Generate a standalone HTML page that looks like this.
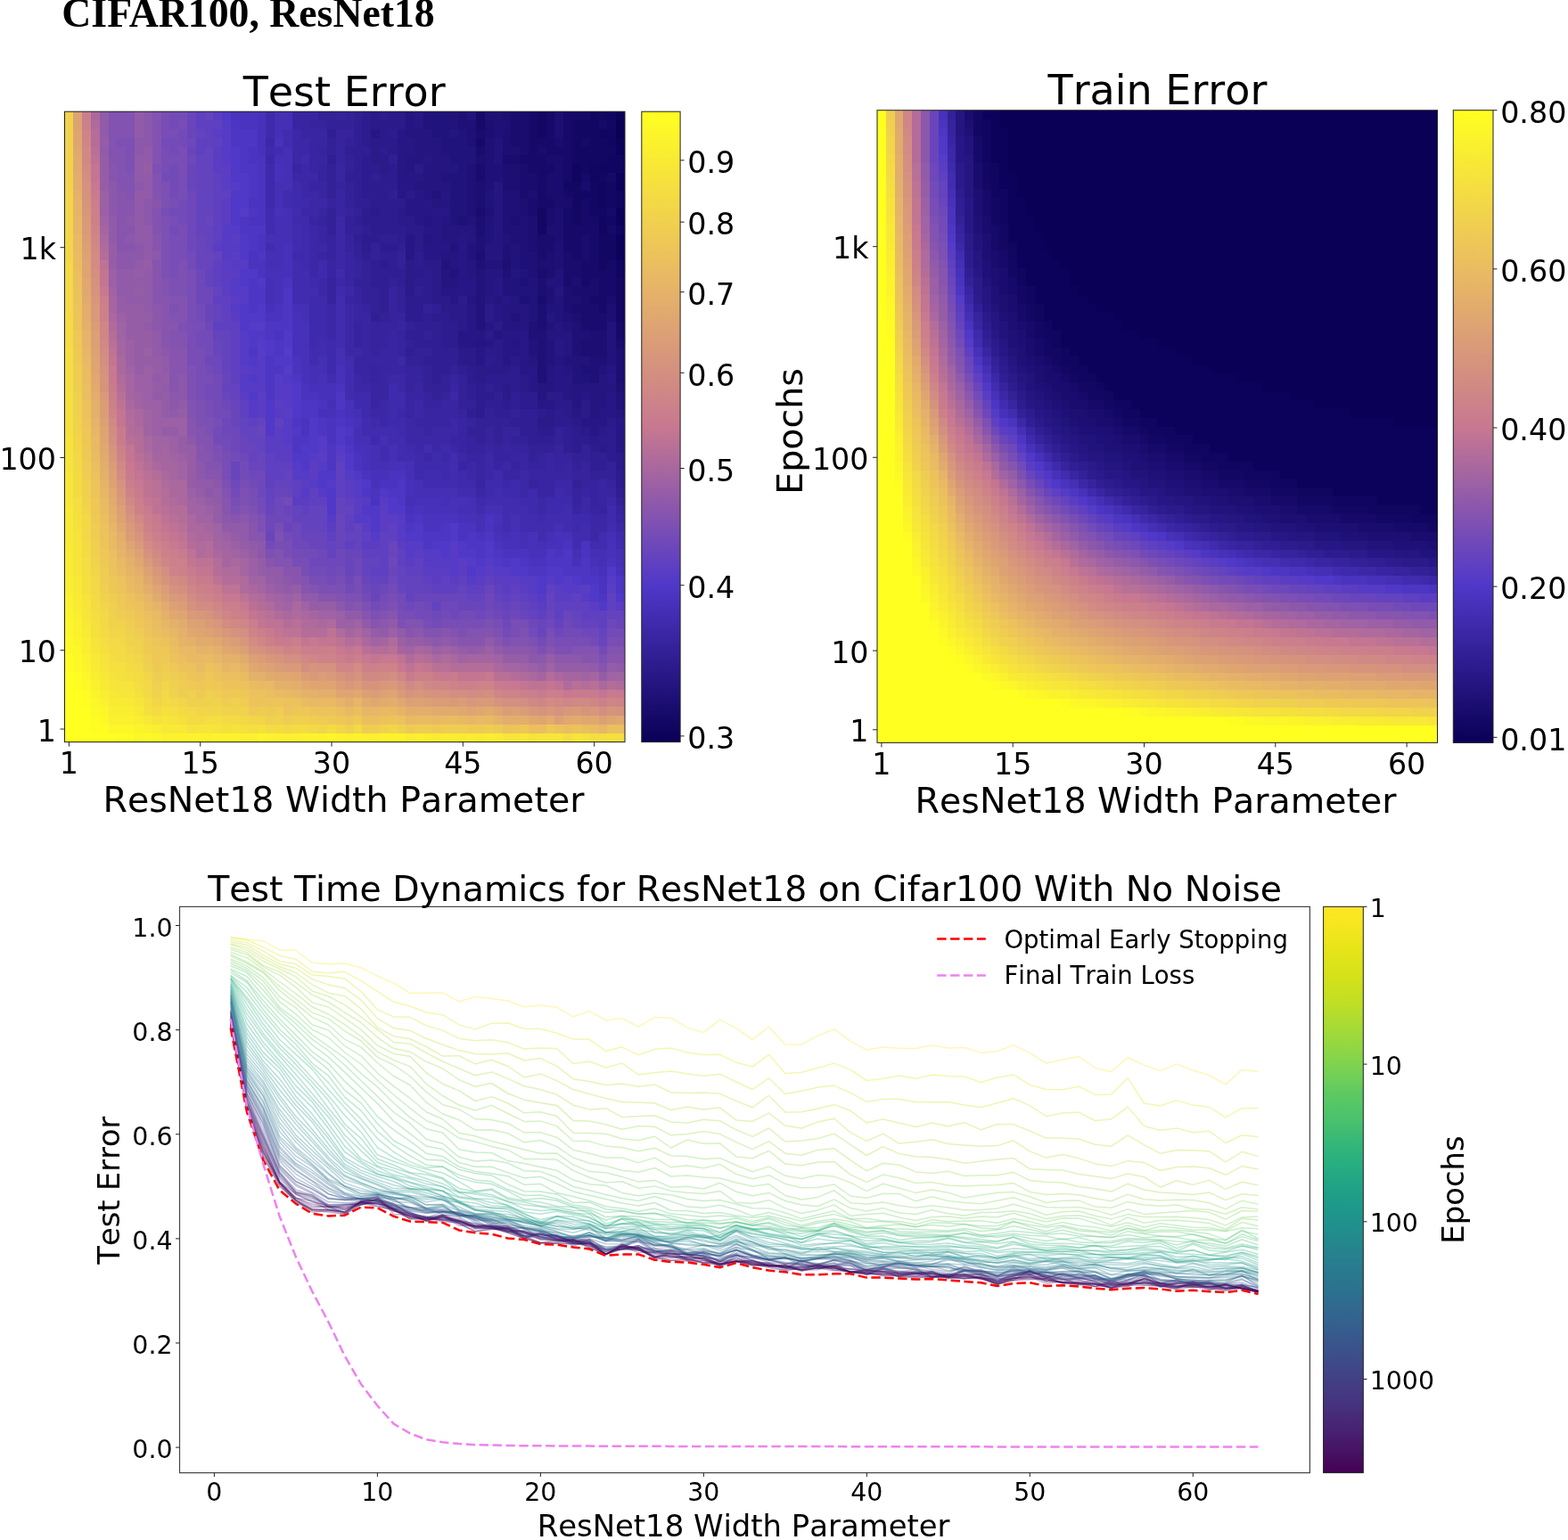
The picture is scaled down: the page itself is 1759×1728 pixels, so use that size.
<!DOCTYPE html>
<html><head><meta charset="utf-8"><title>CIFAR100, ResNet18</title>
<style>
html,body{margin:0;padding:0;background:#fff;}
body{width:1759px;height:1728px;overflow:hidden;position:relative;}
h2{position:absolute;left:69.312px;top:-7.872159999999999px;margin:0;font-family:'Liberation Serif','Times New Roman',serif;font-weight:bold;font-size:45.76px;line-height:1;white-space:nowrap;color:#000;}
svg{position:absolute;left:0;top:0;}
svg text{font-family:'DejaVu Sans','Liberation Sans',sans-serif;fill:#000;font-kerning:none;}
</style></head><body>
<h2>CIFAR100, ResNet18</h2>
<svg width="1759" height="1728" viewBox="0 0 1759 1728">
<g transform="translate(72.5,125.2) scale(9.82031,9.82500)" shape-rendering="crispEdges">
<rect x="0" y="0" width="64" height="72" fill="#0a0056"/>
<path fill="#0d025b" d="M63 16h1v1h-1zM63 15h1v1h-1zM63 14h1v1h-1zM63 12h1v1h-1zM63 11h1v1h-1zM63 8h1v1h-1zM63 7h1v1h-1zM63 4h1v1h-1zM63 3h1v1h-1zM63 0h1v1h-1z"/>
<path fill="#100560" d="M63 18h1v1h-1zM63 17h1v1h-1zM61 13h1v1h-1zM63 13h1v1h-1zM61 12h1v1h-1zM61 10h1v1h-1zM63 10h1v1h-1zM61 9h1v1h-1zM63 9h1v1h-1zM61 8h1v1h-1zM58 7h1v1h-1zM60 7h1v1h-1zM58 6h1v1h-1zM60 6h4v1h-4zM62 5h2v1h-2zM62 3h1v1h-1zM61 2h2v1h-2zM60 0h1v1h-1zM62 0h1v1h-1z"/>
<path fill="#130764" d="M63 23h1v1h-1zM63 22h1v1h-1zM63 21h1v1h-1zM63 20h1v1h-1zM63 19h1v1h-1zM61 17h1v1h-1zM61 16h2v1h-2zM61 15h2v1h-2zM61 14h2v1h-2zM54 13h1v1h-1zM54 12h1v1h-1zM58 12h1v1h-1zM62 12h1v1h-1zM54 11h1v1h-1zM58 11h1v1h-1zM60 11h2v1h-2zM58 10h1v1h-1zM60 10h1v1h-1zM62 10h1v1h-1zM58 9h3v1h-3zM62 9h1v1h-1zM57 8h2v1h-2zM60 8h1v1h-1zM62 8h1v1h-1zM61 7h1v1h-1zM59 6h1v1h-1zM58 5h4v1h-4zM58 4h5v1h-5zM58 3h1v1h-1zM60 3h2v1h-2zM54 2h1v1h-1zM58 2h3v1h-3zM54 1h1v1h-1zM58 1h3v1h-3zM62 1h1v1h-1zM54 0h1v1h-1zM61 0h1v1h-1z"/>
<path fill="#160969" d="M63 25h1v1h-1zM63 24h1v1h-1zM61 22h1v1h-1zM60 21h2v1h-2zM61 20h2v1h-2zM59 19h1v1h-1zM61 19h2v1h-2zM59 18h4v1h-4zM59 17h2v1h-2zM62 17h1v1h-1zM58 16h1v1h-1zM60 16h1v1h-1zM57 15h2v1h-2zM60 15h1v1h-1zM57 14h2v1h-2zM60 14h1v1h-1zM57 13h4v1h-4zM62 13h1v1h-1zM57 12h1v1h-1zM59 12h2v1h-2zM57 11h1v1h-1zM59 11h1v1h-1zM62 11h1v1h-1zM54 10h2v1h-2zM59 10h1v1h-1zM54 9h1v1h-1zM57 9h1v1h-1zM54 8h1v1h-1zM54 7h1v1h-1zM57 7h1v1h-1zM59 7h1v1h-1zM62 7h1v1h-1zM53 6h3v1h-3zM57 6h1v1h-1zM52 5h3v1h-3zM57 5h1v1h-1zM53 4h1v1h-1zM55 4h3v1h-3zM47 3h1v1h-1zM53 3h3v1h-3zM57 3h1v1h-1zM59 3h1v1h-1zM53 2h1v1h-1zM55 2h1v1h-1zM57 2h1v1h-1zM47 1h1v1h-1zM53 1h1v1h-1zM55 1h1v1h-1zM57 1h1v1h-1zM61 1h1v1h-1zM47 0h1v1h-1zM53 0h1v1h-1zM55 0h1v1h-1zM57 0h3v1h-3z"/>
<path fill="#190c6e" d="M63 26h1v1h-1zM59 24h3v1h-3zM59 23h3v1h-3zM58 22h3v1h-3zM54 21h1v1h-1zM59 21h1v1h-1zM62 21h1v1h-1zM58 20h3v1h-3zM57 19h1v1h-1zM60 19h1v1h-1zM54 18h1v1h-1zM57 18h2v1h-2zM57 17h2v1h-2zM54 16h1v1h-1zM57 16h1v1h-1zM59 16h1v1h-1zM54 15h2v1h-2zM59 15h1v1h-1zM54 14h2v1h-2zM59 14h1v1h-1zM55 12h1v1h-1zM47 11h1v1h-1zM53 11h1v1h-1zM55 11h1v1h-1zM53 10h1v1h-1zM56 10h2v1h-2zM52 9h1v1h-1zM55 9h2v1h-2zM52 8h2v1h-2zM55 8h2v1h-2zM59 8h1v1h-1zM47 7h1v1h-1zM52 7h2v1h-2zM55 7h2v1h-2zM47 6h1v1h-1zM52 6h1v1h-1zM56 6h1v1h-1zM50 5h2v1h-2zM55 5h2v1h-2zM47 4h1v1h-1zM52 4h1v1h-1zM54 4h1v1h-1zM51 3h2v1h-2zM56 3h1v1h-1zM47 2h1v1h-1zM51 2h2v1h-2zM51 1h2v1h-2zM51 0h2v1h-2z"/>
<path fill="#1c0e72" d="M63 30h1v1h-1zM63 29h1v1h-1zM63 28h1v1h-1zM59 27h3v1h-3zM63 27h1v1h-1zM59 26h3v1h-3zM60 25h2v1h-2zM54 24h1v1h-1zM54 23h1v1h-1zM58 23h1v1h-1zM62 23h1v1h-1zM54 22h1v1h-1zM57 22h1v1h-1zM62 22h1v1h-1zM57 21h2v1h-2zM54 20h1v1h-1zM57 20h1v1h-1zM54 19h1v1h-1zM58 19h1v1h-1zM55 18h1v1h-1zM50 17h1v1h-1zM54 17h2v1h-2zM47 16h1v1h-1zM55 16h1v1h-1zM53 15h1v1h-1zM53 14h1v1h-1zM56 14h1v1h-1zM47 13h1v1h-1zM53 13h1v1h-1zM55 13h2v1h-2zM47 12h1v1h-1zM51 12h1v1h-1zM53 12h1v1h-1zM56 12h1v1h-1zM52 11h1v1h-1zM56 11h1v1h-1zM47 10h1v1h-1zM52 10h1v1h-1zM47 9h1v1h-1zM53 9h1v1h-1zM47 8h1v1h-1zM50 8h2v1h-2zM50 7h2v1h-2zM50 6h2v1h-2zM47 5h1v1h-1zM50 4h2v1h-2zM50 3h1v1h-1zM48 2h1v1h-1zM50 2h1v1h-1zM56 2h1v1h-1zM48 1h1v1h-1zM56 1h1v1h-1zM50 0h1v1h-1zM56 0h1v1h-1z"/>
<path fill="#1e1077" d="M63 31h1v1h-1zM54 30h1v1h-1zM60 30h1v1h-1zM54 29h1v1h-1zM59 29h2v1h-2zM54 28h1v1h-1zM60 28h2v1h-2zM54 27h1v1h-1zM58 27h1v1h-1zM54 26h1v1h-1zM58 26h1v1h-1zM53 25h2v1h-2zM58 25h2v1h-2zM53 24h1v1h-1zM58 24h1v1h-1zM57 23h1v1h-1zM52 21h1v1h-1zM55 21h1v1h-1zM55 20h1v1h-1zM52 19h1v1h-1zM50 18h1v1h-1zM53 18h1v1h-1zM47 17h1v1h-1zM52 17h2v1h-2zM56 17h1v1h-1zM50 16h1v1h-1zM52 16h2v1h-2zM56 16h1v1h-1zM47 15h1v1h-1zM50 15h1v1h-1zM52 15h1v1h-1zM56 15h1v1h-1zM47 14h1v1h-1zM51 14h2v1h-2zM50 13h3v1h-3zM45 12h1v1h-1zM50 12h1v1h-1zM52 12h1v1h-1zM46 11h1v1h-1zM48 11h1v1h-1zM50 11h2v1h-2zM46 10h1v1h-1zM50 10h2v1h-2zM46 9h1v1h-1zM50 9h2v1h-2zM46 8h1v1h-1zM48 8h1v1h-1zM46 7h1v1h-1zM48 7h2v1h-2zM46 6h1v1h-1zM48 6h2v1h-2zM48 5h1v1h-1zM48 4h1v1h-1zM46 3h1v1h-1zM48 3h1v1h-1zM46 2h1v1h-1zM49 2h1v1h-1zM45 1h2v1h-2zM49 1h2v1h-2zM45 0h1v1h-1zM48 0h2v1h-2z"/>
<path fill="#21137c" d="M63 33h1v1h-1zM63 32h1v1h-1zM58 30h2v1h-2zM58 29h1v1h-1zM61 29h1v1h-1zM55 28h1v1h-1zM57 28h3v1h-3zM62 28h1v1h-1zM53 27h1v1h-1zM55 27h1v1h-1zM62 27h1v1h-1zM53 26h1v1h-1zM55 26h1v1h-1zM62 26h1v1h-1zM62 25h1v1h-1zM47 24h1v1h-1zM55 24h1v1h-1zM57 24h1v1h-1zM62 24h1v1h-1zM47 23h1v1h-1zM51 23h1v1h-1zM53 23h1v1h-1zM56 23h1v1h-1zM47 22h1v1h-1zM53 22h1v1h-1zM55 22h2v1h-2zM47 21h1v1h-1zM53 21h1v1h-1zM56 21h1v1h-1zM47 20h1v1h-1zM50 20h4v1h-4zM47 19h1v1h-1zM50 19h2v1h-2zM53 19h1v1h-1zM55 19h2v1h-2zM44 18h1v1h-1zM47 18h1v1h-1zM52 18h1v1h-1zM56 18h1v1h-1zM43 17h1v1h-1zM48 17h2v1h-2zM51 17h1v1h-1zM46 16h1v1h-1zM51 16h1v1h-1zM44 15h1v1h-1zM46 15h1v1h-1zM51 15h1v1h-1zM48 14h1v1h-1zM50 14h1v1h-1zM48 13h1v1h-1zM44 12h1v1h-1zM46 12h1v1h-1zM48 12h1v1h-1zM44 11h2v1h-2zM44 10h2v1h-2zM48 10h1v1h-1zM42 9h1v1h-1zM44 9h2v1h-2zM48 9h1v1h-1zM44 8h2v1h-2zM43 7h3v1h-3zM45 6h1v1h-1zM44 5h3v1h-3zM49 5h1v1h-1zM43 4h4v1h-4zM49 4h1v1h-1zM43 3h3v1h-3zM49 3h1v1h-1zM42 2h2v1h-2zM45 2h1v1h-1zM41 1h4v1h-4zM41 0h4v1h-4zM46 0h1v1h-1z"/>
<path fill="#241581" d="M60 34h1v1h-1zM63 34h1v1h-1zM58 33h1v1h-1zM60 33h2v1h-2zM54 32h1v1h-1zM58 32h1v1h-1zM60 32h2v1h-2zM54 31h2v1h-2zM58 31h5v1h-5zM55 30h1v1h-1zM61 30h1v1h-1zM55 29h1v1h-1zM57 29h1v1h-1zM62 29h1v1h-1zM53 28h1v1h-1zM56 28h1v1h-1zM57 27h1v1h-1zM47 26h1v1h-1zM51 26h1v1h-1zM57 26h1v1h-1zM49 25h1v1h-1zM55 25h3v1h-3zM50 24h3v1h-3zM56 24h1v1h-1zM50 23h1v1h-1zM52 23h1v1h-1zM55 23h1v1h-1zM50 22h3v1h-3zM46 21h1v1h-1zM49 21h1v1h-1zM51 21h1v1h-1zM48 20h1v1h-1zM56 20h1v1h-1zM43 19h2v1h-2zM48 19h1v1h-1zM43 18h1v1h-1zM46 18h1v1h-1zM48 18h2v1h-2zM51 18h1v1h-1zM44 17h1v1h-1zM46 17h1v1h-1zM43 16h2v1h-2zM48 16h2v1h-2zM48 15h2v1h-2zM41 14h1v1h-1zM43 14h2v1h-2zM46 14h1v1h-1zM49 14h1v1h-1zM43 13h4v1h-4zM49 13h1v1h-1zM41 12h1v1h-1zM43 12h1v1h-1zM49 12h1v1h-1zM49 11h1v1h-1zM42 10h2v1h-2zM49 10h1v1h-1zM41 9h1v1h-1zM49 9h1v1h-1zM40 8h4v1h-4zM49 8h1v1h-1zM41 7h2v1h-2zM39 6h1v1h-1zM41 6h4v1h-4zM39 5h2v1h-2zM42 5h2v1h-2zM40 4h3v1h-3zM40 3h3v1h-3zM39 2h3v1h-3zM44 2h1v1h-1zM39 1h1v1h-1zM39 0h1v1h-1z"/>
<path fill="#271786" d="M63 38h1v1h-1zM63 37h1v1h-1zM60 36h1v1h-1zM63 36h1v1h-1zM59 35h3v1h-3zM63 35h1v1h-1zM58 34h1v1h-1zM61 34h2v1h-2zM54 33h2v1h-2zM62 33h1v1h-1zM57 32h1v1h-1zM59 32h1v1h-1zM62 32h1v1h-1zM53 31h1v1h-1zM56 31h2v1h-2zM53 30h1v1h-1zM56 30h2v1h-2zM62 30h1v1h-1zM52 29h2v1h-2zM56 29h1v1h-1zM47 28h1v1h-1zM50 28h1v1h-1zM52 28h1v1h-1zM47 27h1v1h-1zM50 27h3v1h-3zM56 27h1v1h-1zM45 26h2v1h-2zM48 26h1v1h-1zM50 26h1v1h-1zM52 26h1v1h-1zM56 26h1v1h-1zM45 25h3v1h-3zM50 25h3v1h-3zM46 24h1v1h-1zM48 24h1v1h-1zM46 23h1v1h-1zM49 23h1v1h-1zM46 22h1v1h-1zM49 22h1v1h-1zM44 21h1v1h-1zM48 21h1v1h-1zM50 21h1v1h-1zM43 20h4v1h-4zM49 20h1v1h-1zM45 19h2v1h-2zM49 19h1v1h-1zM45 18h1v1h-1zM45 17h1v1h-1zM39 16h1v1h-1zM41 16h2v1h-2zM45 16h1v1h-1zM39 15h1v1h-1zM41 15h3v1h-3zM45 15h1v1h-1zM39 14h1v1h-1zM42 14h1v1h-1zM45 14h1v1h-1zM41 13h2v1h-2zM40 12h1v1h-1zM42 12h1v1h-1zM39 11h5v1h-5zM39 10h3v1h-3zM38 9h1v1h-1zM40 9h1v1h-1zM43 9h1v1h-1zM38 8h2v1h-2zM38 7h3v1h-3zM38 6h1v1h-1zM38 5h1v1h-1zM41 5h1v1h-1zM38 4h2v1h-2zM38 3h2v1h-2zM35 2h1v1h-1zM38 2h1v1h-1zM40 1h1v1h-1zM40 0h1v1h-1z"/>
<path fill="#2a1a8a" d="M63 40h1v1h-1zM63 39h1v1h-1zM61 38h1v1h-1zM60 37h1v1h-1zM59 36h1v1h-1zM61 36h1v1h-1zM54 35h2v1h-2zM58 35h1v1h-1zM62 35h1v1h-1zM55 34h1v1h-1zM57 34h1v1h-1zM59 34h1v1h-1zM56 33h2v1h-2zM59 33h1v1h-1zM50 32h1v1h-1zM55 32h2v1h-2zM50 31h1v1h-1zM52 31h1v1h-1zM47 30h1v1h-1zM52 30h1v1h-1zM47 29h4v1h-4zM45 28h2v1h-2zM49 28h1v1h-1zM51 28h1v1h-1zM45 27h2v1h-2zM48 27h2v1h-2zM49 26h1v1h-1zM48 25h1v1h-1zM45 24h1v1h-1zM49 24h1v1h-1zM44 23h2v1h-2zM48 23h1v1h-1zM43 22h3v1h-3zM48 22h1v1h-1zM42 21h2v1h-2zM39 20h1v1h-1zM42 20h1v1h-1zM39 19h1v1h-1zM42 19h1v1h-1zM39 18h2v1h-2zM42 18h1v1h-1zM39 17h1v1h-1zM41 17h2v1h-2zM40 15h1v1h-1zM40 14h1v1h-1zM39 13h2v1h-2zM38 12h2v1h-2zM35 11h1v1h-1zM38 11h1v1h-1zM39 9h1v1h-1zM36 6h1v1h-1zM40 6h1v1h-1zM35 5h2v1h-2zM35 4h1v1h-1zM37 4h1v1h-1zM35 3h3v1h-3zM36 2h1v1h-1zM35 1h4v1h-4zM35 0h1v1h-1zM37 0h2v1h-2z"/>
<path fill="#2d1c8f" d="M63 42h1v1h-1zM63 41h1v1h-1zM62 39h1v1h-1zM58 38h1v1h-1zM60 38h1v1h-1zM62 38h1v1h-1zM58 37h2v1h-2zM61 37h2v1h-2zM54 36h2v1h-2zM58 36h1v1h-1zM62 36h1v1h-1zM56 35h2v1h-2zM47 34h1v1h-1zM54 34h1v1h-1zM56 34h1v1h-1zM47 33h1v1h-1zM50 33h1v1h-1zM52 33h2v1h-2zM47 32h2v1h-2zM52 32h2v1h-2zM47 31h1v1h-1zM49 31h1v1h-1zM51 31h1v1h-1zM46 30h1v1h-1zM48 30h4v1h-4zM46 29h1v1h-1zM51 29h1v1h-1zM48 28h1v1h-1zM43 26h2v1h-2zM43 25h2v1h-2zM43 24h2v1h-2zM39 23h2v1h-2zM42 23h2v1h-2zM39 22h2v1h-2zM39 21h3v1h-3zM45 21h1v1h-1zM41 20h1v1h-1zM40 19h2v1h-2zM41 18h1v1h-1zM36 17h1v1h-1zM40 17h1v1h-1zM40 16h1v1h-1zM34 15h1v1h-1zM36 15h2v1h-2zM34 14h2v1h-2zM38 14h1v1h-1zM35 13h4v1h-4zM34 12h4v1h-4zM34 11h1v1h-1zM36 11h2v1h-2zM35 10h4v1h-4zM34 9h3v1h-3zM34 8h4v1h-4zM34 7h1v1h-1zM36 7h2v1h-2zM34 6h2v1h-2zM37 6h1v1h-1zM34 5h1v1h-1zM36 4h1v1h-1zM34 3h1v1h-1zM34 2h1v1h-1zM37 2h1v1h-1zM34 1h1v1h-1zM34 0h1v1h-1zM36 0h1v1h-1z"/>
<path fill="#301e94" d="M63 43h1v1h-1zM60 40h2v1h-2zM60 39h2v1h-2zM57 38h1v1h-1zM53 37h3v1h-3zM57 37h1v1h-1zM52 36h2v1h-2zM57 36h1v1h-1zM51 35h3v1h-3zM46 34h1v1h-1zM49 34h2v1h-2zM52 34h2v1h-2zM48 33h2v1h-2zM51 33h1v1h-1zM46 32h1v1h-1zM49 32h1v1h-1zM51 32h1v1h-1zM46 31h1v1h-1zM48 31h1v1h-1zM42 30h1v1h-1zM42 29h2v1h-2zM45 29h1v1h-1zM41 28h4v1h-4zM39 27h1v1h-1zM42 27h3v1h-3zM40 26h3v1h-3zM39 25h2v1h-2zM42 25h1v1h-1zM40 24h3v1h-3zM35 23h1v1h-1zM41 23h1v1h-1zM36 22h1v1h-1zM42 22h1v1h-1zM36 21h1v1h-1zM36 20h1v1h-1zM40 20h1v1h-1zM35 19h2v1h-2zM38 19h1v1h-1zM35 18h4v1h-4zM35 17h1v1h-1zM37 17h1v1h-1zM34 16h1v1h-1zM36 16h2v1h-2zM38 15h1v1h-1zM33 14h1v1h-1zM36 14h2v1h-2zM34 13h1v1h-1zM33 12h1v1h-1zM33 10h2v1h-2zM33 9h1v1h-1zM37 9h1v1h-1zM33 8h1v1h-1zM32 7h2v1h-2zM35 7h1v1h-1zM33 6h1v1h-1zM30 5h1v1h-1zM33 5h1v1h-1zM37 5h1v1h-1zM32 4h3v1h-3zM33 3h1v1h-1zM30 2h1v1h-1zM33 2h1v1h-1zM33 1h1v1h-1zM33 0h1v1h-1z"/>
<path fill="#332198" d="M63 44h1v1h-1zM58 42h1v1h-1zM60 41h3v1h-3zM58 40h1v1h-1zM62 40h1v1h-1zM53 39h1v1h-1zM58 39h2v1h-2zM53 38h3v1h-3zM59 38h1v1h-1zM47 37h1v1h-1zM49 37h1v1h-1zM51 37h2v1h-2zM56 37h1v1h-1zM46 36h2v1h-2zM49 36h1v1h-1zM56 36h1v1h-1zM47 35h4v1h-4zM48 34h1v1h-1zM51 34h1v1h-1zM45 33h2v1h-2zM42 32h1v1h-1zM45 32h1v1h-1zM41 31h3v1h-3zM45 31h1v1h-1zM41 30h1v1h-1zM43 30h1v1h-1zM45 30h1v1h-1zM41 29h1v1h-1zM44 29h1v1h-1zM39 28h2v1h-2zM40 27h2v1h-2zM39 26h1v1h-1zM41 25h1v1h-1zM39 24h1v1h-1zM36 23h1v1h-1zM35 22h1v1h-1zM38 22h1v1h-1zM41 22h1v1h-1zM34 21h2v1h-2zM38 21h1v1h-1zM34 20h2v1h-2zM38 20h1v1h-1zM33 19h2v1h-2zM37 19h1v1h-1zM34 18h1v1h-1zM34 17h1v1h-1zM38 17h1v1h-1zM33 16h1v1h-1zM35 16h1v1h-1zM38 16h1v1h-1zM33 15h1v1h-1zM35 15h1v1h-1zM30 13h1v1h-1zM32 13h2v1h-2zM30 12h1v1h-1zM32 12h1v1h-1zM30 11h1v1h-1zM33 11h1v1h-1zM32 10h1v1h-1zM30 9h1v1h-1zM32 9h1v1h-1zM30 8h1v1h-1zM32 8h1v1h-1zM30 7h1v1h-1zM30 6h1v1h-1zM32 6h1v1h-1zM32 5h1v1h-1zM30 4h1v1h-1zM30 3h1v1h-1zM32 3h1v1h-1zM30 1h3v1h-3zM29 0h2v1h-2zM32 0h1v1h-1z"/>
<path fill="#36239d" d="M61 45h1v1h-1zM63 45h1v1h-1zM58 44h1v1h-1zM60 44h1v1h-1zM58 43h1v1h-1zM60 43h1v1h-1zM53 42h1v1h-1zM59 42h2v1h-2zM62 42h1v1h-1zM58 41h2v1h-2zM51 40h1v1h-1zM53 40h2v1h-2zM56 40h1v1h-1zM59 40h1v1h-1zM49 39h2v1h-2zM54 39h1v1h-1zM56 39h2v1h-2zM46 38h2v1h-2zM49 38h1v1h-1zM51 38h2v1h-2zM56 38h1v1h-1zM46 37h1v1h-1zM48 37h1v1h-1zM50 37h1v1h-1zM48 36h1v1h-1zM50 36h2v1h-2zM46 35h1v1h-1zM45 34h1v1h-1zM41 33h2v1h-2zM41 32h1v1h-1zM43 32h1v1h-1zM39 31h1v1h-1zM35 30h1v1h-1zM39 30h2v1h-2zM44 30h1v1h-1zM35 29h1v1h-1zM39 29h2v1h-2zM35 27h1v1h-1zM38 27h1v1h-1zM33 26h1v1h-1zM35 26h2v1h-2zM38 26h1v1h-1zM33 25h1v1h-1zM35 25h2v1h-2zM38 25h1v1h-1zM33 24h1v1h-1zM35 24h3v1h-3zM37 23h2v1h-2zM34 22h1v1h-1zM37 22h1v1h-1zM30 21h1v1h-1zM33 21h1v1h-1zM37 21h1v1h-1zM30 20h1v1h-1zM33 20h1v1h-1zM37 20h1v1h-1zM30 19h1v1h-1zM33 18h1v1h-1zM33 17h1v1h-1zM30 16h1v1h-1zM30 15h1v1h-1zM32 15h1v1h-1zM30 14h1v1h-1zM32 14h1v1h-1zM29 12h1v1h-1zM32 11h1v1h-1zM30 10h1v1h-1zM31 8h1v1h-1zM29 7h1v1h-1zM29 6h1v1h-1zM31 5h1v1h-1zM29 4h1v1h-1zM31 4h1v1h-1zM31 3h1v1h-1zM31 2h2v1h-2zM28 1h2v1h-2zM31 0h1v1h-1z"/>
<path fill="#3925a2" d="M63 46h1v1h-1zM58 45h1v1h-1zM60 45h1v1h-1zM61 44h1v1h-1zM54 43h2v1h-2zM59 43h1v1h-1zM61 43h2v1h-2zM47 42h1v1h-1zM54 42h2v1h-2zM61 42h1v1h-1zM47 41h1v1h-1zM50 41h2v1h-2zM53 41h5v1h-5zM45 40h1v1h-1zM47 40h1v1h-1zM49 40h1v1h-1zM52 40h1v1h-1zM55 40h1v1h-1zM57 40h1v1h-1zM46 39h2v1h-2zM51 39h2v1h-2zM55 39h1v1h-1zM45 38h1v1h-1zM48 38h1v1h-1zM50 38h1v1h-1zM44 37h2v1h-2zM41 36h1v1h-1zM45 36h1v1h-1zM40 35h4v1h-4zM45 35h1v1h-1zM39 34h1v1h-1zM41 34h4v1h-4zM35 33h1v1h-1zM39 33h1v1h-1zM43 33h2v1h-2zM35 32h2v1h-2zM39 32h2v1h-2zM35 31h2v1h-2zM40 31h1v1h-1zM44 31h1v1h-1zM34 30h1v1h-1zM36 30h1v1h-1zM33 29h2v1h-2zM36 29h3v1h-3zM33 28h5v1h-5zM34 27h1v1h-1zM36 27h2v1h-2zM34 26h1v1h-1zM37 26h1v1h-1zM34 25h1v1h-1zM37 25h1v1h-1zM34 24h1v1h-1zM38 24h1v1h-1zM33 23h2v1h-2zM33 22h1v1h-1zM32 21h1v1h-1zM32 19h1v1h-1zM30 18h1v1h-1zM32 18h1v1h-1zM30 17h1v1h-1zM32 17h1v1h-1zM29 16h1v1h-1zM32 16h1v1h-1zM29 14h1v1h-1zM29 13h1v1h-1zM28 12h1v1h-1zM29 11h1v1h-1zM31 11h1v1h-1zM31 10h1v1h-1zM29 9h1v1h-1zM31 9h1v1h-1zM28 8h2v1h-2zM31 7h1v1h-1zM26 6h1v1h-1zM28 6h1v1h-1zM31 6h1v1h-1zM28 5h2v1h-2zM28 4h1v1h-1zM28 3h2v1h-2zM27 2h3v1h-3zM26 1h2v1h-2zM26 0h3v1h-3z"/>
<path fill="#3c28a7" d="M60 48h1v1h-1zM60 47h2v1h-2zM63 47h1v1h-1zM60 46h2v1h-2zM54 45h1v1h-1zM59 45h1v1h-1zM54 44h1v1h-1zM59 44h1v1h-1zM62 44h1v1h-1zM47 43h1v1h-1zM52 43h1v1h-1zM57 43h1v1h-1zM50 42h1v1h-1zM52 42h1v1h-1zM56 42h2v1h-2zM46 41h1v1h-1zM48 41h1v1h-1zM52 41h1v1h-1zM46 40h1v1h-1zM48 40h1v1h-1zM50 40h1v1h-1zM41 39h1v1h-1zM43 39h1v1h-1zM45 39h1v1h-1zM48 39h1v1h-1zM40 38h1v1h-1zM42 38h1v1h-1zM44 38h1v1h-1zM39 37h5v1h-5zM39 36h2v1h-2zM42 36h3v1h-3zM36 35h1v1h-1zM39 35h1v1h-1zM44 35h1v1h-1zM35 34h2v1h-2zM38 34h1v1h-1zM40 34h1v1h-1zM36 33h1v1h-1zM40 33h1v1h-1zM44 32h1v1h-1zM33 31h2v1h-2zM38 31h1v1h-1zM33 30h1v1h-1zM37 30h2v1h-2zM38 28h1v1h-1zM32 27h2v1h-2zM32 26h1v1h-1zM30 25h1v1h-1zM32 25h1v1h-1zM30 24h1v1h-1zM32 24h1v1h-1zM30 23h1v1h-1zM32 23h1v1h-1zM30 22h1v1h-1zM32 22h1v1h-1zM29 20h1v1h-1zM32 20h1v1h-1zM29 19h1v1h-1zM31 19h1v1h-1zM28 18h1v1h-1zM28 17h1v1h-1zM31 17h1v1h-1zM28 16h1v1h-1zM31 16h1v1h-1zM28 15h2v1h-2zM31 15h1v1h-1zM28 14h1v1h-1zM31 14h1v1h-1zM28 13h1v1h-1zM31 13h1v1h-1zM31 12h1v1h-1zM27 11h2v1h-2zM28 10h2v1h-2zM27 9h2v1h-2zM27 8h1v1h-1zM26 7h3v1h-3zM27 6h1v1h-1zM23 5h1v1h-1zM26 5h1v1h-1zM26 4h2v1h-2zM23 3h1v1h-1zM26 3h2v1h-2zM26 2h1v1h-1z"/>
<path fill="#3e2aac" d="M63 48h1v1h-1zM58 47h1v1h-1zM54 46h1v1h-1zM58 46h2v1h-2zM62 46h1v1h-1zM53 45h1v1h-1zM55 45h2v1h-2zM62 45h1v1h-1zM47 44h1v1h-1zM52 44h2v1h-2zM55 44h3v1h-3zM48 43h1v1h-1zM50 43h2v1h-2zM53 43h1v1h-1zM56 43h1v1h-1zM45 42h2v1h-2zM48 42h2v1h-2zM51 42h1v1h-1zM40 41h1v1h-1zM43 41h1v1h-1zM45 41h1v1h-1zM49 41h1v1h-1zM40 40h4v1h-4zM40 39h1v1h-1zM42 39h1v1h-1zM39 38h1v1h-1zM43 38h1v1h-1zM35 37h1v1h-1zM38 36h1v1h-1zM35 35h1v1h-1zM37 35h2v1h-2zM34 34h1v1h-1zM37 34h1v1h-1zM33 33h2v1h-2zM37 33h2v1h-2zM33 32h2v1h-2zM37 32h2v1h-2zM37 31h1v1h-1zM30 29h1v1h-1zM30 28h1v1h-1zM30 27h1v1h-1zM28 26h1v1h-1zM30 26h1v1h-1zM28 25h2v1h-2zM28 24h2v1h-2zM28 23h2v1h-2zM28 22h2v1h-2zM28 21h2v1h-2zM31 20h1v1h-1zM28 19h1v1h-1zM29 18h1v1h-1zM31 18h1v1h-1zM27 17h1v1h-1zM29 17h1v1h-1zM26 16h2v1h-2zM27 15h1v1h-1zM27 14h1v1h-1zM27 13h1v1h-1zM26 12h2v1h-2zM23 10h1v1h-1zM26 10h2v1h-2zM23 9h1v1h-1zM26 9h1v1h-1zM23 8h1v1h-1zM26 8h1v1h-1zM23 7h1v1h-1zM23 6h1v1h-1zM27 5h1v1h-1zM23 4h1v1h-1zM23 2h1v1h-1zM23 1h1v1h-1zM23 0h1v1h-1z"/>
<path fill="#412cb0" d="M58 49h1v1h-1zM60 49h2v1h-2zM63 49h1v1h-1zM54 48h1v1h-1zM58 48h2v1h-2zM61 48h1v1h-1zM50 47h1v1h-1zM52 47h4v1h-4zM57 47h1v1h-1zM59 47h1v1h-1zM62 47h1v1h-1zM50 46h1v1h-1zM52 46h2v1h-2zM55 46h3v1h-3zM47 45h1v1h-1zM50 45h3v1h-3zM57 45h1v1h-1zM48 44h4v1h-4zM45 43h2v1h-2zM49 43h1v1h-1zM41 42h4v1h-4zM41 41h2v1h-2zM44 41h1v1h-1zM44 40h1v1h-1zM36 39h1v1h-1zM38 39h2v1h-2zM44 39h1v1h-1zM36 38h1v1h-1zM38 38h1v1h-1zM41 38h1v1h-1zM37 37h2v1h-2zM34 36h4v1h-4zM34 35h1v1h-1zM32 32h1v1h-1zM32 31h1v1h-1zM30 30h1v1h-1zM32 30h1v1h-1zM32 29h1v1h-1zM28 28h1v1h-1zM32 28h1v1h-1zM28 27h2v1h-2zM29 26h1v1h-1zM31 26h1v1h-1zM31 25h1v1h-1zM31 24h1v1h-1zM31 23h1v1h-1zM31 22h1v1h-1zM26 21h2v1h-2zM31 21h1v1h-1zM26 20h3v1h-3zM26 19h2v1h-2zM26 18h2v1h-2zM26 17h1v1h-1zM23 15h1v1h-1zM26 15h1v1h-1zM26 14h1v1h-1zM23 13h1v1h-1zM26 13h1v1h-1zM23 12h1v1h-1zM23 11h1v1h-1zM26 11h1v1h-1zM25 10h1v1h-1zM25 9h1v1h-1zM24 4h1v1h-1zM25 3h1v1h-1zM25 2h1v1h-1z"/>
<path fill="#442fb5" d="M61 51h1v1h-1zM63 51h1v1h-1zM58 50h1v1h-1zM60 50h2v1h-2zM63 50h1v1h-1zM52 49h1v1h-1zM54 49h1v1h-1zM50 48h1v1h-1zM52 48h1v1h-1zM55 48h1v1h-1zM62 48h1v1h-1zM47 47h1v1h-1zM49 47h1v1h-1zM51 47h1v1h-1zM56 47h1v1h-1zM47 46h1v1h-1zM51 46h1v1h-1zM45 45h2v1h-2zM48 45h2v1h-2zM39 44h1v1h-1zM43 44h1v1h-1zM46 44h1v1h-1zM40 43h5v1h-5zM40 42h1v1h-1zM39 41h1v1h-1zM35 40h2v1h-2zM39 40h1v1h-1zM35 39h1v1h-1zM37 39h1v1h-1zM35 38h1v1h-1zM37 38h1v1h-1zM33 37h2v1h-2zM36 37h1v1h-1zM33 36h1v1h-1zM33 34h1v1h-1zM30 33h1v1h-1zM28 30h1v1h-1zM28 29h2v1h-2zM29 28h1v1h-1zM31 28h1v1h-1zM31 27h1v1h-1zM27 23h1v1h-1zM26 22h2v1h-2zM23 21h1v1h-1zM23 20h1v1h-1zM23 19h1v1h-1zM23 17h2v1h-2zM23 16h2v1h-2zM24 15h1v1h-1zM23 14h3v1h-3zM24 13h2v1h-2zM24 12h2v1h-2zM25 11h1v1h-1zM24 10h1v1h-1zM24 9h1v1h-1zM24 8h2v1h-2zM25 7h1v1h-1zM25 6h1v1h-1zM24 5h2v1h-2zM25 4h1v1h-1zM24 2h1v1h-1zM24 1h2v1h-2zM24 0h2v1h-2z"/>
<path fill="#4731ba" d="M61 52h1v1h-1zM63 52h1v1h-1zM58 51h1v1h-1zM60 51h1v1h-1zM53 50h2v1h-2zM62 50h1v1h-1zM50 49h2v1h-2zM53 49h1v1h-1zM55 49h2v1h-2zM62 49h1v1h-1zM49 48h1v1h-1zM51 48h1v1h-1zM53 48h1v1h-1zM56 48h2v1h-2zM45 46h2v1h-2zM49 46h1v1h-1zM39 45h1v1h-1zM41 45h4v1h-4zM40 44h3v1h-3zM44 44h2v1h-2zM39 43h1v1h-1zM35 42h1v1h-1zM39 42h1v1h-1zM35 41h2v1h-2zM34 40h1v1h-1zM37 40h2v1h-2zM34 39h1v1h-1zM33 38h2v1h-2zM33 35h1v1h-1zM29 34h2v1h-2zM32 34h1v1h-1zM32 33h1v1h-1zM29 32h2v1h-2zM28 31h3v1h-3zM27 30h1v1h-1zM29 30h1v1h-1zM31 30h1v1h-1zM27 29h1v1h-1zM31 29h1v1h-1zM27 28h1v1h-1zM26 27h2v1h-2zM26 26h2v1h-2zM26 25h2v1h-2zM26 24h2v1h-2zM26 23h1v1h-1zM23 22h1v1h-1zM24 21h1v1h-1zM24 20h1v1h-1zM24 19h1v1h-1zM23 18h3v1h-3zM25 17h1v1h-1zM25 16h1v1h-1zM25 15h1v1h-1zM24 11h1v1h-1zM24 7h1v1h-1zM24 6h1v1h-1zM22 4h1v1h-1zM22 3h1v1h-1zM24 3h1v1h-1zM22 2h1v1h-1zM22 1h1v1h-1zM22 0h1v1h-1z"/>
<path fill="#4a33be" d="M61 54h1v1h-1zM61 53h1v1h-1zM60 52h1v1h-1zM53 51h2v1h-2zM62 51h1v1h-1zM50 50h3v1h-3zM56 50h1v1h-1zM59 50h1v1h-1zM49 49h1v1h-1zM57 49h1v1h-1zM59 49h1v1h-1zM45 48h1v1h-1zM47 48h1v1h-1zM41 47h2v1h-2zM45 47h2v1h-2zM48 47h1v1h-1zM39 46h1v1h-1zM41 46h4v1h-4zM48 46h1v1h-1zM40 45h1v1h-1zM35 44h1v1h-1zM35 43h1v1h-1zM36 42h2v1h-2zM34 41h1v1h-1zM37 41h2v1h-2zM33 40h1v1h-1zM33 39h1v1h-1zM30 37h1v1h-1zM32 37h1v1h-1zM27 36h1v1h-1zM30 36h1v1h-1zM27 35h1v1h-1zM30 35h1v1h-1zM32 35h1v1h-1zM31 34h1v1h-1zM29 33h1v1h-1zM27 32h2v1h-2zM27 31h1v1h-1zM31 31h1v1h-1zM26 29h1v1h-1zM26 28h1v1h-1zM24 25h1v1h-1zM23 23h2v1h-2zM24 22h1v1h-1zM25 19h1v1h-1zM22 18h1v1h-1zM21 17h2v1h-2zM21 16h1v1h-1zM22 15h1v1h-1zM22 14h1v1h-1zM21 12h2v1h-2zM22 11h1v1h-1zM21 10h2v1h-2zM22 9h1v1h-1zM22 8h1v1h-1zM22 7h1v1h-1zM22 6h1v1h-1zM21 5h2v1h-2zM21 4h1v1h-1zM20 1h2v1h-2zM19 0h3v1h-3z"/>
<path fill="#4d36c3" d="M61 55h1v1h-1zM63 54h1v1h-1zM59 53h2v1h-2zM63 53h1v1h-1zM53 52h2v1h-2zM57 52h3v1h-3zM50 51h1v1h-1zM52 51h1v1h-1zM55 51h3v1h-3zM59 51h1v1h-1zM47 50h1v1h-1zM49 50h1v1h-1zM55 50h1v1h-1zM57 50h1v1h-1zM41 49h1v1h-1zM46 49h2v1h-2zM41 48h3v1h-3zM46 48h1v1h-1zM48 48h1v1h-1zM39 47h1v1h-1zM43 47h1v1h-1zM40 46h1v1h-1zM38 44h1v1h-1zM34 43h1v1h-1zM37 43h2v1h-2zM38 42h1v1h-1zM30 40h1v1h-1zM30 39h1v1h-1zM26 38h1v1h-1zM30 38h1v1h-1zM32 38h1v1h-1zM26 37h2v1h-2zM29 36h1v1h-1zM32 36h1v1h-1zM26 35h1v1h-1zM29 35h1v1h-1zM31 35h1v1h-1zM27 34h2v1h-2zM27 33h2v1h-2zM31 33h1v1h-1zM23 32h1v1h-1zM31 32h1v1h-1zM23 31h1v1h-1zM23 30h1v1h-1zM26 30h1v1h-1zM23 29h2v1h-2zM23 28h1v1h-1zM21 27h1v1h-1zM24 27h1v1h-1zM24 26h1v1h-1zM23 25h1v1h-1zM23 24h3v1h-3zM25 23h1v1h-1zM21 22h1v1h-1zM25 22h1v1h-1zM21 21h2v1h-2zM25 21h1v1h-1zM21 20h2v1h-2zM25 20h1v1h-1zM21 19h1v1h-1zM22 16h1v1h-1zM21 15h1v1h-1zM21 14h1v1h-1zM20 13h3v1h-3zM20 12h1v1h-1zM21 11h1v1h-1zM21 9h1v1h-1zM21 8h1v1h-1zM21 7h1v1h-1zM20 6h2v1h-2zM20 5h1v1h-1zM20 4h1v1h-1zM19 3h3v1h-3zM19 2h3v1h-3zM19 1h1v1h-1z"/>
<path fill="#5038c8" d="M61 56h1v1h-1zM60 55h1v1h-1zM63 55h1v1h-1zM54 54h1v1h-1zM60 54h1v1h-1zM54 53h1v1h-1zM56 53h1v1h-1zM58 53h1v1h-1zM46 52h1v1h-1zM51 52h2v1h-2zM55 52h2v1h-2zM62 52h1v1h-1zM47 51h1v1h-1zM49 51h1v1h-1zM51 51h1v1h-1zM43 50h1v1h-1zM45 50h2v1h-2zM48 50h1v1h-1zM42 49h2v1h-2zM45 49h1v1h-1zM48 49h1v1h-1zM39 48h2v1h-2zM44 48h1v1h-1zM35 47h1v1h-1zM40 47h1v1h-1zM44 47h1v1h-1zM35 46h1v1h-1zM30 45h1v1h-1zM34 45h2v1h-2zM37 45h2v1h-2zM30 44h1v1h-1zM37 44h1v1h-1zM30 43h1v1h-1zM36 43h1v1h-1zM29 42h1v1h-1zM34 42h1v1h-1zM29 41h2v1h-2zM33 41h1v1h-1zM27 40h1v1h-1zM32 40h1v1h-1zM26 39h2v1h-2zM32 39h1v1h-1zM27 38h2v1h-2zM28 37h1v1h-1zM31 37h1v1h-1zM23 36h1v1h-1zM26 36h1v1h-1zM28 36h1v1h-1zM31 36h1v1h-1zM23 35h1v1h-1zM28 35h1v1h-1zM23 34h1v1h-1zM26 34h1v1h-1zM23 33h1v1h-1zM26 33h1v1h-1zM21 32h1v1h-1zM26 32h1v1h-1zM26 31h1v1h-1zM21 30h1v1h-1zM25 30h1v1h-1zM21 28h1v1h-1zM24 28h2v1h-2zM23 27h1v1h-1zM21 26h1v1h-1zM23 26h1v1h-1zM25 26h1v1h-1zM21 25h2v1h-2zM25 25h1v1h-1zM20 24h1v1h-1zM20 23h3v1h-3zM20 22h1v1h-1zM22 22h1v1h-1zM20 19h1v1h-1zM22 19h1v1h-1zM20 18h2v1h-2zM20 16h1v1h-1zM20 15h1v1h-1zM20 14h1v1h-1zM19 12h1v1h-1zM19 11h1v1h-1zM19 10h2v1h-2zM19 9h2v1h-2zM20 8h1v1h-1zM19 7h2v1h-2zM19 6h1v1h-1zM19 5h1v1h-1zM19 4h1v1h-1zM18 0h1v1h-1z"/>
<path fill="#553bc6" d="M54 55h1v1h-1zM59 55h1v1h-1zM53 54h1v1h-1zM57 54h2v1h-2zM46 53h1v1h-1zM52 53h2v1h-2zM55 53h1v1h-1zM57 53h1v1h-1zM62 53h1v1h-1zM44 52h1v1h-1zM47 52h1v1h-1zM49 52h2v1h-2zM41 51h4v1h-4zM46 51h1v1h-1zM48 51h1v1h-1zM39 50h1v1h-1zM41 50h2v1h-2zM44 50h1v1h-1zM39 49h2v1h-2zM44 49h1v1h-1zM35 48h1v1h-1zM38 48h1v1h-1zM38 47h1v1h-1zM30 46h1v1h-1zM33 46h2v1h-2zM38 46h1v1h-1zM34 44h1v1h-1zM36 44h1v1h-1zM27 43h1v1h-1zM29 43h1v1h-1zM33 43h1v1h-1zM28 42h1v1h-1zM30 42h1v1h-1zM33 42h1v1h-1zM26 41h2v1h-2zM32 41h1v1h-1zM26 40h1v1h-1zM29 40h1v1h-1zM28 39h1v1h-1zM29 38h1v1h-1zM31 38h1v1h-1zM25 37h1v1h-1zM29 37h1v1h-1zM25 36h1v1h-1zM25 35h1v1h-1zM21 34h1v1h-1zM24 34h1v1h-1zM21 33h1v1h-1zM25 33h1v1h-1zM24 32h2v1h-2zM20 31h3v1h-3zM24 31h2v1h-2zM20 30h1v1h-1zM22 30h1v1h-1zM24 30h1v1h-1zM21 29h2v1h-2zM25 29h1v1h-1zM20 28h1v1h-1zM22 28h1v1h-1zM20 27h1v1h-1zM22 27h1v1h-1zM25 27h1v1h-1zM20 26h1v1h-1zM22 26h1v1h-1zM20 25h1v1h-1zM21 24h2v1h-2zM19 22h1v1h-1zM20 21h1v1h-1zM19 20h2v1h-2zM19 19h1v1h-1zM19 17h2v1h-2zM18 16h1v1h-1zM18 15h2v1h-2zM18 14h1v1h-1zM18 13h2v1h-2zM20 11h1v1h-1zM19 8h1v1h-1zM18 5h1v1h-1zM18 4h1v1h-1zM18 3h1v1h-1zM18 2h1v1h-1zM18 1h1v1h-1z"/>
<path fill="#5a3dc3" d="M54 56h1v1h-1zM60 56h1v1h-1zM63 56h1v1h-1zM53 55h1v1h-1zM56 55h2v1h-2zM50 54h1v1h-1zM52 54h1v1h-1zM56 54h1v1h-1zM59 54h1v1h-1zM62 54h1v1h-1zM42 53h1v1h-1zM44 53h1v1h-1zM47 53h1v1h-1zM49 53h3v1h-3zM41 52h3v1h-3zM45 52h1v1h-1zM48 52h1v1h-1zM39 51h1v1h-1zM45 51h1v1h-1zM40 50h1v1h-1zM34 49h2v1h-2zM38 49h1v1h-1zM30 47h1v1h-1zM34 47h1v1h-1zM36 47h1v1h-1zM36 46h2v1h-2zM33 45h1v1h-1zM36 45h1v1h-1zM26 44h2v1h-2zM33 44h1v1h-1zM32 43h1v1h-1zM27 42h1v1h-1zM32 42h1v1h-1zM28 41h1v1h-1zM28 40h1v1h-1zM24 39h2v1h-2zM29 39h1v1h-1zM31 39h1v1h-1zM23 38h3v1h-3zM23 37h2v1h-2zM24 36h1v1h-1zM22 34h1v1h-1zM25 34h1v1h-1zM22 33h1v1h-1zM24 33h1v1h-1zM20 32h1v1h-1zM22 32h1v1h-1zM20 29h1v1h-1zM19 23h1v1h-1zM19 21h1v1h-1zM18 20h1v1h-1zM18 19h1v1h-1zM18 18h2v1h-2zM18 17h1v1h-1zM19 16h1v1h-1zM17 15h1v1h-1zM19 14h1v1h-1zM18 12h1v1h-1zM18 11h1v1h-1zM18 10h1v1h-1zM18 8h1v1h-1zM18 7h1v1h-1zM17 6h2v1h-2zM17 5h1v1h-1zM17 4h1v1h-1zM17 2h1v1h-1zM17 0h1v1h-1z"/>
<path fill="#5f40c1" d="M61 58h1v1h-1zM54 57h1v1h-1zM56 57h1v1h-1zM59 57h3v1h-3zM53 56h1v1h-1zM56 56h4v1h-4zM62 56h1v1h-1zM50 55h1v1h-1zM52 55h1v1h-1zM58 55h1v1h-1zM62 55h1v1h-1zM42 54h3v1h-3zM46 54h2v1h-2zM49 54h1v1h-1zM51 54h1v1h-1zM55 54h1v1h-1zM41 53h1v1h-1zM43 53h1v1h-1zM45 53h1v1h-1zM48 53h1v1h-1zM35 52h2v1h-2zM39 52h2v1h-2zM36 51h1v1h-1zM38 51h1v1h-1zM40 51h1v1h-1zM34 50h3v1h-3zM38 50h1v1h-1zM32 49h1v1h-1zM36 49h1v1h-1zM30 48h1v1h-1zM34 48h1v1h-1zM36 48h2v1h-2zM32 47h1v1h-1zM37 47h1v1h-1zM32 46h1v1h-1zM27 45h1v1h-1zM28 44h2v1h-2zM32 44h1v1h-1zM26 43h1v1h-1zM28 43h1v1h-1zM31 43h1v1h-1zM23 42h1v1h-1zM26 42h1v1h-1zM31 42h1v1h-1zM23 41h2v1h-2zM31 41h1v1h-1zM23 40h3v1h-3zM31 40h1v1h-1zM23 39h1v1h-1zM21 35h1v1h-1zM24 35h1v1h-1zM20 34h1v1h-1zM20 33h1v1h-1zM19 30h1v1h-1zM19 29h1v1h-1zM19 28h1v1h-1zM19 27h1v1h-1zM19 26h1v1h-1zM19 25h1v1h-1zM17 24h3v1h-3zM18 23h1v1h-1zM18 22h1v1h-1zM17 21h2v1h-2zM17 19h1v1h-1zM17 18h1v1h-1zM17 17h1v1h-1zM17 14h1v1h-1zM17 13h1v1h-1zM17 12h1v1h-1zM17 11h1v1h-1zM17 10h1v1h-1zM17 9h2v1h-2zM17 8h1v1h-1zM17 7h1v1h-1zM15 4h1v1h-1zM15 3h3v1h-3zM16 2h1v1h-1zM15 1h3v1h-3zM15 0h1v1h-1z"/>
<path fill="#6443bf" d="M61 59h1v1h-1zM56 58h1v1h-1zM59 58h2v1h-2zM53 57h1v1h-1zM58 57h1v1h-1zM62 57h2v1h-2zM42 56h1v1h-1zM50 56h1v1h-1zM52 56h1v1h-1zM55 56h1v1h-1zM39 55h1v1h-1zM46 55h2v1h-2zM49 55h1v1h-1zM51 55h1v1h-1zM55 55h1v1h-1zM39 54h3v1h-3zM45 54h1v1h-1zM35 53h2v1h-2zM38 53h3v1h-3zM34 52h1v1h-1zM38 52h1v1h-1zM34 51h2v1h-2zM30 50h1v1h-1zM30 49h1v1h-1zM33 49h1v1h-1zM32 48h2v1h-2zM27 47h3v1h-3zM33 47h1v1h-1zM26 46h4v1h-4zM26 45h1v1h-1zM28 45h2v1h-2zM31 45h2v1h-2zM23 44h1v1h-1zM31 44h1v1h-1zM23 43h1v1h-1zM24 42h2v1h-2zM25 41h1v1h-1zM21 39h1v1h-1zM22 38h1v1h-1zM21 37h2v1h-2zM20 36h2v1h-2zM20 35h1v1h-1zM22 35h1v1h-1zM19 32h1v1h-1zM18 31h2v1h-2zM18 29h1v1h-1zM18 28h1v1h-1zM18 27h1v1h-1zM18 26h1v1h-1zM17 25h2v1h-2zM17 23h1v1h-1zM17 22h1v1h-1zM17 20h1v1h-1zM16 19h1v1h-1zM16 18h1v1h-1zM17 16h1v1h-1zM16 15h1v1h-1zM16 14h1v1h-1zM15 13h2v1h-2zM15 12h1v1h-1zM15 11h2v1h-2zM15 10h2v1h-2zM15 9h2v1h-2zM15 8h2v1h-2zM15 7h2v1h-2zM15 6h2v1h-2zM15 5h2v1h-2zM16 4h1v1h-1zM15 2h1v1h-1zM16 0h1v1h-1z"/>
<path fill="#6945bc" d="M61 60h1v1h-1zM54 59h1v1h-1zM54 58h1v1h-1zM58 58h1v1h-1zM63 58h1v1h-1zM50 57h1v1h-1zM52 57h1v1h-1zM55 57h1v1h-1zM57 57h1v1h-1zM45 56h3v1h-3zM49 56h1v1h-1zM51 56h1v1h-1zM35 55h1v1h-1zM40 55h6v1h-6zM35 54h1v1h-1zM38 54h1v1h-1zM48 54h1v1h-1zM34 53h1v1h-1zM32 52h1v1h-1zM37 52h1v1h-1zM32 51h1v1h-1zM32 50h2v1h-2zM37 50h1v1h-1zM28 49h2v1h-2zM31 49h1v1h-1zM37 49h1v1h-1zM23 48h1v1h-1zM27 48h3v1h-3zM31 48h1v1h-1zM25 47h1v1h-1zM31 47h1v1h-1zM31 46h1v1h-1zM23 45h1v1h-1zM25 45h1v1h-1zM24 43h2v1h-2zM19 41h1v1h-1zM19 40h1v1h-1zM21 40h2v1h-2zM22 39h1v1h-1zM20 38h2v1h-2zM20 37h1v1h-1zM22 36h1v1h-1zM19 35h1v1h-1zM19 34h1v1h-1zM19 33h1v1h-1zM18 32h1v1h-1zM18 30h1v1h-1zM17 27h1v1h-1zM17 26h1v1h-1zM16 23h1v1h-1zM16 22h1v1h-1zM15 17h2v1h-2zM15 16h2v1h-2zM15 15h1v1h-1zM15 14h1v1h-1zM16 12h1v1h-1zM14 8h1v1h-1zM14 7h1v1h-1zM14 6h1v1h-1zM14 4h1v1h-1zM14 2h1v1h-1zM14 1h1v1h-1zM14 0h1v1h-1z"/>
<path fill="#6e48ba" d="M56 59h1v1h-1zM59 59h2v1h-2zM50 58h1v1h-1zM53 58h1v1h-1zM55 58h1v1h-1zM57 58h1v1h-1zM62 58h1v1h-1zM42 57h1v1h-1zM44 57h1v1h-1zM47 57h1v1h-1zM49 57h1v1h-1zM51 57h1v1h-1zM39 56h1v1h-1zM41 56h1v1h-1zM43 56h2v1h-2zM48 56h1v1h-1zM48 55h1v1h-1zM34 54h1v1h-1zM36 54h1v1h-1zM32 53h1v1h-1zM37 53h1v1h-1zM30 52h1v1h-1zM33 52h1v1h-1zM28 51h4v1h-4zM33 51h1v1h-1zM37 51h1v1h-1zM29 50h1v1h-1zM31 50h1v1h-1zM26 49h2v1h-2zM26 48h1v1h-1zM23 47h1v1h-1zM26 47h1v1h-1zM23 46h3v1h-3zM24 45h1v1h-1zM24 44h1v1h-1zM22 43h1v1h-1zM19 42h1v1h-1zM22 42h1v1h-1zM21 41h2v1h-2zM20 39h1v1h-1zM19 38h1v1h-1zM19 37h1v1h-1zM18 36h2v1h-2zM18 35h1v1h-1zM18 33h1v1h-1zM17 29h1v1h-1zM16 28h2v1h-2zM16 24h1v1h-1zM15 21h2v1h-2zM15 20h2v1h-2zM15 19h1v1h-1zM15 18h1v1h-1zM14 15h1v1h-1zM14 14h1v1h-1zM14 13h1v1h-1zM14 12h1v1h-1zM14 11h1v1h-1zM14 10h1v1h-1zM14 9h1v1h-1zM14 5h1v1h-1zM14 3h1v1h-1z"/>
<path fill="#734bb8" d="M61 61h1v1h-1zM54 60h1v1h-1zM60 60h1v1h-1zM50 59h1v1h-1zM53 59h1v1h-1zM57 59h2v1h-2zM62 59h2v1h-2zM42 58h1v1h-1zM40 57h2v1h-2zM43 57h1v1h-1zM45 57h2v1h-2zM48 57h1v1h-1zM35 56h1v1h-1zM38 56h1v1h-1zM40 56h1v1h-1zM34 55h1v1h-1zM36 55h1v1h-1zM38 55h1v1h-1zM32 54h1v1h-1zM37 54h1v1h-1zM30 53h1v1h-1zM28 52h2v1h-2zM31 52h1v1h-1zM26 50h3v1h-3zM23 49h1v1h-1zM25 48h1v1h-1zM22 45h1v1h-1zM22 44h1v1h-1zM25 44h1v1h-1zM19 43h1v1h-1zM21 42h1v1h-1zM20 41h1v1h-1zM20 40h1v1h-1zM19 39h1v1h-1zM18 38h1v1h-1zM17 37h2v1h-2zM17 36h1v1h-1zM17 34h2v1h-2zM17 33h1v1h-1zM16 32h2v1h-2zM16 31h2v1h-2zM17 30h1v1h-1zM16 29h1v1h-1zM16 27h1v1h-1zM15 26h2v1h-2zM15 25h2v1h-2zM15 23h1v1h-1zM15 22h1v1h-1zM14 17h1v1h-1zM14 16h1v1h-1zM12 13h1v1h-1zM13 12h1v1h-1zM12 11h2v1h-2zM13 10h1v1h-1zM12 9h1v1h-1zM12 8h1v1h-1zM11 7h2v1h-2zM12 6h1v1h-1zM12 4h1v1h-1zM11 3h3v1h-3zM13 2h1v1h-1zM12 1h1v1h-1zM12 0h2v1h-2z"/>
<path fill="#784db5" d="M56 60h4v1h-4zM62 60h2v1h-2zM51 59h1v1h-1zM55 59h1v1h-1zM41 58h1v1h-1zM43 58h5v1h-5zM49 58h1v1h-1zM51 58h2v1h-2zM38 57h2v1h-2zM36 56h1v1h-1zM37 55h1v1h-1zM33 54h1v1h-1zM28 53h2v1h-2zM31 53h1v1h-1zM33 53h1v1h-1zM27 52h1v1h-1zM26 51h2v1h-2zM25 50h1v1h-1zM24 49h2v1h-2zM24 47h1v1h-1zM19 44h1v1h-1zM21 44h1v1h-1zM21 43h1v1h-1zM20 42h1v1h-1zM18 41h1v1h-1zM18 40h1v1h-1zM18 39h1v1h-1zM17 35h1v1h-1zM16 34h1v1h-1zM16 33h1v1h-1zM15 32h1v1h-1zM15 31h1v1h-1zM15 30h2v1h-2zM15 29h1v1h-1zM14 28h2v1h-2zM14 27h2v1h-2zM14 26h1v1h-1zM14 25h1v1h-1zM14 24h2v1h-2zM14 23h1v1h-1zM14 22h1v1h-1zM14 21h1v1h-1zM14 20h1v1h-1zM14 19h1v1h-1zM12 18h1v1h-1zM14 18h1v1h-1zM12 17h1v1h-1zM12 16h2v1h-2zM12 15h2v1h-2zM12 14h2v1h-2zM13 13h1v1h-1zM12 12h1v1h-1zM11 11h1v1h-1zM12 10h1v1h-1zM13 9h1v1h-1zM13 8h1v1h-1zM13 7h1v1h-1zM11 6h1v1h-1zM13 6h1v1h-1zM11 5h3v1h-3zM11 4h1v1h-1zM13 4h1v1h-1zM11 2h2v1h-2zM11 1h1v1h-1zM13 1h1v1h-1zM11 0h1v1h-1z"/>
<path fill="#7d50b3" d="M61 62h1v1h-1zM54 61h1v1h-1zM56 61h2v1h-2zM50 60h1v1h-1zM53 60h1v1h-1zM55 60h1v1h-1zM45 59h1v1h-1zM49 59h1v1h-1zM52 59h1v1h-1zM38 58h1v1h-1zM48 58h1v1h-1zM35 57h1v1h-1zM34 56h1v1h-1zM37 56h1v1h-1zM32 55h2v1h-2zM29 54h3v1h-3zM23 50h1v1h-1zM24 48h1v1h-1zM22 47h1v1h-1zM22 46h1v1h-1zM19 45h1v1h-1zM21 45h1v1h-1zM20 44h1v1h-1zM20 43h1v1h-1zM18 42h1v1h-1zM17 39h1v1h-1zM17 38h1v1h-1zM16 36h1v1h-1zM15 35h2v1h-2zM15 34h1v1h-1zM15 33h1v1h-1zM14 32h1v1h-1zM14 31h1v1h-1zM14 30h1v1h-1zM14 29h1v1h-1zM13 24h1v1h-1zM12 22h1v1h-1zM12 20h2v1h-2zM12 19h2v1h-2zM11 18h1v1h-1zM13 18h1v1h-1zM11 17h1v1h-1zM13 17h1v1h-1zM11 16h1v1h-1zM11 15h1v1h-1zM11 14h1v1h-1zM11 13h1v1h-1zM11 12h1v1h-1zM11 10h1v1h-1zM11 9h1v1h-1zM11 8h1v1h-1zM7 6h1v1h-1zM10 6h1v1h-1zM7 5h1v1h-1zM7 4h1v1h-1zM6 3h2v1h-2z"/>
<path fill="#8253b1" d="M58 61h3v1h-3zM62 61h2v1h-2zM51 60h2v1h-2zM41 59h2v1h-2zM44 59h1v1h-1zM46 59h3v1h-3zM39 58h2v1h-2zM36 57h1v1h-1zM32 56h1v1h-1zM31 55h1v1h-1zM28 54h1v1h-1zM27 53h1v1h-1zM24 51h2v1h-2zM24 50h1v1h-1zM21 46h1v1h-1zM20 45h1v1h-1zM18 43h1v1h-1zM16 40h2v1h-2zM16 38h1v1h-1zM15 37h2v1h-2zM15 36h1v1h-1zM14 34h1v1h-1zM14 33h1v1h-1zM12 26h2v1h-2zM12 25h2v1h-2zM12 23h2v1h-2zM13 22h1v1h-1zM12 21h2v1h-2zM11 20h1v1h-1zM11 19h1v1h-1zM10 13h1v1h-1zM10 12h1v1h-1zM10 11h1v1h-1zM7 9h1v1h-1zM10 9h1v1h-1zM6 8h2v1h-2zM10 8h1v1h-1zM6 7h2v1h-2zM10 7h1v1h-1zM6 6h1v1h-1zM5 5h2v1h-2zM10 5h1v1h-1zM5 4h2v1h-2zM10 4h1v1h-1zM5 3h1v1h-1zM10 3h1v1h-1zM5 2h3v1h-3zM10 2h1v1h-1zM5 1h3v1h-3zM10 1h1v1h-1zM5 0h3v1h-3zM10 0h1v1h-1z"/>
<path fill="#8755ae" d="M61 63h1v1h-1zM59 62h2v1h-2zM62 62h2v1h-2zM53 61h1v1h-1zM55 61h1v1h-1zM45 60h3v1h-3zM49 60h1v1h-1zM39 59h1v1h-1zM43 59h1v1h-1zM35 58h1v1h-1zM34 57h1v1h-1zM37 57h1v1h-1zM33 56h1v1h-1zM29 55h2v1h-2zM27 54h1v1h-1zM26 53h1v1h-1zM25 52h2v1h-2zM23 51h1v1h-1zM21 48h2v1h-2zM21 47h1v1h-1zM19 46h1v1h-1zM18 45h1v1h-1zM18 44h1v1h-1zM16 41h2v1h-2zM15 39h2v1h-2zM15 38h1v1h-1zM14 36h1v1h-1zM14 35h1v1h-1zM12 31h1v1h-1zM12 30h1v1h-1zM12 29h2v1h-2zM12 28h2v1h-2zM12 27h2v1h-2zM11 26h1v1h-1zM11 25h1v1h-1zM11 24h2v1h-2zM11 23h1v1h-1zM11 22h1v1h-1zM10 21h2v1h-2zM10 20h1v1h-1zM10 19h1v1h-1zM10 18h1v1h-1zM10 17h1v1h-1zM6 15h2v1h-2zM10 15h1v1h-1zM6 14h1v1h-1zM10 14h1v1h-1zM6 13h2v1h-2zM6 12h1v1h-1zM6 11h2v1h-2zM6 10h2v1h-2zM10 10h1v1h-1zM6 9h1v1h-1zM5 7h1v1h-1zM5 6h1v1h-1z"/>
<path fill="#8c58ac" d="M53 62h2v1h-2zM56 62h3v1h-3zM50 61h3v1h-3zM42 60h1v1h-1zM44 60h1v1h-1zM40 59h1v1h-1zM36 58h1v1h-1zM31 56h1v1h-1zM25 53h1v1h-1zM22 50h1v1h-1zM22 49h1v1h-1zM18 46h1v1h-1zM20 46h1v1h-1zM16 43h1v1h-1zM17 42h1v1h-1zM15 41h1v1h-1zM15 40h1v1h-1zM14 37h1v1h-1zM12 33h1v1h-1zM12 32h2v1h-2zM13 31h1v1h-1zM13 30h1v1h-1zM11 27h1v1h-1zM10 24h1v1h-1zM10 23h1v1h-1zM10 22h1v1h-1zM6 17h2v1h-2zM6 16h3v1h-3zM10 16h1v1h-1zM8 15h1v1h-1zM7 14h1v1h-1zM7 12h1v1h-1zM9 12h1v1h-1zM5 11h1v1h-1zM9 11h1v1h-1zM5 10h1v1h-1zM9 10h1v1h-1zM5 9h1v1h-1zM5 8h1v1h-1zM8 8h1v1h-1zM8 4h1v1h-1zM8 3h2v1h-2zM9 2h1v1h-1zM9 1h1v1h-1zM9 0h1v1h-1z"/>
<path fill="#915baa" d="M60 63h1v1h-1zM63 63h1v1h-1zM46 61h1v1h-1zM49 61h1v1h-1zM41 60h1v1h-1zM43 60h1v1h-1zM48 60h1v1h-1zM36 59h1v1h-1zM38 59h1v1h-1zM34 58h1v1h-1zM37 58h1v1h-1zM32 57h2v1h-2zM27 55h2v1h-2zM25 54h1v1h-1zM24 53h1v1h-1zM23 52h2v1h-2zM21 49h1v1h-1zM20 48h1v1h-1zM18 47h3v1h-3zM17 44h1v1h-1zM17 43h1v1h-1zM15 42h2v1h-2zM12 34h1v1h-1zM13 33h1v1h-1zM10 32h1v1h-1zM11 31h1v1h-1zM10 30h1v1h-1zM11 29h1v1h-1zM11 28h1v1h-1zM10 27h1v1h-1zM10 26h1v1h-1zM10 25h1v1h-1zM9 24h1v1h-1zM9 22h1v1h-1zM7 21h3v1h-3zM6 20h2v1h-2zM9 20h1v1h-1zM6 19h4v1h-4zM6 18h2v1h-2zM9 18h1v1h-1zM8 17h1v1h-1zM9 16h1v1h-1zM9 15h1v1h-1zM5 14h1v1h-1zM8 14h2v1h-2zM5 13h1v1h-1zM8 13h2v1h-2zM5 12h1v1h-1zM8 12h1v1h-1zM8 11h1v1h-1zM8 10h1v1h-1zM8 9h2v1h-2zM9 8h1v1h-1zM8 7h2v1h-2zM8 6h1v1h-1zM8 5h2v1h-2zM4 4h1v1h-1zM9 4h1v1h-1zM4 2h1v1h-1zM8 2h1v1h-1zM4 1h1v1h-1zM8 1h1v1h-1zM4 0h1v1h-1zM8 0h1v1h-1z"/>
<path fill="#965da7" d="M61 64h1v1h-1zM54 63h1v1h-1zM56 63h4v1h-4zM62 63h1v1h-1zM50 62h3v1h-3zM55 62h1v1h-1zM45 61h1v1h-1zM47 61h1v1h-1zM39 60h2v1h-2zM35 59h1v1h-1zM28 56h3v1h-3zM24 54h1v1h-1zM26 54h1v1h-1zM23 53h1v1h-1zM22 52h1v1h-1zM22 51h1v1h-1zM21 50h1v1h-1zM20 49h1v1h-1zM19 48h1v1h-1zM17 46h1v1h-1zM17 45h1v1h-1zM16 44h1v1h-1zM15 43h1v1h-1zM14 42h1v1h-1zM14 41h1v1h-1zM14 40h1v1h-1zM14 39h1v1h-1zM13 38h2v1h-2zM13 37h1v1h-1zM11 36h2v1h-2zM11 34h1v1h-1zM13 34h1v1h-1zM11 33h1v1h-1zM11 32h1v1h-1zM10 31h1v1h-1zM11 30h1v1h-1zM8 29h1v1h-1zM10 29h1v1h-1zM8 28h3v1h-3zM8 27h1v1h-1zM8 26h2v1h-2zM7 25h3v1h-3zM7 24h2v1h-2zM7 23h3v1h-3zM6 22h3v1h-3zM6 21h1v1h-1zM8 20h1v1h-1zM8 18h1v1h-1zM5 17h1v1h-1zM9 17h1v1h-1zM5 16h1v1h-1zM5 15h1v1h-1zM4 8h1v1h-1zM4 7h1v1h-1zM4 6h1v1h-1zM9 6h1v1h-1zM4 5h1v1h-1zM4 3h1v1h-1z"/>
<path fill="#9b60a5" d="M53 63h1v1h-1zM42 61h1v1h-1zM44 61h1v1h-1zM48 61h1v1h-1zM38 60h1v1h-1zM37 59h1v1h-1zM31 58h2v1h-2zM31 57h1v1h-1zM25 55h1v1h-1zM23 54h1v1h-1zM21 52h1v1h-1zM21 51h1v1h-1zM20 50h1v1h-1zM19 49h1v1h-1zM18 48h1v1h-1zM16 45h1v1h-1zM15 44h1v1h-1zM14 43h1v1h-1zM13 39h1v1h-1zM12 38h1v1h-1zM12 37h1v1h-1zM10 36h1v1h-1zM13 36h1v1h-1zM10 35h4v1h-4zM10 34h1v1h-1zM9 33h2v1h-2zM9 32h1v1h-1zM8 31h2v1h-2zM8 30h2v1h-2zM9 29h1v1h-1zM7 28h1v1h-1zM7 27h1v1h-1zM9 27h1v1h-1zM7 26h1v1h-1zM6 23h1v1h-1zM5 19h1v1h-1zM5 18h1v1h-1zM4 11h1v1h-1zM4 10h1v1h-1zM4 9h1v1h-1z"/>
<path fill="#a063a3" d="M59 64h1v1h-1zM62 64h2v1h-2zM52 63h1v1h-1zM55 63h1v1h-1zM45 62h1v1h-1zM49 62h1v1h-1zM39 61h1v1h-1zM43 61h1v1h-1zM35 60h1v1h-1zM34 59h1v1h-1zM33 58h1v1h-1zM29 57h2v1h-2zM25 56h1v1h-1zM27 56h1v1h-1zM24 55h1v1h-1zM26 55h1v1h-1zM21 53h2v1h-2zM19 50h1v1h-1zM18 49h1v1h-1zM17 48h1v1h-1zM17 47h1v1h-1zM15 46h2v1h-2zM14 45h2v1h-2zM14 44h1v1h-1zM13 41h1v1h-1zM13 40h1v1h-1zM12 39h1v1h-1zM10 38h1v1h-1zM10 37h2v1h-2zM9 36h1v1h-1zM9 35h1v1h-1zM9 34h1v1h-1zM8 33h1v1h-1zM8 32h1v1h-1zM7 29h1v1h-1zM6 25h1v1h-1zM6 24h1v1h-1zM5 20h1v1h-1zM4 12h1v1h-1z"/>
<path fill="#a565a0" d="M54 64h1v1h-1zM57 64h2v1h-2zM60 64h1v1h-1zM50 63h2v1h-2zM46 62h3v1h-3zM38 61h1v1h-1zM41 61h1v1h-1zM36 60h1v1h-1zM32 59h1v1h-1zM28 57h1v1h-1zM24 56h1v1h-1zM23 55h1v1h-1zM22 54h1v1h-1zM20 52h1v1h-1zM18 51h1v1h-1zM20 51h1v1h-1zM18 50h1v1h-1zM17 49h1v1h-1zM16 47h1v1h-1zM12 41h1v1h-1zM11 40h2v1h-2zM10 39h2v1h-2zM11 38h1v1h-1zM7 32h1v1h-1zM7 31h1v1h-1zM7 30h1v1h-1zM6 27h1v1h-1zM6 26h1v1h-1zM5 22h1v1h-1zM5 21h1v1h-1zM4 13h1v1h-1z"/>
<path fill="#aa689e" d="M61 65h1v1h-1zM53 64h1v1h-1zM56 64h1v1h-1zM49 63h1v1h-1zM42 62h1v1h-1zM44 62h1v1h-1zM40 61h1v1h-1zM34 60h1v1h-1zM33 59h1v1h-1zM29 58h1v1h-1zM25 57h1v1h-1zM27 57h1v1h-1zM26 56h1v1h-1zM21 54h1v1h-1zM19 51h1v1h-1zM17 50h1v1h-1zM15 48h2v1h-2zM14 47h2v1h-2zM14 46h1v1h-1zM13 44h1v1h-1zM12 43h2v1h-2zM12 42h2v1h-2zM11 41h1v1h-1zM10 40h1v1h-1zM9 38h1v1h-1zM9 37h1v1h-1zM8 35h1v1h-1zM8 34h1v1h-1zM7 33h1v1h-1zM6 29h1v1h-1zM6 28h1v1h-1zM5 23h1v1h-1zM4 14h1v1h-1zM3 0h1v1h-1z"/>
<path fill="#af6b9c" d="M57 65h1v1h-1zM63 65h1v1h-1zM52 64h1v1h-1zM39 62h1v1h-1zM43 62h1v1h-1zM37 60h1v1h-1zM31 59h1v1h-1zM27 58h2v1h-2zM30 58h1v1h-1zM24 57h1v1h-1zM26 57h1v1h-1zM23 56h1v1h-1zM22 55h1v1h-1zM20 54h1v1h-1zM20 53h1v1h-1zM18 52h2v1h-2zM15 50h1v1h-1zM15 49h1v1h-1zM14 48h1v1h-1zM12 44h1v1h-1zM11 42h1v1h-1zM9 39h1v1h-1zM8 36h1v1h-1zM7 34h1v1h-1zM6 30h1v1h-1zM5 24h1v1h-1zM4 15h1v1h-1zM3 1h1v1h-1z"/>
<path fill="#b46d99" d="M59 65h1v1h-1zM62 65h1v1h-1zM51 64h1v1h-1zM55 64h1v1h-1zM44 63h5v1h-5zM41 62h1v1h-1zM35 61h2v1h-2zM32 60h1v1h-1zM27 59h3v1h-3zM25 58h1v1h-1zM22 56h1v1h-1zM21 55h1v1h-1zM18 53h2v1h-2zM17 52h1v1h-1zM17 51h1v1h-1zM16 50h1v1h-1zM14 49h1v1h-1zM16 49h1v1h-1zM13 46h1v1h-1zM12 45h2v1h-2zM11 44h1v1h-1zM11 43h1v1h-1zM10 41h1v1h-1zM9 40h1v1h-1zM8 38h1v1h-1zM8 37h1v1h-1zM7 36h1v1h-1zM7 35h1v1h-1zM6 31h1v1h-1zM5 25h1v1h-1zM4 16h1v1h-1zM3 3h1v1h-1zM3 2h1v1h-1z"/>
<path fill="#b97097" d="M58 65h1v1h-1zM60 65h1v1h-1zM49 64h2v1h-2zM42 63h2v1h-2zM40 62h1v1h-1zM34 61h1v1h-1zM37 61h1v1h-1zM33 60h1v1h-1zM26 58h1v1h-1zM23 57h1v1h-1zM21 56h1v1h-1zM13 47h1v1h-1zM12 46h1v1h-1zM11 45h1v1h-1zM10 43h1v1h-1zM10 42h1v1h-1zM9 41h1v1h-1zM8 39h1v1h-1zM7 37h1v1h-1zM6 32h1v1h-1zM5 26h1v1h-1zM3 4h1v1h-1z"/>
<path fill="#be7395" d="M53 65h2v1h-2zM56 65h1v1h-1zM39 63h1v1h-1zM38 62h1v1h-1zM31 60h1v1h-1zM25 59h2v1h-2zM30 59h1v1h-1zM23 58h2v1h-2zM22 57h1v1h-1zM20 55h1v1h-1zM18 54h2v1h-2zM17 53h1v1h-1zM15 51h2v1h-2zM14 50h1v1h-1zM13 48h1v1h-1zM12 47h1v1h-1zM11 46h1v1h-1zM10 45h1v1h-1zM10 44h1v1h-1zM9 43h1v1h-1zM9 42h1v1h-1zM8 40h1v1h-1zM6 33h1v1h-1zM5 27h1v1h-1zM4 17h1v1h-1zM3 5h1v1h-1z"/>
<path fill="#c37592" d="M61 66h1v1h-1zM52 65h1v1h-1zM55 65h1v1h-1zM45 64h3v1h-3zM41 63h1v1h-1zM35 62h1v1h-1zM32 61h1v1h-1zM27 60h1v1h-1zM29 60h2v1h-2zM24 59h1v1h-1zM22 58h1v1h-1zM21 57h1v1h-1zM15 52h2v1h-2zM14 51h1v1h-1zM13 49h1v1h-1zM12 48h1v1h-1zM11 47h1v1h-1zM9 44h1v1h-1zM8 41h1v1h-1zM7 39h1v1h-1zM7 38h1v1h-1zM6 35h1v1h-1zM6 34h1v1h-1zM5 28h1v1h-1zM4 19h1v1h-1zM4 18h1v1h-1zM3 7h1v1h-1zM3 6h1v1h-1z"/>
<path fill="#c87890" d="M57 66h1v1h-1zM63 66h1v1h-1zM50 65h2v1h-2zM43 64h1v1h-1zM48 64h1v1h-1zM38 63h1v1h-1zM40 63h1v1h-1zM34 62h1v1h-1zM36 62h2v1h-2zM31 61h1v1h-1zM33 61h1v1h-1zM28 60h1v1h-1zM20 56h1v1h-1zM18 55h2v1h-2zM12 49h1v1h-1zM11 48h1v1h-1zM10 46h1v1h-1zM8 42h1v1h-1zM7 40h1v1h-1zM5 30h1v1h-1zM5 29h1v1h-1zM4 20h1v1h-1zM3 8h1v1h-1z"/>
<path fill="#c97b8e" d="M54 66h1v1h-1zM58 66h3v1h-3zM62 66h1v1h-1zM49 65h1v1h-1zM39 64h1v1h-1zM42 64h1v1h-1zM44 64h1v1h-1zM32 62h1v1h-1zM24 60h2v1h-2zM23 59h1v1h-1zM17 54h1v1h-1zM15 53h2v1h-2zM14 52h1v1h-1zM13 50h1v1h-1zM10 47h1v1h-1zM9 45h1v1h-1zM8 43h1v1h-1zM7 41h1v1h-1zM6 37h1v1h-1zM6 36h1v1h-1zM5 31h1v1h-1zM3 9h1v1h-1z"/>
<path fill="#cb7e8c" d="M53 66h1v1h-1zM55 66h2v1h-2zM31 62h1v1h-1zM33 62h1v1h-1zM27 61h3v1h-3zM26 60h1v1h-1zM22 59h1v1h-1zM21 58h1v1h-1zM20 57h1v1h-1zM18 56h2v1h-2zM17 55h1v1h-1zM16 54h1v1h-1zM12 50h1v1h-1zM11 49h1v1h-1zM10 48h1v1h-1zM9 46h1v1h-1zM8 44h1v1h-1zM7 42h1v1h-1zM5 32h1v1h-1zM4 21h1v1h-1zM3 10h1v1h-1zM2 0h1v1h-1z"/>
<path fill="#cc808a" d="M61 67h1v1h-1zM52 66h1v1h-1zM45 65h2v1h-2zM40 64h2v1h-2zM34 63h2v1h-2zM30 61h1v1h-1zM23 60h1v1h-1zM19 57h1v1h-1zM15 54h1v1h-1zM14 53h1v1h-1zM13 52h1v1h-1zM12 51h2v1h-2zM11 50h1v1h-1zM9 47h1v1h-1zM8 45h1v1h-1zM6 38h1v1h-1zM5 33h1v1h-1zM4 23h1v1h-1zM4 22h1v1h-1zM3 12h1v1h-1zM3 11h1v1h-1zM2 1h1v1h-1z"/>
<path fill="#ce8388" d="M63 67h1v1h-1zM50 66h2v1h-2zM44 65h1v1h-1zM47 65h2v1h-2zM36 63h2v1h-2zM29 62h2v1h-2zM25 61h1v1h-1zM21 59h1v1h-1zM16 55h1v1h-1zM12 52h1v1h-1zM10 49h1v1h-1zM7 43h1v1h-1zM6 39h1v1h-1zM5 34h1v1h-1zM3 13h1v1h-1zM2 2h1v1h-1z"/>
<path fill="#cf8686" d="M54 67h1v1h-1zM57 67h1v1h-1zM60 67h1v1h-1zM62 67h1v1h-1zM49 66h1v1h-1zM42 65h2v1h-2zM38 64h1v1h-1zM31 63h2v1h-2zM28 62h1v1h-1zM26 61h1v1h-1zM22 60h1v1h-1zM20 58h1v1h-1zM18 57h1v1h-1zM17 56h1v1h-1zM15 55h1v1h-1zM14 54h1v1h-1zM11 51h1v1h-1zM9 48h1v1h-1zM4 25h1v1h-1zM4 24h1v1h-1zM3 14h1v1h-1zM2 3h1v1h-1z"/>
<path fill="#d08984" d="M53 67h1v1h-1zM56 67h1v1h-1zM58 67h2v1h-2zM39 65h1v1h-1zM41 65h1v1h-1zM34 64h2v1h-2zM27 62h1v1h-1zM24 61h1v1h-1zM19 58h1v1h-1zM13 53h1v1h-1zM10 50h1v1h-1zM8 46h1v1h-1zM7 44h1v1h-1zM6 40h1v1h-1zM5 35h1v1h-1zM4 26h1v1h-1zM3 15h1v1h-1zM2 5h1v1h-1zM2 4h1v1h-1z"/>
<path fill="#d28c83" d="M55 67h1v1h-1zM46 66h2v1h-2zM36 64h1v1h-1zM33 63h1v1h-1zM23 61h1v1h-1zM21 60h1v1h-1zM18 58h1v1h-1zM17 57h1v1h-1zM15 56h2v1h-2zM14 55h1v1h-1zM12 53h1v1h-1zM9 49h1v1h-1zM6 41h1v1h-1zM5 36h1v1h-1zM4 27h1v1h-1zM3 17h1v1h-1zM3 16h1v1h-1zM2 6h1v1h-1z"/>
<path fill="#d38f81" d="M61 68h1v1h-1zM50 67h3v1h-3zM44 66h2v1h-2zM48 66h1v1h-1zM40 65h1v1h-1zM32 64h1v1h-1zM37 64h1v1h-1zM27 63h1v1h-1zM25 62h2v1h-2zM20 59h1v1h-1zM13 54h1v1h-1zM11 52h1v1h-1zM10 51h1v1h-1zM8 47h1v1h-1zM7 45h1v1h-1zM5 37h1v1h-1zM4 28h1v1h-1zM3 18h1v1h-1zM2 7h1v1h-1z"/>
<path fill="#d5927f" d="M56 68h1v1h-1zM63 68h1v1h-1zM41 66h3v1h-3zM38 65h1v1h-1zM29 63h2v1h-2zM22 61h1v1h-1zM19 59h1v1h-1zM14 56h1v1h-1zM12 54h1v1h-1zM9 50h1v1h-1zM6 42h1v1h-1zM4 29h1v1h-1zM3 19h1v1h-1zM2 9h1v1h-1zM2 8h1v1h-1z"/>
<path fill="#d6947d" d="M54 68h1v1h-1zM59 68h1v1h-1zM62 68h1v1h-1zM49 67h1v1h-1zM39 66h1v1h-1zM34 65h2v1h-2zM31 64h1v1h-1zM33 64h1v1h-1zM28 63h1v1h-1zM24 62h1v1h-1zM21 61h1v1h-1zM16 57h1v1h-1zM11 53h1v1h-1zM8 48h1v1h-1zM7 46h1v1h-1zM5 38h1v1h-1zM4 31h1v1h-1zM4 30h1v1h-1zM3 20h1v1h-1zM2 10h1v1h-1z"/>
<path fill="#d8977b" d="M53 68h1v1h-1zM55 68h1v1h-1zM57 68h1v1h-1zM60 68h1v1h-1zM46 67h1v1h-1zM40 66h1v1h-1zM32 65h1v1h-1zM36 65h1v1h-1zM23 62h1v1h-1zM20 60h1v1h-1zM18 59h1v1h-1zM17 58h1v1h-1zM15 57h1v1h-1zM13 55h1v1h-1zM10 52h1v1h-1zM6 43h1v1h-1zM5 39h1v1h-1zM3 21h1v1h-1zM2 11h1v1h-1z"/>
<path fill="#d99a79" d="M58 68h1v1h-1zM44 67h1v1h-1zM47 67h2v1h-2zM38 66h1v1h-1zM37 65h1v1h-1zM28 64h1v1h-1zM30 64h1v1h-1zM25 63h2v1h-2zM16 58h1v1h-1zM14 57h1v1h-1zM12 55h1v1h-1zM9 51h1v1h-1zM8 49h1v1h-1zM7 47h1v1h-1zM6 44h1v1h-1zM4 32h1v1h-1zM3 23h1v1h-1zM3 22h1v1h-1zM2 13h1v1h-1zM2 12h1v1h-1z"/>
<path fill="#da9d77" d="M50 68h1v1h-1zM52 68h1v1h-1zM42 67h2v1h-2zM45 67h1v1h-1zM35 66h1v1h-1zM31 65h1v1h-1zM33 65h1v1h-1zM27 64h1v1h-1zM29 64h1v1h-1zM24 63h1v1h-1zM22 62h1v1h-1zM19 60h1v1h-1zM17 59h1v1h-1zM13 56h1v1h-1zM11 54h1v1h-1zM10 53h1v1h-1zM7 48h1v1h-1zM5 40h1v1h-1zM4 34h1v1h-1zM4 33h1v1h-1zM3 24h1v1h-1zM2 14h1v1h-1z"/>
<path fill="#dca075" d="M56 69h1v1h-1zM61 69h1v1h-1zM51 68h1v1h-1zM39 67h1v1h-1zM41 67h1v1h-1zM34 66h1v1h-1zM21 62h1v1h-1zM20 61h1v1h-1zM18 60h1v1h-1zM15 58h1v1h-1zM12 56h1v1h-1zM6 45h1v1h-1zM5 41h1v1h-1zM4 35h1v1h-1zM3 26h1v1h-1zM3 25h1v1h-1zM2 15h1v1h-1z"/>
<path fill="#dda273" d="M40 67h1v1h-1zM36 66h1v1h-1zM23 63h1v1h-1zM16 59h1v1h-1zM14 58h1v1h-1zM11 55h1v1h-1zM9 52h1v1h-1zM8 50h1v1h-1zM6 46h1v1h-1zM5 42h1v1h-1zM3 27h1v1h-1zM2 16h1v1h-1zM1 1h1v1h-1zM1 0h1v1h-1z"/>
<path fill="#dfa571" d="M54 69h1v1h-1zM62 69h1v1h-1zM46 68h1v1h-1zM49 68h1v1h-1zM31 66h2v1h-2zM37 66h1v1h-1zM28 65h3v1h-3zM26 64h1v1h-1zM22 63h1v1h-1zM19 61h1v1h-1zM15 59h1v1h-1zM13 57h1v1h-1zM10 54h1v1h-1zM7 49h1v1h-1zM4 37h1v1h-1zM4 36h1v1h-1zM3 29h1v1h-1zM3 28h1v1h-1zM2 18h1v1h-1zM2 17h1v1h-1zM1 3h1v1h-1zM1 2h1v1h-1z"/>
<path fill="#e0a86f" d="M53 69h1v1h-1zM57 69h1v1h-1zM59 69h2v1h-2zM63 69h1v1h-1zM45 68h1v1h-1zM47 68h1v1h-1zM35 67h1v1h-1zM38 67h1v1h-1zM33 66h1v1h-1zM27 65h1v1h-1zM24 64h2v1h-2zM21 63h1v1h-1zM18 61h1v1h-1zM17 60h1v1h-1zM14 59h1v1h-1zM12 57h1v1h-1zM9 53h1v1h-1zM8 51h1v1h-1zM6 47h1v1h-1zM5 43h1v1h-1zM4 38h1v1h-1zM3 30h1v1h-1zM2 20h1v1h-1zM2 19h1v1h-1zM1 4h1v1h-1z"/>
<path fill="#e2ab6e" d="M55 69h1v1h-1zM58 69h1v1h-1zM42 68h3v1h-3zM48 68h1v1h-1zM34 67h1v1h-1zM36 67h1v1h-1zM23 64h1v1h-1zM20 62h1v1h-1zM15 60h2v1h-2zM13 58h1v1h-1zM11 56h1v1h-1zM10 55h1v1h-1zM7 50h1v1h-1zM5 44h1v1h-1zM4 39h1v1h-1zM3 31h1v1h-1zM2 21h1v1h-1zM1 6h1v1h-1zM1 5h1v1h-1z"/>
<path fill="#e3ae6c" d="M50 69h3v1h-3zM39 68h3v1h-3zM32 67h1v1h-1zM37 67h1v1h-1zM29 66h2v1h-2zM26 65h1v1h-1zM9 54h1v1h-1zM8 52h1v1h-1zM6 48h1v1h-1zM5 45h1v1h-1zM4 40h1v1h-1zM3 32h1v1h-1zM2 23h1v1h-1zM2 22h1v1h-1zM1 8h1v1h-1zM1 7h1v1h-1z"/>
<path fill="#e4b16a" d="M27 66h2v1h-2zM24 65h2v1h-2zM21 64h2v1h-2zM18 62h2v1h-2zM17 61h1v1h-1zM14 60h1v1h-1zM13 59h1v1h-1zM12 58h1v1h-1zM11 57h1v1h-1zM7 51h1v1h-1zM6 49h1v1h-1zM5 46h1v1h-1zM4 41h1v1h-1zM3 34h1v1h-1zM3 33h1v1h-1zM2 24h1v1h-1zM1 9h1v1h-1z"/>
<path fill="#e6b468" d="M49 69h1v1h-1zM38 68h1v1h-1zM31 67h1v1h-1zM20 63h1v1h-1zM15 61h2v1h-2zM13 60h1v1h-1zM10 56h1v1h-1zM8 53h1v1h-1zM7 52h1v1h-1zM6 50h1v1h-1zM4 42h1v1h-1zM3 35h1v1h-1zM2 26h1v1h-1zM2 25h1v1h-1zM1 11h1v1h-1zM1 10h1v1h-1z"/>
<path fill="#e7b666" d="M61 70h1v1h-1zM46 69h1v1h-1zM34 68h2v1h-2zM33 67h1v1h-1zM26 66h1v1h-1zM18 63h1v1h-1zM17 62h1v1h-1zM12 59h1v1h-1zM11 58h1v1h-1zM9 55h1v1h-1zM8 54h1v1h-1zM5 47h1v1h-1zM4 43h1v1h-1zM3 36h1v1h-1zM2 27h1v1h-1zM1 13h1v1h-1zM1 12h1v1h-1z"/>
<path fill="#e9b964" d="M39 69h1v1h-1zM42 69h1v1h-1zM45 69h1v1h-1zM47 69h2v1h-2zM32 68h1v1h-1zM36 68h2v1h-2zM28 67h3v1h-3zM25 66h1v1h-1zM22 65h2v1h-2zM19 63h1v1h-1zM14 62h2v1h-2zM13 61h2v1h-2zM10 57h1v1h-1zM9 56h1v1h-1zM7 53h1v1h-1zM6 51h1v1h-1zM5 49h1v1h-1zM5 48h1v1h-1zM4 44h1v1h-1zM3 38h1v1h-1zM3 37h1v1h-1zM2 28h1v1h-1zM1 15h1v1h-1zM1 14h1v1h-1z"/>
<path fill="#eabc62" d="M60 70h1v1h-1zM40 69h2v1h-2zM43 69h2v1h-2zM27 67h1v1h-1zM24 66h1v1h-1zM21 65h1v1h-1zM20 64h1v1h-1zM15 63h1v1h-1zM16 62h1v1h-1zM12 60h1v1h-1zM11 59h1v1h-1zM10 58h1v1h-1zM8 55h1v1h-1zM7 54h1v1h-1zM6 52h1v1h-1zM4 45h1v1h-1zM3 39h1v1h-1zM2 30h1v1h-1zM2 29h1v1h-1zM1 17h1v1h-1zM1 16h1v1h-1z"/>
<path fill="#ebbf5f" d="M53 70h2v1h-2zM57 70h1v1h-1zM59 70h1v1h-1zM62 70h2v1h-2zM34 69h2v1h-2zM31 68h1v1h-1zM33 68h1v1h-1zM23 66h1v1h-1zM18 64h2v1h-2zM17 63h1v1h-1zM13 62h1v1h-1zM12 61h1v1h-1zM10 59h1v1h-1zM9 57h1v1h-1zM5 50h1v1h-1zM4 46h1v1h-1zM3 40h1v1h-1zM2 32h1v1h-1zM2 31h1v1h-1zM1 19h1v1h-1zM1 18h1v1h-1z"/>
<path fill="#ecc25c" d="M50 70h1v1h-1zM56 70h1v1h-1zM58 70h1v1h-1zM36 69h1v1h-1zM38 69h1v1h-1zM29 68h1v1h-1zM25 67h2v1h-2zM21 66h2v1h-2zM20 65h1v1h-1zM15 64h1v1h-1zM17 64h1v1h-1zM13 63h2v1h-2zM16 63h1v1h-1zM12 62h1v1h-1zM11 60h1v1h-1zM9 58h1v1h-1zM8 56h1v1h-1zM7 55h1v1h-1zM6 53h1v1h-1zM5 52h1v1h-1zM5 51h1v1h-1zM4 48h1v1h-1zM4 47h1v1h-1zM3 41h1v1h-1zM2 34h1v1h-1zM2 33h1v1h-1zM1 21h1v1h-1zM1 20h1v1h-1z"/>
<path fill="#edc45a" d="M51 70h1v1h-1zM32 69h1v1h-1zM37 69h1v1h-1zM25 68h1v1h-1zM28 68h1v1h-1zM30 68h1v1h-1zM21 67h4v1h-4zM18 65h2v1h-2zM14 64h1v1h-1zM10 60h1v1h-1zM9 59h1v1h-1zM8 57h1v1h-1zM7 56h1v1h-1zM6 54h1v1h-1zM4 49h1v1h-1zM3 43h1v1h-1zM3 42h1v1h-1zM2 35h1v1h-1zM1 24h1v1h-1zM1 23h1v1h-1zM1 22h1v1h-1z"/>
<path fill="#eec757" d="M52 70h1v1h-1zM55 70h1v1h-1zM31 69h1v1h-1zM26 68h2v1h-2zM18 66h1v1h-1zM20 66h1v1h-1zM15 65h1v1h-1zM17 65h1v1h-1zM16 64h1v1h-1zM12 63h1v1h-1zM10 62h1v1h-1zM10 61h2v1h-2zM8 58h1v1h-1zM6 55h1v1h-1zM5 54h1v1h-1zM5 53h1v1h-1zM4 50h1v1h-1zM3 45h1v1h-1zM3 44h1v1h-1zM2 37h1v1h-1zM2 36h1v1h-1zM1 26h1v1h-1zM1 25h1v1h-1z"/>
<path fill="#eeca54" d="M39 70h1v1h-1zM42 70h1v1h-1zM46 70h2v1h-2zM49 70h1v1h-1zM30 69h1v1h-1zM33 69h1v1h-1zM21 68h1v1h-1zM23 68h1v1h-1zM15 66h1v1h-1zM19 66h1v1h-1zM14 65h1v1h-1zM16 65h1v1h-1zM13 64h1v1h-1zM10 63h1v1h-1zM11 62h1v1h-1zM9 61h1v1h-1zM9 60h1v1h-1zM7 57h1v1h-1zM6 56h1v1h-1zM4 51h1v1h-1zM3 46h1v1h-1zM2 39h1v1h-1zM2 38h1v1h-1zM1 28h1v1h-1zM1 27h1v1h-1z"/>
<path fill="#efcd52" d="M34 70h2v1h-2zM40 70h2v1h-2zM43 70h3v1h-3zM48 70h1v1h-1zM25 69h1v1h-1zM28 69h2v1h-2zM22 68h1v1h-1zM24 68h1v1h-1zM18 67h1v1h-1zM20 67h1v1h-1zM13 66h1v1h-1zM17 66h1v1h-1zM13 65h1v1h-1zM10 64h1v1h-1zM12 64h1v1h-1zM11 63h1v1h-1zM9 62h1v1h-1zM8 59h1v1h-1zM7 58h1v1h-1zM6 57h1v1h-1zM5 55h1v1h-1zM4 53h1v1h-1zM4 52h1v1h-1zM3 48h1v1h-1zM3 47h1v1h-1zM2 41h1v1h-1zM2 40h1v1h-1zM1 31h1v1h-1zM1 30h1v1h-1zM1 29h1v1h-1z"/>
<path fill="#f0d04f" d="M32 70h1v1h-1zM38 70h1v1h-1zM23 69h1v1h-1zM26 69h2v1h-2zM14 67h3v1h-3zM19 67h1v1h-1zM14 66h1v1h-1zM16 66h1v1h-1zM10 65h1v1h-1zM12 65h1v1h-1zM11 64h1v1h-1zM9 63h1v1h-1zM8 60h1v1h-1zM7 59h1v1h-1zM5 57h1v1h-1zM5 56h1v1h-1zM4 54h1v1h-1zM3 50h1v1h-1zM3 49h1v1h-1zM2 43h1v1h-1zM2 42h1v1h-1zM1 34h1v1h-1zM1 33h1v1h-1zM1 32h1v1h-1z"/>
<path fill="#f1d24c" d="M36 70h1v1h-1zM24 69h1v1h-1zM18 68h3v1h-3zM17 67h1v1h-1zM10 66h1v1h-1zM12 66h1v1h-1zM8 61h1v1h-1zM7 60h1v1h-1zM5 58h2v1h-2zM4 55h1v1h-1zM3 51h1v1h-1zM2 44h1v1h-1zM1 36h1v1h-1zM1 35h1v1h-1zM0 8h1v1h-1zM0 7h1v1h-1zM0 6h1v1h-1zM0 5h1v1h-1zM0 4h1v1h-1zM0 3h1v1h-1zM0 2h1v1h-1zM0 1h1v1h-1zM0 0h1v1h-1z"/>
<path fill="#f2d549" d="M29 70h1v1h-1zM31 70h1v1h-1zM37 70h1v1h-1zM21 69h2v1h-2zM15 68h3v1h-3zM10 67h1v1h-1zM13 67h1v1h-1zM11 65h1v1h-1zM9 64h1v1h-1zM8 62h1v1h-1zM7 61h1v1h-1zM5 59h2v1h-2zM4 56h1v1h-1zM3 52h1v1h-1zM2 45h1v1h-1zM1 38h1v1h-1zM1 37h1v1h-1zM0 16h1v1h-1zM0 15h1v1h-1zM0 14h1v1h-1zM0 13h1v1h-1zM0 12h1v1h-1zM0 11h1v1h-1zM0 10h1v1h-1zM0 9h1v1h-1z"/>
<path fill="#f3d847" d="M25 70h1v1h-1zM28 70h1v1h-1zM33 70h1v1h-1zM20 69h1v1h-1zM14 68h1v1h-1zM12 67h1v1h-1zM9 66h1v1h-1zM11 66h1v1h-1zM9 65h1v1h-1zM8 63h1v1h-1zM7 62h1v1h-1zM5 60h2v1h-2zM4 58h1v1h-1zM4 57h1v1h-1zM3 54h1v1h-1zM3 53h1v1h-1zM2 48h1v1h-1zM2 47h1v1h-1zM2 46h1v1h-1zM1 40h1v1h-1zM1 39h1v1h-1zM0 22h1v1h-1zM0 21h1v1h-1zM0 20h1v1h-1zM0 19h1v1h-1zM0 18h1v1h-1zM0 17h1v1h-1z"/>
<path fill="#f4db44" d="M23 70h2v1h-2zM26 70h2v1h-2zM30 70h1v1h-1zM14 69h2v1h-2zM18 69h2v1h-2zM10 68h1v1h-1zM13 68h1v1h-1zM11 67h1v1h-1zM8 64h1v1h-1zM7 63h1v1h-1zM6 62h1v1h-1zM5 61h2v1h-2zM4 59h1v1h-1zM3 56h1v1h-1zM3 55h1v1h-1zM2 50h1v1h-1zM2 49h1v1h-1zM1 43h1v1h-1zM1 42h1v1h-1zM1 41h1v1h-1zM0 26h1v1h-1zM0 25h1v1h-1zM0 24h1v1h-1zM0 23h1v1h-1z"/>
<path fill="#f4de41" d="M60 71h2v1h-2zM63 71h1v1h-1zM21 70h1v1h-1zM16 69h2v1h-2zM12 68h1v1h-1zM9 67h1v1h-1zM8 65h1v1h-1zM7 64h1v1h-1zM5 62h1v1h-1zM4 60h1v1h-1zM3 57h1v1h-1zM2 52h1v1h-1zM2 51h1v1h-1zM1 45h1v1h-1zM1 44h1v1h-1zM0 31h1v1h-1zM0 30h1v1h-1zM0 29h1v1h-1zM0 28h1v1h-1zM0 27h1v1h-1z"/>
<path fill="#f5e03e" d="M57 71h1v1h-1zM62 71h1v1h-1zM18 70h1v1h-1zM20 70h1v1h-1zM22 70h1v1h-1zM13 69h1v1h-1zM9 68h1v1h-1zM11 68h1v1h-1zM8 66h1v1h-1zM6 64h1v1h-1zM5 63h2v1h-2zM4 61h1v1h-1zM3 59h1v1h-1zM3 58h1v1h-1zM2 54h1v1h-1zM2 53h1v1h-1zM1 47h1v1h-1zM1 46h1v1h-1zM0 36h1v1h-1zM0 35h1v1h-1zM0 34h1v1h-1zM0 33h1v1h-1zM0 32h1v1h-1z"/>
<path fill="#f6e33b" d="M53 71h1v1h-1zM59 71h1v1h-1zM14 70h1v1h-1zM17 70h1v1h-1zM19 70h1v1h-1zM10 69h1v1h-1zM12 69h1v1h-1zM6 65h2v1h-2zM5 64h1v1h-1zM4 62h1v1h-1zM3 60h1v1h-1zM2 55h1v1h-1zM1 50h1v1h-1zM1 49h1v1h-1zM1 48h1v1h-1zM0 40h1v1h-1zM0 39h1v1h-1zM0 38h1v1h-1zM0 37h1v1h-1z"/>
<path fill="#f7e639" d="M50 71h2v1h-2zM54 71h3v1h-3zM58 71h1v1h-1zM15 70h2v1h-2zM11 69h1v1h-1zM8 67h1v1h-1zM6 66h2v1h-2zM5 65h1v1h-1zM4 63h1v1h-1zM3 61h1v1h-1zM2 57h1v1h-1zM2 56h1v1h-1zM1 52h1v1h-1zM1 51h1v1h-1zM0 44h1v1h-1zM0 43h1v1h-1zM0 42h1v1h-1zM0 41h1v1h-1z"/>
<path fill="#f8e936" d="M52 71h1v1h-1zM11 70h3v1h-3zM9 69h1v1h-1zM8 68h1v1h-1zM7 67h1v1h-1zM5 66h1v1h-1zM4 64h1v1h-1zM3 62h1v1h-1zM2 58h1v1h-1zM1 54h1v1h-1zM1 53h1v1h-1zM0 49h1v1h-1zM0 48h1v1h-1zM0 47h1v1h-1zM0 46h1v1h-1zM0 45h1v1h-1z"/>
<path fill="#f9eb33" d="M42 71h1v1h-1zM45 71h1v1h-1zM47 71h1v1h-1zM49 71h1v1h-1zM5 67h2v1h-2zM4 65h1v1h-1zM3 63h1v1h-1zM2 59h1v1h-1zM1 56h1v1h-1zM1 55h1v1h-1zM0 52h1v1h-1zM0 51h1v1h-1zM0 50h1v1h-1z"/>
<path fill="#faee30" d="M39 71h1v1h-1zM41 71h1v1h-1zM43 71h2v1h-2zM46 71h1v1h-1zM48 71h1v1h-1zM10 70h1v1h-1zM8 69h1v1h-1zM5 68h3v1h-3zM4 66h1v1h-1zM3 64h1v1h-1zM2 61h1v1h-1zM2 60h1v1h-1zM1 57h1v1h-1zM0 54h1v1h-1zM0 53h1v1h-1z"/>
<path fill="#fbf12e" d="M11 71h1v1h-1zM16 71h1v1h-1zM20 71h2v1h-2zM24 71h3v1h-3zM32 71h1v1h-1zM34 71h2v1h-2zM40 71h1v1h-1zM9 70h1v1h-1zM5 69h3v1h-3zM4 67h1v1h-1zM3 65h1v1h-1zM2 62h1v1h-1zM1 59h1v1h-1zM1 58h1v1h-1zM0 56h1v1h-1zM0 55h1v1h-1z"/>
<path fill="#fcf42b" d="M12 71h4v1h-4zM17 71h3v1h-3zM23 71h1v1h-1zM27 71h3v1h-3zM31 71h1v1h-1zM33 71h1v1h-1zM36 71h3v1h-3zM8 70h1v1h-1zM3 66h1v1h-1zM2 63h1v1h-1zM1 60h1v1h-1zM0 57h1v1h-1z"/>
<path fill="#fcf728" d="M8 71h1v1h-1zM10 71h1v1h-1zM22 71h1v1h-1zM30 71h1v1h-1zM5 70h3v1h-3zM4 68h1v1h-1zM3 67h1v1h-1zM2 64h1v1h-1zM1 61h1v1h-1zM0 59h1v1h-1zM0 58h1v1h-1z"/>
<path fill="#fdf926" d="M9 71h1v1h-1zM4 69h1v1h-1zM3 68h1v1h-1zM2 65h1v1h-1zM1 63h1v1h-1zM1 62h1v1h-1zM0 61h1v1h-1zM0 60h1v1h-1z"/>
<path fill="#fefc23" d="M6 71h2v1h-2zM3 70h2v1h-2zM3 69h1v1h-1zM2 67h1v1h-1zM2 66h1v1h-1zM1 65h1v1h-1zM1 64h1v1h-1zM0 63h1v1h-1zM0 62h1v1h-1z"/>
<path fill="#ffff20" d="M0 71h6v1h-6zM0 70h3v1h-3zM0 69h3v1h-3zM0 68h3v1h-3zM0 67h2v1h-2zM0 66h2v1h-2zM0 65h1v1h-1zM0 64h1v1h-1z"/>
</g>
<rect x="72.5" y="125.2" width="628.5" height="707.4" fill="none" stroke="#222" stroke-width="1"/>
<line x1="77.41" y1="832.6" x2="77.41" y2="837.6" stroke="#222" stroke-width="1"/>
<text x="77.41" y="867.6" font-size="33.3" text-anchor="middle">1</text>
<line x1="224.71" y1="832.6" x2="224.71" y2="837.6" stroke="#222" stroke-width="1"/>
<text x="224.71" y="867.6" font-size="33.3" text-anchor="middle">15</text>
<line x1="372.02" y1="832.6" x2="372.02" y2="837.6" stroke="#222" stroke-width="1"/>
<text x="372.02" y="867.6" font-size="33.3" text-anchor="middle">30</text>
<line x1="519.32" y1="832.6" x2="519.32" y2="837.6" stroke="#222" stroke-width="1"/>
<text x="519.32" y="867.6" font-size="33.3" text-anchor="middle">45</text>
<line x1="666.63" y1="832.6" x2="666.63" y2="837.6" stroke="#222" stroke-width="1"/>
<text x="666.63" y="867.6" font-size="33.3" text-anchor="middle">60</text>
<line x1="67.5" y1="818.06" x2="72.5" y2="818.06" stroke="#222" stroke-width="1"/>
<text x="63" y="831.66" font-size="33.3" text-anchor="end">1</text>
<line x1="67.5" y1="729.64" x2="72.5" y2="729.64" stroke="#222" stroke-width="1"/>
<text x="63" y="743.24" font-size="33.3" text-anchor="end">10</text>
<line x1="67.5" y1="513.49" x2="72.5" y2="513.49" stroke="#222" stroke-width="1"/>
<text x="63" y="527.09" font-size="33.3" text-anchor="end">100</text>
<line x1="67.5" y1="277.69" x2="72.5" y2="277.69" stroke="#222" stroke-width="1"/>
<text x="63" y="291.29" font-size="33.3" text-anchor="end">1k</text>
<text x="115.5" y="910.6" font-size="39.5" text-anchor="start">ResNet18 Width Parameter</text>
<text x="272.7" y="118.9" font-size="46" text-anchor="start">Test Error</text>
<linearGradient id="gA" x1="0" y1="1" x2="0" y2="0">
<stop offset="0" stop-color="#0a0056"/>
<stop offset="0.25" stop-color="#5038c8"/>
<stop offset="0.5" stop-color="#c87890"/>
<stop offset="0.75" stop-color="#eabc62"/>
<stop offset="1" stop-color="#ffff20"/>
</linearGradient>
<rect x="719.8" y="125.2" width="43.3" height="707.4" fill="url(#gA)" stroke="#222" stroke-width="1"/>
<line x1="763.1" y1="825.9" x2="767.6" y2="825.9" stroke="#222" stroke-width="1"/>
<text x="771.3" y="840.1" font-size="33.3" text-anchor="start">0.3</text>
<line x1="763.1" y1="656.73" x2="767.6" y2="656.73" stroke="#222" stroke-width="1"/>
<text x="771.3" y="670.93" font-size="33.3" text-anchor="start">0.4</text>
<line x1="763.1" y1="525.52" x2="767.6" y2="525.52" stroke="#222" stroke-width="1"/>
<text x="771.3" y="539.72" font-size="33.3" text-anchor="start">0.5</text>
<line x1="763.1" y1="418.3" x2="767.6" y2="418.3" stroke="#222" stroke-width="1"/>
<text x="771.3" y="432.5" font-size="33.3" text-anchor="start">0.6</text>
<line x1="763.1" y1="327.66" x2="767.6" y2="327.66" stroke="#222" stroke-width="1"/>
<text x="771.3" y="341.86" font-size="33.3" text-anchor="start">0.7</text>
<line x1="763.1" y1="249.14" x2="767.6" y2="249.14" stroke="#222" stroke-width="1"/>
<text x="771.3" y="263.34" font-size="33.3" text-anchor="start">0.8</text>
<line x1="763.1" y1="179.88" x2="767.6" y2="179.88" stroke="#222" stroke-width="1"/>
<text x="771.3" y="194.08" font-size="33.3" text-anchor="start">0.9</text>
<g transform="translate(984,123.7) scale(9.82031,9.85694)" shape-rendering="crispEdges">
<rect x="0" y="0" width="64" height="72" fill="#0a0056"/>
<path fill="#0d025b" d="M62 45h2v1h-2zM57 44h7v1h-7zM52 43h12v1h-12zM48 42h16v1h-16zM46 41h18v1h-18zM43 40h21v1h-21zM40 39h24v1h-24zM38 38h26v1h-26zM36 37h28v1h-28zM34 36h30v1h-30zM32 35h27v1h-27zM30 34h24v1h-24zM29 33h21v1h-21zM27 32h20v1h-20zM26 31h18v1h-18zM25 30h16v1h-16zM24 29h14v1h-14zM23 28h13v1h-13zM22 27h12v1h-12zM21 26h11v1h-11zM21 25h9v1h-9zM20 24h8v1h-8zM19 23h8v1h-8zM19 22h6v1h-6zM18 21h6v1h-6zM18 20h5v1h-5zM17 19h5v1h-5zM17 18h5v1h-5zM16 17h5v1h-5zM16 16h4v1h-4zM16 15h3v1h-3zM15 14h4v1h-4zM15 13h3v1h-3zM15 12h3v1h-3zM15 11h2v1h-2zM15 10h2v1h-2zM15 9h1v1h-1zM14 8h2v1h-2zM14 7h2v1h-2zM14 6h1v1h-1zM13 5h2v1h-2zM13 4h2v1h-2zM13 3h2v1h-2zM13 2h2v1h-2zM13 1h1v1h-1zM12 0h2v1h-2z"/>
<path fill="#100560" d="M61 46h3v1h-3zM56 45h6v1h-6zM52 44h5v1h-5zM48 43h4v1h-4zM45 42h3v1h-3zM42 41h4v1h-4zM39 40h4v1h-4zM37 39h3v1h-3zM35 38h3v1h-3zM33 37h3v1h-3zM31 36h3v1h-3zM30 35h2v1h-2zM28 34h2v1h-2zM27 33h2v1h-2zM26 32h1v1h-1zM25 31h1v1h-1zM23 30h2v1h-2zM22 29h2v1h-2zM21 28h2v1h-2zM21 27h1v1h-1zM20 26h1v1h-1zM19 25h2v1h-2zM19 24h1v1h-1zM18 23h1v1h-1zM18 22h1v1h-1zM17 21h1v1h-1zM17 20h1v1h-1zM16 19h1v1h-1zM16 18h1v1h-1zM15 16h1v1h-1zM15 15h1v1h-1zM14 12h1v1h-1zM14 11h1v1h-1zM14 10h1v1h-1zM13 9h2v1h-2zM13 8h1v1h-1zM13 7h1v1h-1zM13 6h1v1h-1zM12 5h1v1h-1zM12 4h1v1h-1zM12 3h1v1h-1zM12 2h1v1h-1zM12 1h1v1h-1z"/>
<path fill="#130764" d="M63 47h1v1h-1zM57 46h4v1h-4zM52 45h4v1h-4zM48 44h4v1h-4zM45 43h3v1h-3zM42 42h3v1h-3zM39 41h3v1h-3zM37 40h2v1h-2zM35 39h2v1h-2zM33 38h2v1h-2zM31 37h2v1h-2zM30 36h1v1h-1zM28 35h2v1h-2zM27 34h1v1h-1zM26 33h1v1h-1zM24 32h2v1h-2zM23 31h2v1h-2zM22 30h1v1h-1zM21 29h1v1h-1zM20 28h1v1h-1zM19 27h2v1h-2zM19 26h1v1h-1zM18 25h1v1h-1zM18 24h1v1h-1zM17 23h1v1h-1zM17 22h1v1h-1zM16 21h1v1h-1zM16 20h1v1h-1zM15 18h1v1h-1zM15 17h1v1h-1zM14 15h1v1h-1zM14 14h1v1h-1zM14 13h1v1h-1zM13 12h1v1h-1zM13 11h1v1h-1zM13 10h1v1h-1zM12 8h1v1h-1zM12 7h1v1h-1zM12 6h1v1h-1zM11 2h1v1h-1zM11 1h1v1h-1zM11 0h1v1h-1z"/>
<path fill="#160969" d="M59 47h4v1h-4zM53 46h4v1h-4zM48 45h4v1h-4zM45 44h3v1h-3zM42 43h3v1h-3zM39 42h3v1h-3zM37 41h2v1h-2zM35 40h2v1h-2zM33 39h2v1h-2zM31 38h2v1h-2zM30 37h1v1h-1zM28 36h2v1h-2zM27 35h1v1h-1zM26 34h1v1h-1zM24 33h2v1h-2zM23 32h1v1h-1zM22 31h1v1h-1zM21 30h1v1h-1zM20 29h1v1h-1zM19 28h1v1h-1zM18 27h1v1h-1zM18 26h1v1h-1zM17 25h1v1h-1zM17 24h1v1h-1zM16 23h1v1h-1zM16 22h1v1h-1zM15 20h1v1h-1zM15 19h1v1h-1zM14 17h1v1h-1zM14 16h1v1h-1zM13 15h1v1h-1zM13 14h1v1h-1zM13 13h1v1h-1zM12 11h1v1h-1zM12 10h1v1h-1zM12 9h1v1h-1zM11 5h1v1h-1zM11 4h1v1h-1zM11 3h1v1h-1z"/>
<path fill="#190c6e" d="M61 48h3v1h-3zM55 47h4v1h-4zM49 46h4v1h-4zM46 45h2v1h-2zM43 44h2v1h-2zM40 43h2v1h-2zM37 42h2v1h-2zM35 41h2v1h-2zM33 40h2v1h-2zM31 39h2v1h-2zM30 38h1v1h-1zM28 37h2v1h-2zM27 36h1v1h-1zM25 35h2v1h-2zM24 34h2v1h-2zM22 33h2v1h-2zM21 32h2v1h-2zM20 31h2v1h-2zM19 30h2v1h-2zM19 29h1v1h-1zM18 28h1v1h-1zM17 27h1v1h-1zM17 26h1v1h-1zM16 24h1v1h-1zM15 22h1v1h-1zM15 21h1v1h-1zM14 20h1v1h-1zM14 19h1v1h-1zM14 18h1v1h-1zM13 17h1v1h-1zM13 16h1v1h-1zM12 13h1v1h-1zM12 12h1v1h-1zM11 8h1v1h-1zM11 7h1v1h-1zM11 6h1v1h-1zM10 0h1v1h-1z"/>
<path fill="#1c0e72" d="M63 49h1v1h-1zM56 48h5v1h-5zM50 47h5v1h-5zM46 46h3v1h-3zM43 45h3v1h-3zM40 44h3v1h-3zM37 43h3v1h-3zM35 42h2v1h-2zM33 41h2v1h-2zM31 40h2v1h-2zM30 39h1v1h-1zM28 38h2v1h-2zM27 37h1v1h-1zM25 36h2v1h-2zM23 35h2v1h-2zM22 34h2v1h-2zM21 33h1v1h-1zM20 32h1v1h-1zM19 31h1v1h-1zM18 30h1v1h-1zM18 29h1v1h-1zM17 28h1v1h-1zM16 26h1v1h-1zM16 25h1v1h-1zM15 24h1v1h-1zM15 23h1v1h-1zM14 22h1v1h-1zM14 21h1v1h-1zM13 19h1v1h-1zM13 18h1v1h-1zM12 16h1v1h-1zM12 15h1v1h-1zM12 14h1v1h-1zM11 11h1v1h-1zM11 10h1v1h-1zM11 9h1v1h-1zM10 1h1v1h-1z"/>
<path fill="#1e1077" d="M59 49h4v1h-4zM53 48h3v1h-3zM48 47h2v1h-2zM44 46h2v1h-2zM41 45h2v1h-2zM38 44h2v1h-2zM35 43h2v1h-2zM33 42h2v1h-2zM31 41h2v1h-2zM29 40h2v1h-2zM28 39h2v1h-2zM26 38h2v1h-2zM25 37h2v1h-2zM23 36h2v1h-2zM22 35h1v1h-1zM21 34h1v1h-1zM20 33h1v1h-1zM19 32h1v1h-1zM18 31h1v1h-1zM17 29h1v1h-1zM16 28h1v1h-1zM16 27h1v1h-1zM15 26h1v1h-1zM15 25h1v1h-1zM14 23h1v1h-1zM13 21h1v1h-1zM13 20h1v1h-1zM12 18h1v1h-1zM12 17h1v1h-1zM11 13h1v1h-1zM11 12h1v1h-1zM10 2h1v1h-1z"/>
<path fill="#21137c" d="M62 50h2v1h-2zM56 49h3v1h-3zM50 48h3v1h-3zM45 47h3v1h-3zM42 46h2v1h-2zM38 45h3v1h-3zM36 44h2v1h-2zM33 43h2v1h-2zM31 42h2v1h-2zM29 41h2v1h-2zM28 40h1v1h-1zM26 39h2v1h-2zM24 38h2v1h-2zM23 37h2v1h-2zM22 36h1v1h-1zM21 35h1v1h-1zM20 34h1v1h-1zM19 33h1v1h-1zM18 32h1v1h-1zM17 31h1v1h-1zM17 30h1v1h-1zM16 29h1v1h-1zM15 27h1v1h-1zM14 25h1v1h-1zM14 24h1v1h-1zM13 22h1v1h-1zM12 19h1v1h-1zM11 15h1v1h-1zM11 14h1v1h-1zM10 4h1v1h-1zM10 3h1v1h-1z"/>
<path fill="#241581" d="M59 50h3v1h-3zM53 49h3v1h-3zM47 48h3v1h-3zM43 47h2v1h-2zM40 46h2v1h-2zM36 45h2v1h-2zM34 44h2v1h-2zM32 43h1v1h-1zM30 42h1v1h-1zM28 41h1v1h-1zM26 40h2v1h-2zM24 39h2v1h-2zM23 38h1v1h-1zM22 37h1v1h-1zM21 36h1v1h-1zM20 35h1v1h-1zM19 34h1v1h-1zM18 33h1v1h-1zM17 32h1v1h-1zM16 30h1v1h-1zM15 28h1v1h-1zM14 26h1v1h-1zM13 24h1v1h-1zM13 23h1v1h-1zM12 21h1v1h-1zM12 20h1v1h-1zM11 17h1v1h-1zM11 16h1v1h-1zM10 9h1v1h-1zM10 8h1v1h-1zM10 7h1v1h-1zM10 6h1v1h-1zM10 5h1v1h-1zM9 2h1v1h-1zM9 1h1v1h-1zM9 0h1v1h-1z"/>
<path fill="#271786" d="M63 51h1v1h-1zM56 50h3v1h-3zM50 49h3v1h-3zM45 48h2v1h-2zM41 47h2v1h-2zM38 46h2v1h-2zM35 45h1v1h-1zM32 44h2v1h-2zM30 43h2v1h-2zM28 42h2v1h-2zM26 41h2v1h-2zM25 40h1v1h-1zM23 39h1v1h-1zM22 38h1v1h-1zM21 37h1v1h-1zM20 36h1v1h-1zM19 35h1v1h-1zM18 34h1v1h-1zM17 33h1v1h-1zM16 31h1v1h-1zM15 29h1v1h-1zM14 27h1v1h-1zM13 25h1v1h-1zM12 22h1v1h-1zM11 18h1v1h-1zM10 13h1v1h-1zM10 12h1v1h-1zM10 11h1v1h-1zM10 10h1v1h-1zM9 5h1v1h-1zM9 4h1v1h-1zM9 3h1v1h-1z"/>
<path fill="#2a1a8a" d="M60 51h3v1h-3zM54 50h2v1h-2zM48 49h2v1h-2zM43 48h2v1h-2zM39 47h2v1h-2zM36 46h2v1h-2zM33 45h2v1h-2zM31 44h1v1h-1zM29 43h1v1h-1zM27 42h1v1h-1zM25 41h1v1h-1zM24 40h1v1h-1zM22 39h1v1h-1zM21 38h1v1h-1zM20 37h1v1h-1zM19 36h1v1h-1zM18 35h1v1h-1zM16 32h1v1h-1zM15 30h1v1h-1zM14 28h1v1h-1zM13 26h1v1h-1zM12 23h1v1h-1zM11 20h1v1h-1zM11 19h1v1h-1zM10 15h1v1h-1zM10 14h1v1h-1zM9 8h1v1h-1zM9 7h1v1h-1zM9 6h1v1h-1z"/>
<path fill="#2d1c8f" d="M58 51h2v1h-2zM51 50h3v1h-3zM46 49h2v1h-2zM41 48h2v1h-2zM38 47h1v1h-1zM35 46h1v1h-1zM32 45h1v1h-1zM30 44h1v1h-1zM28 43h1v1h-1zM26 42h1v1h-1zM24 41h1v1h-1zM23 40h1v1h-1zM17 34h1v1h-1zM16 33h1v1h-1zM15 31h1v1h-1zM14 29h1v1h-1zM13 27h1v1h-1zM12 24h1v1h-1zM11 21h1v1h-1zM10 17h1v1h-1zM10 16h1v1h-1zM9 9h1v1h-1z"/>
<path fill="#301e94" d="M63 52h1v1h-1zM56 51h2v1h-2zM49 50h2v1h-2zM44 49h2v1h-2zM40 48h1v1h-1zM37 47h1v1h-1zM34 46h1v1h-1zM31 45h1v1h-1zM29 44h1v1h-1zM27 43h1v1h-1zM25 42h1v1h-1zM22 40h1v1h-1zM21 39h1v1h-1zM20 38h1v1h-1zM19 37h1v1h-1zM18 36h1v1h-1zM17 35h1v1h-1zM14 30h1v1h-1zM12 25h1v1h-1zM11 22h1v1h-1zM10 18h1v1h-1zM9 11h1v1h-1zM9 10h1v1h-1z"/>
<path fill="#332198" d="M61 52h2v1h-2zM54 51h2v1h-2zM48 50h1v1h-1zM43 49h1v1h-1zM39 48h1v1h-1zM36 47h1v1h-1zM33 46h1v1h-1zM28 44h1v1h-1zM26 43h1v1h-1zM23 41h1v1h-1zM16 34h1v1h-1zM15 32h1v1h-1zM13 28h1v1h-1zM12 26h1v1h-1zM10 19h1v1h-1zM9 12h1v1h-1zM8 0h1v1h-1z"/>
<path fill="#36239d" d="M59 52h2v1h-2zM52 51h2v1h-2zM46 50h2v1h-2zM41 49h2v1h-2zM38 48h1v1h-1zM35 47h1v1h-1zM32 46h1v1h-1zM30 45h1v1h-1zM24 42h1v1h-1zM21 40h1v1h-1zM20 39h1v1h-1zM19 38h1v1h-1zM18 37h1v1h-1zM14 31h1v1h-1zM13 29h1v1h-1zM11 23h1v1h-1zM9 13h1v1h-1zM8 2h1v1h-1zM8 1h1v1h-1z"/>
<path fill="#3925a2" d="M57 52h2v1h-2zM50 51h2v1h-2zM45 50h1v1h-1zM40 49h1v1h-1zM37 48h1v1h-1zM34 47h1v1h-1zM29 45h1v1h-1zM27 44h1v1h-1zM25 43h1v1h-1zM22 41h1v1h-1zM17 36h1v1h-1zM15 33h1v1h-1zM12 27h1v1h-1zM11 24h1v1h-1zM10 20h1v1h-1zM9 14h1v1h-1zM8 3h1v1h-1z"/>
<path fill="#3c28a7" d="M63 53h1v1h-1zM55 52h2v1h-2zM49 51h1v1h-1zM43 50h2v1h-2zM39 49h1v1h-1zM36 48h1v1h-1zM33 47h1v1h-1zM31 46h1v1h-1zM23 42h1v1h-1zM16 35h1v1h-1zM14 32h1v1h-1zM13 30h1v1h-1zM10 21h1v1h-1zM9 15h1v1h-1zM8 5h1v1h-1zM8 4h1v1h-1z"/>
<path fill="#3e2aac" d="M62 53h1v1h-1zM53 52h2v1h-2zM47 51h2v1h-2zM42 50h1v1h-1zM35 48h1v1h-1zM30 46h1v1h-1zM28 45h1v1h-1zM26 44h1v1h-1zM24 43h1v1h-1zM20 40h1v1h-1zM19 39h1v1h-1zM18 38h1v1h-1zM17 37h1v1h-1zM12 28h1v1h-1zM11 25h1v1h-1zM8 6h1v1h-1z"/>
<path fill="#412cb0" d="M60 53h2v1h-2zM52 52h1v1h-1zM46 51h1v1h-1zM41 50h1v1h-1zM38 49h1v1h-1zM32 47h1v1h-1zM21 41h1v1h-1zM15 34h1v1h-1zM14 33h1v1h-1zM13 31h1v1h-1zM11 26h1v1h-1zM10 22h1v1h-1zM9 16h1v1h-1zM8 8h1v1h-1zM8 7h1v1h-1z"/>
<path fill="#442fb5" d="M58 53h2v1h-2zM50 52h2v1h-2zM44 51h2v1h-2zM40 50h1v1h-1zM37 49h1v1h-1zM34 48h1v1h-1zM31 47h1v1h-1zM29 46h1v1h-1zM27 45h1v1h-1zM25 44h1v1h-1zM22 42h1v1h-1zM16 36h1v1h-1zM12 29h1v1h-1zM10 23h1v1h-1zM9 17h1v1h-1zM8 9h1v1h-1z"/>
<path fill="#4731ba" d="M56 53h2v1h-2zM49 52h1v1h-1zM43 51h1v1h-1zM39 50h1v1h-1zM36 49h1v1h-1zM33 48h1v1h-1zM23 43h1v1h-1zM20 41h1v1h-1zM19 40h1v1h-1zM18 39h1v1h-1zM17 38h1v1h-1zM14 34h1v1h-1zM13 32h1v1h-1zM11 27h1v1h-1zM9 18h1v1h-1zM8 10h1v1h-1zM7 0h1v1h-1z"/>
<path fill="#4a33be" d="M63 54h1v1h-1zM53 53h3v1h-3zM47 52h2v1h-2zM42 51h1v1h-1zM38 50h1v1h-1zM35 49h1v1h-1zM30 47h1v1h-1zM28 46h1v1h-1zM26 45h1v1h-1zM24 44h1v1h-1zM21 42h1v1h-1zM15 35h1v1h-1zM12 30h1v1h-1zM10 24h1v1h-1zM9 19h1v1h-1zM8 12h1v1h-1zM8 11h1v1h-1zM7 1h1v1h-1z"/>
<path fill="#4d36c3" d="M60 54h3v1h-3zM52 53h1v1h-1zM45 52h2v1h-2zM41 51h1v1h-1zM37 50h1v1h-1zM32 48h1v1h-1zM29 47h1v1h-1zM27 46h1v1h-1zM25 45h1v1h-1zM22 43h1v1h-1zM16 37h1v1h-1zM13 33h1v1h-1zM11 28h1v1h-1zM9 20h1v1h-1zM8 13h1v1h-1zM7 2h1v1h-1z"/>
<path fill="#5038c8" d="M58 54h2v1h-2zM50 53h2v1h-2zM44 52h1v1h-1zM40 51h1v1h-1zM34 49h1v1h-1zM31 48h1v1h-1zM23 44h1v1h-1zM20 42h1v1h-1zM19 41h1v1h-1zM18 40h1v1h-1zM17 39h1v1h-1zM14 35h1v1h-1zM12 31h1v1h-1zM10 25h1v1h-1zM8 14h1v1h-1zM7 4h1v1h-1zM7 3h1v1h-1z"/>
<path fill="#553bc6" d="M55 54h3v1h-3zM48 53h2v1h-2zM42 52h2v1h-2zM39 51h1v1h-1zM36 50h1v1h-1zM33 49h1v1h-1zM30 48h1v1h-1zM28 47h1v1h-1zM26 46h1v1h-1zM24 45h1v1h-1zM21 43h1v1h-1zM16 38h1v1h-1zM15 36h1v1h-1zM13 34h1v1h-1zM11 29h1v1h-1zM10 26h1v1h-1zM9 21h1v1h-1zM8 15h1v1h-1zM7 5h1v1h-1z"/>
<path fill="#5a3dc3" d="M62 55h2v1h-2zM53 54h2v1h-2zM46 53h2v1h-2zM41 52h1v1h-1zM38 51h1v1h-1zM35 50h1v1h-1zM32 49h1v1h-1zM27 47h1v1h-1zM25 46h1v1h-1zM22 44h1v1h-1zM19 42h1v1h-1zM18 41h1v1h-1zM17 40h1v1h-1zM14 36h1v1h-1zM12 32h1v1h-1zM9 22h1v1h-1zM8 16h1v1h-1zM7 6h1v1h-1z"/>
<path fill="#5f40c1" d="M60 55h2v1h-2zM51 54h2v1h-2zM44 53h2v1h-2zM40 52h1v1h-1zM37 51h1v1h-1zM34 50h1v1h-1zM31 49h1v1h-1zM29 48h1v1h-1zM23 45h1v1h-1zM20 43h1v1h-1zM15 37h1v1h-1zM13 35h1v1h-1zM11 30h1v1h-1zM10 27h1v1h-1zM9 23h1v1h-1zM8 17h1v1h-1zM7 7h1v1h-1z"/>
<path fill="#6443bf" d="M57 55h3v1h-3zM49 54h2v1h-2zM43 53h1v1h-1zM39 52h1v1h-1zM36 51h1v1h-1zM33 50h1v1h-1zM30 49h1v1h-1zM28 48h1v1h-1zM26 47h1v1h-1zM24 46h1v1h-1zM21 44h1v1h-1zM16 39h1v1h-1zM12 33h1v1h-1zM9 24h1v1h-1zM8 18h1v1h-1zM7 9h1v1h-1zM7 8h1v1h-1z"/>
<path fill="#6945bc" d="M54 55h3v1h-3zM47 54h2v1h-2zM42 53h1v1h-1zM38 52h1v1h-1zM35 51h1v1h-1zM32 50h1v1h-1zM27 48h1v1h-1zM25 47h1v1h-1zM22 45h1v1h-1zM19 43h1v1h-1zM18 42h1v1h-1zM17 41h1v1h-1zM14 37h1v1h-1zM11 31h1v1h-1zM10 28h1v1h-1zM8 19h1v1h-1zM7 10h1v1h-1zM6 5h1v1h-1zM6 4h1v1h-1zM6 3h1v1h-1zM6 2h1v1h-1zM6 1h1v1h-1zM6 0h1v1h-1z"/>
<path fill="#6e48ba" d="M61 56h3v1h-3zM52 55h2v1h-2zM45 54h2v1h-2zM41 53h1v1h-1zM37 52h1v1h-1zM34 51h1v1h-1zM31 50h1v1h-1zM29 49h1v1h-1zM23 46h1v1h-1zM20 44h1v1h-1zM15 38h1v1h-1zM13 36h1v1h-1zM12 34h1v1h-1zM10 29h1v1h-1zM9 25h1v1h-1zM8 20h1v1h-1zM7 11h1v1h-1zM6 7h1v1h-1zM6 6h1v1h-1z"/>
<path fill="#734bb8" d="M59 56h2v1h-2zM50 55h2v1h-2zM44 54h1v1h-1zM39 53h2v1h-2zM36 52h1v1h-1zM33 51h1v1h-1zM30 50h1v1h-1zM28 49h1v1h-1zM26 48h1v1h-1zM24 47h1v1h-1zM21 45h1v1h-1zM16 40h1v1h-1zM11 32h1v1h-1zM9 26h1v1h-1zM8 21h1v1h-1zM7 13h1v1h-1zM7 12h1v1h-1zM6 9h1v1h-1zM6 8h1v1h-1z"/>
<path fill="#784db5" d="M56 56h3v1h-3zM48 55h2v1h-2zM42 54h2v1h-2zM38 53h1v1h-1zM35 52h1v1h-1zM32 51h1v1h-1zM27 49h1v1h-1zM25 48h1v1h-1zM22 46h1v1h-1zM19 44h1v1h-1zM18 43h1v1h-1zM17 42h1v1h-1zM15 39h1v1h-1zM14 38h1v1h-1zM10 30h1v1h-1zM8 22h1v1h-1zM7 14h1v1h-1zM6 11h1v1h-1zM6 10h1v1h-1z"/>
<path fill="#7d50b3" d="M63 57h1v1h-1zM53 56h3v1h-3zM46 55h2v1h-2zM41 54h1v1h-1zM37 53h1v1h-1zM34 52h1v1h-1zM31 51h1v1h-1zM29 50h1v1h-1zM26 49h1v1h-1zM23 47h1v1h-1zM20 45h1v1h-1zM16 41h1v1h-1zM13 37h1v1h-1zM12 35h1v1h-1zM11 33h1v1h-1zM9 27h1v1h-1zM8 23h1v1h-1zM7 16h1v1h-1zM7 15h1v1h-1zM6 12h1v1h-1z"/>
<path fill="#8253b1" d="M60 57h3v1h-3zM51 56h2v1h-2zM44 55h2v1h-2zM40 54h1v1h-1zM36 53h1v1h-1zM33 52h1v1h-1zM28 50h1v1h-1zM24 48h1v1h-1zM21 46h1v1h-1zM10 31h1v1h-1zM9 28h1v1h-1zM8 24h1v1h-1zM7 17h1v1h-1zM6 14h1v1h-1zM6 13h1v1h-1z"/>
<path fill="#8755ae" d="M57 57h3v1h-3zM49 56h2v1h-2zM43 55h1v1h-1zM39 54h1v1h-1zM35 53h1v1h-1zM32 52h1v1h-1zM30 51h1v1h-1zM27 50h1v1h-1zM25 49h1v1h-1zM23 48h1v1h-1zM22 47h1v1h-1zM19 45h1v1h-1zM18 44h1v1h-1zM17 43h1v1h-1zM15 40h1v1h-1zM14 39h1v1h-1zM12 36h1v1h-1zM11 34h1v1h-1zM9 29h1v1h-1zM8 25h1v1h-1zM7 19h1v1h-1zM7 18h1v1h-1zM6 15h1v1h-1z"/>
<path fill="#8c58ac" d="M54 57h3v1h-3zM47 56h2v1h-2zM42 55h1v1h-1zM38 54h1v1h-1zM34 53h1v1h-1zM29 51h1v1h-1zM26 50h1v1h-1zM24 49h1v1h-1zM20 46h1v1h-1zM16 42h1v1h-1zM13 38h1v1h-1zM10 32h1v1h-1zM8 26h1v1h-1zM7 20h1v1h-1zM6 16h1v1h-1zM5 5h1v1h-1zM5 4h1v1h-1zM5 3h1v1h-1zM5 2h1v1h-1zM5 1h1v1h-1zM5 0h1v1h-1z"/>
<path fill="#915baa" d="M61 58h3v1h-3zM52 57h2v1h-2zM45 56h2v1h-2zM40 55h2v1h-2zM37 54h1v1h-1zM31 52h1v1h-1zM28 51h1v1h-1zM22 48h1v1h-1zM21 47h1v1h-1zM18 45h1v1h-1zM14 40h1v1h-1zM9 30h1v1h-1zM8 27h1v1h-1zM7 21h1v1h-1zM6 17h1v1h-1zM5 7h1v1h-1zM5 6h1v1h-1z"/>
<path fill="#965da7" d="M59 58h2v1h-2zM50 57h2v1h-2zM44 56h1v1h-1zM39 55h1v1h-1zM36 54h1v1h-1zM33 53h1v1h-1zM30 52h1v1h-1zM27 51h1v1h-1zM25 50h1v1h-1zM23 49h1v1h-1zM19 46h1v1h-1zM17 44h1v1h-1zM15 41h1v1h-1zM12 37h1v1h-1zM11 35h1v1h-1zM10 33h1v1h-1zM8 28h1v1h-1zM7 23h1v1h-1zM7 22h1v1h-1zM6 18h1v1h-1zM5 9h1v1h-1zM5 8h1v1h-1z"/>
<path fill="#9b60a5" d="M56 58h3v1h-3zM48 57h2v1h-2zM42 56h2v1h-2zM38 55h1v1h-1zM35 54h1v1h-1zM32 53h1v1h-1zM29 52h1v1h-1zM26 51h1v1h-1zM24 50h1v1h-1zM21 48h1v1h-1zM20 47h1v1h-1zM16 43h1v1h-1zM13 39h1v1h-1zM9 31h1v1h-1zM7 24h1v1h-1zM6 20h1v1h-1zM6 19h1v1h-1zM5 11h1v1h-1zM5 10h1v1h-1z"/>
<path fill="#a063a3" d="M62 59h2v1h-2zM53 58h3v1h-3zM46 57h2v1h-2zM41 56h1v1h-1zM37 55h1v1h-1zM34 54h1v1h-1zM31 53h1v1h-1zM28 52h1v1h-1zM25 51h1v1h-1zM22 49h1v1h-1zM18 46h1v1h-1zM17 45h1v1h-1zM15 42h1v1h-1zM14 41h1v1h-1zM11 36h1v1h-1zM10 34h1v1h-1zM9 32h1v1h-1zM8 29h1v1h-1zM7 25h1v1h-1zM6 21h1v1h-1zM5 13h1v1h-1zM5 12h1v1h-1z"/>
<path fill="#a565a0" d="M60 59h2v1h-2zM51 58h2v1h-2zM44 57h2v1h-2zM40 56h1v1h-1zM36 55h1v1h-1zM33 54h1v1h-1zM30 53h1v1h-1zM27 52h1v1h-1zM23 50h1v1h-1zM20 48h1v1h-1zM19 47h1v1h-1zM16 44h1v1h-1zM12 38h1v1h-1zM8 30h1v1h-1zM7 26h1v1h-1zM6 22h1v1h-1zM5 14h1v1h-1z"/>
<path fill="#aa689e" d="M58 59h2v1h-2zM49 58h2v1h-2zM43 57h1v1h-1zM38 56h2v1h-2zM35 55h1v1h-1zM32 54h1v1h-1zM29 53h1v1h-1zM26 52h1v1h-1zM24 51h1v1h-1zM21 49h1v1h-1zM13 40h1v1h-1zM11 37h1v1h-1zM10 35h1v1h-1zM9 33h1v1h-1zM8 31h1v1h-1zM7 27h1v1h-1zM6 23h1v1h-1zM5 15h1v1h-1z"/>
<path fill="#af6b9c" d="M55 59h3v1h-3zM47 58h2v1h-2zM42 57h1v1h-1zM37 56h1v1h-1zM34 55h1v1h-1zM31 54h1v1h-1zM28 53h1v1h-1zM25 52h1v1h-1zM23 51h1v1h-1zM22 50h1v1h-1zM18 47h1v1h-1zM17 46h1v1h-1zM15 43h1v1h-1zM14 42h1v1h-1zM12 39h1v1h-1zM9 34h1v1h-1zM7 28h1v1h-1zM5 17h1v1h-1zM5 16h1v1h-1z"/>
<path fill="#b46d99" d="M62 60h2v1h-2zM52 59h3v1h-3zM45 58h2v1h-2zM40 57h2v1h-2zM36 56h1v1h-1zM33 55h1v1h-1zM30 54h1v1h-1zM27 53h1v1h-1zM20 49h1v1h-1zM19 48h1v1h-1zM16 45h1v1h-1zM13 41h1v1h-1zM10 36h1v1h-1zM8 32h1v1h-1zM7 29h1v1h-1zM6 24h1v1h-1zM5 18h1v1h-1zM4 5h1v1h-1zM4 4h1v1h-1zM4 3h1v1h-1zM4 2h1v1h-1zM4 1h1v1h-1zM4 0h1v1h-1z"/>
<path fill="#b97097" d="M59 60h3v1h-3zM50 59h2v1h-2zM44 58h1v1h-1zM39 57h1v1h-1zM35 56h1v1h-1zM32 55h1v1h-1zM28 54h2v1h-2zM26 53h1v1h-1zM24 52h1v1h-1zM22 51h1v1h-1zM21 50h1v1h-1zM15 44h1v1h-1zM11 38h1v1h-1zM9 35h1v1h-1zM8 33h1v1h-1zM7 30h1v1h-1zM6 25h1v1h-1zM5 19h1v1h-1zM4 7h1v1h-1zM4 6h1v1h-1z"/>
<path fill="#be7395" d="M57 60h2v1h-2zM48 59h2v1h-2zM43 58h1v1h-1zM38 57h1v1h-1zM34 56h1v1h-1zM31 55h1v1h-1zM27 54h1v1h-1zM25 53h1v1h-1zM23 52h1v1h-1zM19 49h1v1h-1zM18 48h1v1h-1zM17 47h1v1h-1zM16 46h1v1h-1zM14 43h1v1h-1zM12 40h1v1h-1zM10 37h1v1h-1zM6 26h1v1h-1zM5 20h1v1h-1zM4 9h1v1h-1zM4 8h1v1h-1z"/>
<path fill="#c37592" d="M63 61h1v1h-1zM54 60h3v1h-3zM46 59h2v1h-2zM41 58h2v1h-2zM36 57h2v1h-2zM33 56h1v1h-1zM30 55h1v1h-1zM24 53h1v1h-1zM20 50h1v1h-1zM15 45h1v1h-1zM13 42h1v1h-1zM11 39h1v1h-1zM10 38h1v1h-1zM9 36h1v1h-1zM8 34h1v1h-1zM7 31h1v1h-1zM6 27h1v1h-1zM5 22h1v1h-1zM5 21h1v1h-1zM4 12h1v1h-1zM4 11h1v1h-1zM4 10h1v1h-1z"/>
<path fill="#c87890" d="M61 61h2v1h-2zM51 60h3v1h-3zM45 59h1v1h-1zM40 58h1v1h-1zM35 57h1v1h-1zM32 56h1v1h-1zM28 55h2v1h-2zM26 54h1v1h-1zM22 52h1v1h-1zM21 51h1v1h-1zM18 49h1v1h-1zM17 48h1v1h-1zM14 44h1v1h-1zM12 41h1v1h-1zM9 37h1v1h-1zM8 35h1v1h-1zM7 32h1v1h-1zM6 28h1v1h-1zM5 23h1v1h-1zM4 13h1v1h-1z"/>
<path fill="#c97b8e" d="M59 61h2v1h-2zM49 60h2v1h-2zM43 59h2v1h-2zM38 58h2v1h-2zM34 57h1v1h-1zM31 56h1v1h-1zM27 55h1v1h-1zM25 54h1v1h-1zM23 53h1v1h-1zM19 50h1v1h-1zM16 47h1v1h-1zM15 46h1v1h-1zM13 43h1v1h-1zM11 40h1v1h-1zM10 39h1v1h-1zM7 33h1v1h-1zM6 29h1v1h-1zM4 15h1v1h-1zM4 14h1v1h-1z"/>
<path fill="#cb7e8c" d="M56 61h3v1h-3zM47 60h2v1h-2zM42 59h1v1h-1zM37 58h1v1h-1zM33 57h1v1h-1zM30 56h1v1h-1zM26 55h1v1h-1zM24 54h1v1h-1zM21 52h1v1h-1zM20 51h1v1h-1zM17 49h1v1h-1zM14 45h1v1h-1zM12 42h1v1h-1zM9 38h1v1h-1zM8 36h1v1h-1zM5 24h1v1h-1zM4 16h1v1h-1z"/>
<path fill="#cc808a" d="M63 62h1v1h-1zM53 61h3v1h-3zM45 60h2v1h-2zM40 59h2v1h-2zM36 58h1v1h-1zM32 57h1v1h-1zM28 56h2v1h-2zM22 53h1v1h-1zM19 51h1v1h-1zM18 50h1v1h-1zM16 48h1v1h-1zM13 44h1v1h-1zM11 41h1v1h-1zM10 40h1v1h-1zM7 34h1v1h-1zM6 30h1v1h-1zM5 25h1v1h-1zM4 17h1v1h-1z"/>
<path fill="#ce8388" d="M61 62h2v1h-2zM50 61h3v1h-3zM44 60h1v1h-1zM38 59h2v1h-2zM34 58h2v1h-2zM31 57h1v1h-1zM27 56h1v1h-1zM25 55h1v1h-1zM23 54h1v1h-1zM20 52h1v1h-1zM15 47h1v1h-1zM14 46h1v1h-1zM12 43h1v1h-1zM9 39h1v1h-1zM8 37h1v1h-1zM5 26h1v1h-1zM4 18h1v1h-1z"/>
<path fill="#cf8686" d="M58 62h3v1h-3zM48 61h2v1h-2zM42 60h2v1h-2zM37 59h1v1h-1zM33 58h1v1h-1zM29 57h2v1h-2zM26 56h1v1h-1zM24 55h1v1h-1zM22 54h1v1h-1zM21 53h1v1h-1zM18 51h1v1h-1zM17 50h1v1h-1zM16 49h1v1h-1zM13 45h1v1h-1zM11 42h1v1h-1zM10 41h1v1h-1zM6 31h1v1h-1zM4 19h1v1h-1zM3 1h1v1h-1zM3 0h1v1h-1z"/>
<path fill="#d08984" d="M55 62h3v1h-3zM46 61h2v1h-2zM40 60h2v1h-2zM36 59h1v1h-1zM32 58h1v1h-1zM28 57h1v1h-1zM25 56h1v1h-1zM23 55h1v1h-1zM20 53h1v1h-1zM19 52h1v1h-1zM15 48h1v1h-1zM14 47h1v1h-1zM12 44h1v1h-1zM9 40h1v1h-1zM8 38h1v1h-1zM7 35h1v1h-1zM5 27h1v1h-1zM3 2h1v1h-1z"/>
<path fill="#d28c83" d="M63 63h1v1h-1zM52 62h3v1h-3zM44 61h2v1h-2zM39 60h1v1h-1zM34 59h2v1h-2zM31 58h1v1h-1zM27 57h1v1h-1zM24 56h1v1h-1zM21 54h1v1h-1zM18 52h1v1h-1zM17 51h1v1h-1zM16 50h1v1h-1zM15 49h1v1h-1zM13 46h1v1h-1zM11 43h1v1h-1zM10 42h1v1h-1zM6 32h1v1h-1zM4 20h1v1h-1zM3 4h1v1h-1zM3 3h1v1h-1z"/>
<path fill="#d38f81" d="M60 63h3v1h-3zM49 62h3v1h-3zM43 61h1v1h-1zM37 60h2v1h-2zM33 59h1v1h-1zM29 58h2v1h-2zM26 57h1v1h-1zM22 55h1v1h-1zM19 53h1v1h-1zM14 48h1v1h-1zM12 45h1v1h-1zM11 44h1v1h-1zM9 41h1v1h-1zM7 36h1v1h-1zM5 28h1v1h-1zM4 21h1v1h-1zM3 6h1v1h-1zM3 5h1v1h-1z"/>
<path fill="#d5927f" d="M57 63h3v1h-3zM47 62h2v1h-2zM41 61h2v1h-2zM36 60h1v1h-1zM32 59h1v1h-1zM28 58h1v1h-1zM25 57h1v1h-1zM23 56h1v1h-1zM21 55h1v1h-1zM20 54h1v1h-1zM18 53h1v1h-1zM17 52h1v1h-1zM16 51h1v1h-1zM15 50h1v1h-1zM13 47h1v1h-1zM12 46h1v1h-1zM10 43h1v1h-1zM8 39h1v1h-1zM6 33h1v1h-1zM4 22h1v1h-1zM3 7h1v1h-1z"/>
<path fill="#d6947d" d="M54 63h3v1h-3zM45 62h2v1h-2zM39 61h2v1h-2zM34 60h2v1h-2zM31 59h1v1h-1zM27 58h1v1h-1zM24 57h1v1h-1zM22 56h1v1h-1zM19 54h1v1h-1zM14 49h1v1h-1zM11 45h1v1h-1zM9 42h1v1h-1zM5 29h1v1h-1zM3 9h1v1h-1zM3 8h1v1h-1z"/>
<path fill="#d8977b" d="M51 63h3v1h-3zM43 62h2v1h-2zM37 61h2v1h-2zM33 60h1v1h-1zM29 59h2v1h-2zM26 58h1v1h-1zM23 57h1v1h-1zM20 55h1v1h-1zM18 54h1v1h-1zM17 53h1v1h-1zM16 52h1v1h-1zM15 51h1v1h-1zM13 48h1v1h-1zM12 47h1v1h-1zM10 44h1v1h-1zM8 40h1v1h-1zM7 37h1v1h-1zM4 23h1v1h-1zM3 10h1v1h-1z"/>
<path fill="#d99a79" d="M60 64h4v1h-4zM48 63h3v1h-3zM41 62h2v1h-2zM36 61h1v1h-1zM32 60h1v1h-1zM28 59h1v1h-1zM25 58h1v1h-1zM21 56h1v1h-1zM19 55h1v1h-1zM14 50h1v1h-1zM13 49h1v1h-1zM11 46h1v1h-1zM6 34h1v1h-1zM5 30h1v1h-1zM4 24h1v1h-1zM3 12h1v1h-1zM3 11h1v1h-1z"/>
<path fill="#da9d77" d="M57 64h3v1h-3zM46 63h2v1h-2zM39 62h2v1h-2zM35 61h1v1h-1zM31 60h1v1h-1zM27 59h1v1h-1zM24 58h1v1h-1zM22 57h1v1h-1zM20 56h1v1h-1zM17 54h1v1h-1zM16 53h1v1h-1zM15 52h1v1h-1zM12 48h1v1h-1zM10 45h1v1h-1zM9 43h1v1h-1zM8 41h1v1h-1zM7 38h1v1h-1zM4 25h1v1h-1zM3 13h1v1h-1z"/>
<path fill="#dca075" d="M54 64h3v1h-3zM44 63h2v1h-2zM38 62h1v1h-1zM33 61h2v1h-2zM29 60h2v1h-2zM26 59h1v1h-1zM23 58h1v1h-1zM21 57h1v1h-1zM19 56h1v1h-1zM18 55h1v1h-1zM14 51h1v1h-1zM13 50h1v1h-1zM11 47h1v1h-1zM6 35h1v1h-1zM5 31h1v1h-1zM3 15h1v1h-1zM3 14h1v1h-1z"/>
<path fill="#dda273" d="M50 64h4v1h-4zM42 63h2v1h-2zM36 62h2v1h-2zM32 61h1v1h-1zM28 60h1v1h-1zM25 59h1v1h-1zM22 58h1v1h-1zM20 57h1v1h-1zM17 55h1v1h-1zM16 54h1v1h-1zM15 53h1v1h-1zM14 52h1v1h-1zM12 49h1v1h-1zM10 46h1v1h-1zM9 44h1v1h-1zM4 26h1v1h-1zM3 16h1v1h-1z"/>
<path fill="#dfa571" d="M62 65h2v1h-2zM48 64h2v1h-2zM40 63h2v1h-2zM35 62h1v1h-1zM31 61h1v1h-1zM27 60h1v1h-1zM24 59h1v1h-1zM18 56h1v1h-1zM13 51h1v1h-1zM11 48h1v1h-1zM8 42h1v1h-1zM7 39h1v1h-1zM6 36h1v1h-1zM5 32h1v1h-1zM4 27h1v1h-1zM3 17h1v1h-1z"/>
<path fill="#e0a86f" d="M58 65h4v1h-4zM46 64h2v1h-2zM39 63h1v1h-1zM34 62h1v1h-1zM29 61h2v1h-2zM26 60h1v1h-1zM23 59h1v1h-1zM21 58h1v1h-1zM19 57h1v1h-1zM17 56h1v1h-1zM16 55h1v1h-1zM15 54h1v1h-1zM14 53h1v1h-1zM12 50h1v1h-1zM10 47h1v1h-1zM9 45h1v1h-1zM3 19h1v1h-1zM3 18h1v1h-1zM2 1h1v1h-1zM2 0h1v1h-1z"/>
<path fill="#e2ab6e" d="M54 65h4v1h-4zM44 64h2v1h-2zM37 63h2v1h-2zM33 62h1v1h-1zM28 61h1v1h-1zM25 60h1v1h-1zM22 59h1v1h-1zM20 58h1v1h-1zM18 57h1v1h-1zM13 52h1v1h-1zM12 51h1v1h-1zM11 49h1v1h-1zM8 43h1v1h-1zM7 40h1v1h-1zM5 33h1v1h-1zM4 28h1v1h-1zM3 20h1v1h-1zM2 4h1v1h-1zM2 3h1v1h-1zM2 2h1v1h-1z"/>
<path fill="#e3ae6c" d="M51 65h3v1h-3zM42 64h2v1h-2zM36 63h1v1h-1zM31 62h2v1h-2zM27 61h1v1h-1zM24 60h1v1h-1zM21 59h1v1h-1zM19 58h1v1h-1zM16 56h1v1h-1zM15 55h1v1h-1zM14 54h1v1h-1zM11 50h1v1h-1zM10 48h1v1h-1zM9 46h1v1h-1zM6 37h1v1h-1zM4 29h1v1h-1zM3 21h1v1h-1zM2 7h1v1h-1zM2 6h1v1h-1zM2 5h1v1h-1z"/>
<path fill="#e4b16a" d="M48 65h3v1h-3zM40 64h2v1h-2zM34 63h2v1h-2zM30 62h1v1h-1zM26 61h1v1h-1zM23 60h1v1h-1zM20 59h1v1h-1zM18 58h1v1h-1zM17 57h1v1h-1zM13 53h1v1h-1zM12 52h1v1h-1zM5 34h1v1h-1zM4 30h1v1h-1zM3 22h1v1h-1zM2 9h1v1h-1zM2 8h1v1h-1z"/>
<path fill="#e6b468" d="M61 66h3v1h-3zM46 65h2v1h-2zM38 64h2v1h-2zM33 63h1v1h-1zM28 62h2v1h-2zM25 61h1v1h-1zM22 60h1v1h-1zM16 57h1v1h-1zM15 56h1v1h-1zM14 55h1v1h-1zM13 54h1v1h-1zM11 51h1v1h-1zM10 49h1v1h-1zM9 47h1v1h-1zM8 44h1v1h-1zM7 41h1v1h-1zM6 38h1v1h-1zM5 35h1v1h-1zM3 24h1v1h-1zM3 23h1v1h-1zM2 11h1v1h-1zM2 10h1v1h-1z"/>
<path fill="#e7b666" d="M57 66h4v1h-4zM44 65h2v1h-2zM37 64h1v1h-1zM32 63h1v1h-1zM27 62h1v1h-1zM24 61h1v1h-1zM21 60h1v1h-1zM19 59h1v1h-1zM17 58h1v1h-1zM12 53h1v1h-1zM4 31h1v1h-1zM3 25h1v1h-1zM2 13h1v1h-1zM2 12h1v1h-1z"/>
<path fill="#e9b964" d="M53 66h4v1h-4zM42 65h2v1h-2zM36 64h1v1h-1zM31 63h1v1h-1zM26 62h1v1h-1zM23 61h1v1h-1zM20 60h1v1h-1zM18 59h1v1h-1zM15 57h1v1h-1zM14 56h1v1h-1zM13 55h1v1h-1zM11 52h1v1h-1zM10 50h1v1h-1zM9 48h1v1h-1zM8 45h1v1h-1zM7 42h1v1h-1zM6 39h1v1h-1zM5 36h1v1h-1zM4 32h1v1h-1zM3 26h1v1h-1zM2 15h1v1h-1zM2 14h1v1h-1z"/>
<path fill="#eabc62" d="M50 66h3v1h-3zM40 65h2v1h-2zM34 64h2v1h-2zM29 63h2v1h-2zM25 62h1v1h-1zM22 61h1v1h-1zM19 60h1v1h-1zM16 58h1v1h-1zM12 54h1v1h-1zM8 46h1v1h-1zM6 40h1v1h-1zM5 37h1v1h-1zM4 33h1v1h-1zM3 27h1v1h-1zM2 17h1v1h-1zM2 16h1v1h-1z"/>
<path fill="#ebbf5f" d="M48 66h2v1h-2zM39 65h1v1h-1zM33 64h1v1h-1zM28 63h1v1h-1zM24 62h1v1h-1zM21 61h1v1h-1zM17 59h1v1h-1zM14 57h1v1h-1zM11 53h1v1h-1zM10 51h1v1h-1zM9 49h1v1h-1zM7 43h1v1h-1zM4 34h1v1h-1zM3 28h1v1h-1zM2 18h1v1h-1z"/>
<path fill="#ecc25c" d="M63 67h1v1h-1zM45 66h3v1h-3zM37 65h2v1h-2zM32 64h1v1h-1zM27 63h1v1h-1zM23 62h1v1h-1zM20 61h1v1h-1zM18 60h1v1h-1zM16 59h1v1h-1zM15 58h1v1h-1zM13 56h1v1h-1zM12 55h1v1h-1zM8 47h1v1h-1zM7 44h1v1h-1zM6 41h1v1h-1zM5 38h1v1h-1zM3 29h1v1h-1zM2 20h1v1h-1zM2 19h1v1h-1z"/>
<path fill="#edc45a" d="M58 67h5v1h-5zM43 66h2v1h-2zM36 65h1v1h-1zM30 64h2v1h-2zM25 63h2v1h-2zM22 62h1v1h-1zM19 61h1v1h-1zM17 60h1v1h-1zM11 54h1v1h-1zM10 52h1v1h-1zM9 50h1v1h-1zM6 42h1v1h-1zM5 39h1v1h-1zM4 35h1v1h-1zM3 30h1v1h-1zM2 21h1v1h-1z"/>
<path fill="#eec757" d="M54 67h4v1h-4zM41 66h2v1h-2zM34 65h2v1h-2zM29 64h1v1h-1zM24 63h1v1h-1zM21 62h1v1h-1zM18 61h1v1h-1zM15 59h1v1h-1zM14 58h1v1h-1zM13 57h1v1h-1zM12 56h1v1h-1zM10 53h1v1h-1zM9 51h1v1h-1zM8 48h1v1h-1zM7 45h1v1h-1zM5 40h1v1h-1zM4 36h1v1h-1zM3 31h1v1h-1zM2 22h1v1h-1z"/>
<path fill="#eeca54" d="M51 67h3v1h-3zM40 66h1v1h-1zM33 65h1v1h-1zM27 64h2v1h-2zM23 63h1v1h-1zM20 62h1v1h-1zM16 60h1v1h-1zM11 55h1v1h-1zM8 49h1v1h-1zM7 46h1v1h-1zM6 43h1v1h-1zM4 37h1v1h-1zM3 32h1v1h-1zM2 23h1v1h-1z"/>
<path fill="#efcd52" d="M48 67h3v1h-3zM38 66h2v1h-2zM32 65h1v1h-1zM26 64h1v1h-1zM22 63h1v1h-1zM19 62h1v1h-1zM17 61h1v1h-1zM14 59h1v1h-1zM13 58h1v1h-1zM12 57h1v1h-1zM10 54h1v1h-1zM9 52h1v1h-1zM6 44h1v1h-1zM5 41h1v1h-1zM4 38h1v1h-1zM3 33h1v1h-1zM2 24h1v1h-1zM1 0h1v1h-1z"/>
<path fill="#f0d04f" d="M46 67h2v1h-2zM36 66h2v1h-2zM30 65h2v1h-2zM25 64h1v1h-1zM21 63h1v1h-1zM18 62h1v1h-1zM16 61h1v1h-1zM15 60h1v1h-1zM11 56h1v1h-1zM8 50h1v1h-1zM7 47h1v1h-1zM6 45h1v1h-1zM5 42h1v1h-1zM4 39h1v1h-1zM3 34h1v1h-1zM2 25h1v1h-1zM1 1h1v1h-1z"/>
<path fill="#f1d24c" d="M61 68h3v1h-3zM43 67h3v1h-3zM35 66h1v1h-1zM29 65h1v1h-1zM24 64h1v1h-1zM20 63h1v1h-1zM14 60h1v1h-1zM13 59h1v1h-1zM12 58h1v1h-1zM10 55h1v1h-1zM9 53h1v1h-1zM8 51h1v1h-1zM7 48h1v1h-1zM6 46h1v1h-1zM5 43h1v1h-1zM4 40h1v1h-1zM3 35h1v1h-1zM2 26h1v1h-1zM1 2h1v1h-1z"/>
<path fill="#f2d549" d="M57 68h4v1h-4zM41 67h2v1h-2zM33 66h2v1h-2zM27 65h2v1h-2zM23 64h1v1h-1zM19 63h1v1h-1zM17 62h1v1h-1zM15 61h1v1h-1zM11 57h1v1h-1zM10 56h1v1h-1zM9 54h1v1h-1zM8 52h1v1h-1zM7 49h1v1h-1zM5 44h1v1h-1zM3 36h1v1h-1zM2 27h1v1h-1zM1 4h1v1h-1zM1 3h1v1h-1z"/>
<path fill="#f3d847" d="M53 68h4v1h-4zM40 67h1v1h-1zM32 66h1v1h-1zM26 65h1v1h-1zM22 64h1v1h-1zM18 63h1v1h-1zM16 62h1v1h-1zM13 60h1v1h-1zM12 59h1v1h-1zM7 50h1v1h-1zM6 47h1v1h-1zM5 45h1v1h-1zM4 41h1v1h-1zM3 37h1v1h-1zM2 28h1v1h-1zM1 5h1v1h-1z"/>
<path fill="#f4db44" d="M51 68h2v1h-2zM38 67h2v1h-2zM31 66h1v1h-1zM25 65h1v1h-1zM21 64h1v1h-1zM14 61h1v1h-1zM11 58h1v1h-1zM10 57h1v1h-1zM9 55h1v1h-1zM8 53h1v1h-1zM7 51h1v1h-1zM6 48h1v1h-1zM4 42h1v1h-1zM3 38h1v1h-1zM2 29h1v1h-1zM1 7h1v1h-1zM1 6h1v1h-1z"/>
<path fill="#f4de41" d="M48 68h3v1h-3zM36 67h2v1h-2zM29 66h2v1h-2zM24 65h1v1h-1zM20 64h1v1h-1zM17 63h1v1h-1zM15 62h1v1h-1zM12 60h1v1h-1zM9 56h1v1h-1zM8 54h1v1h-1zM6 49h1v1h-1zM5 46h1v1h-1zM4 43h1v1h-1zM3 39h1v1h-1zM2 30h1v1h-1zM1 8h1v1h-1z"/>
<path fill="#f5e03e" d="M46 68h2v1h-2zM35 67h1v1h-1zM28 66h1v1h-1zM23 65h1v1h-1zM19 64h1v1h-1zM16 63h1v1h-1zM14 62h1v1h-1zM13 61h1v1h-1zM11 59h1v1h-1zM10 58h1v1h-1zM8 55h1v1h-1zM7 52h1v1h-1zM6 50h1v1h-1zM5 47h1v1h-1zM4 44h1v1h-1zM2 31h1v1h-1zM1 9h1v1h-1z"/>
<path fill="#f6e33b" d="M43 68h3v1h-3zM33 67h2v1h-2zM27 66h1v1h-1zM22 65h1v1h-1zM18 64h1v1h-1zM15 63h1v1h-1zM9 57h1v1h-1zM7 53h1v1h-1zM6 51h1v1h-1zM5 48h1v1h-1zM4 45h1v1h-1zM3 40h1v1h-1zM2 32h1v1h-1zM1 11h1v1h-1zM1 10h1v1h-1z"/>
<path fill="#f7e639" d="M63 69h1v1h-1zM41 68h2v1h-2zM32 67h1v1h-1zM25 66h2v1h-2zM20 65h2v1h-2zM17 64h1v1h-1zM13 62h1v1h-1zM12 61h1v1h-1zM11 60h1v1h-1zM10 59h1v1h-1zM9 58h1v1h-1zM8 56h1v1h-1zM7 54h1v1h-1zM6 52h1v1h-1zM5 49h1v1h-1zM4 46h1v1h-1zM3 41h1v1h-1zM2 33h1v1h-1zM1 12h1v1h-1z"/>
<path fill="#f8e936" d="M58 69h5v1h-5zM39 68h2v1h-2zM30 67h2v1h-2zM24 66h1v1h-1zM19 65h1v1h-1zM16 64h1v1h-1zM14 63h1v1h-1zM8 57h1v1h-1zM7 55h1v1h-1zM6 53h1v1h-1zM5 50h1v1h-1zM4 47h1v1h-1zM3 42h1v1h-1zM2 34h1v1h-1zM1 14h1v1h-1zM1 13h1v1h-1z"/>
<path fill="#f9eb33" d="M55 69h3v1h-3zM38 68h1v1h-1zM29 67h1v1h-1zM23 66h1v1h-1zM18 65h1v1h-1zM15 64h1v1h-1zM12 62h1v1h-1zM11 61h1v1h-1zM10 60h1v1h-1zM9 59h1v1h-1zM7 56h1v1h-1zM5 51h1v1h-1zM3 43h1v1h-1zM2 35h1v1h-1zM1 15h1v1h-1z"/>
<path fill="#faee30" d="M52 69h3v1h-3zM36 68h2v1h-2zM28 67h1v1h-1zM22 66h1v1h-1zM17 65h1v1h-1zM13 63h1v1h-1zM8 58h1v1h-1zM6 54h1v1h-1zM4 48h1v1h-1zM3 44h1v1h-1zM2 36h1v1h-1zM1 17h1v1h-1zM1 16h1v1h-1z"/>
<path fill="#fbf12e" d="M49 69h3v1h-3zM34 68h2v1h-2zM26 67h2v1h-2zM20 66h2v1h-2zM16 65h1v1h-1zM14 64h1v1h-1zM11 62h1v1h-1zM10 61h1v1h-1zM9 60h1v1h-1zM8 59h1v1h-1zM7 57h1v1h-1zM6 55h1v1h-1zM5 52h1v1h-1zM4 49h1v1h-1zM3 45h1v1h-1zM2 37h1v1h-1zM1 18h1v1h-1z"/>
<path fill="#fcf42b" d="M47 69h2v1h-2zM33 68h1v1h-1zM25 67h1v1h-1zM19 66h1v1h-1zM12 63h1v1h-1zM7 58h1v1h-1zM6 56h1v1h-1zM5 53h1v1h-1zM4 50h1v1h-1zM3 46h1v1h-1zM2 39h1v1h-1zM2 38h1v1h-1zM1 20h1v1h-1zM1 19h1v1h-1z"/>
<path fill="#fcf728" d="M44 69h3v1h-3zM31 68h2v1h-2zM23 67h2v1h-2zM18 66h1v1h-1zM15 65h1v1h-1zM13 64h1v1h-1zM11 63h1v1h-1zM10 62h1v1h-1zM9 61h1v1h-1zM8 60h1v1h-1zM6 57h1v1h-1zM5 54h1v1h-1zM4 51h1v1h-1zM3 47h1v1h-1zM2 40h1v1h-1zM1 21h1v1h-1z"/>
<path fill="#fdf926" d="M42 69h2v1h-2zM30 68h1v1h-1zM22 67h1v1h-1zM17 66h1v1h-1zM14 65h1v1h-1zM12 64h1v1h-1zM7 59h1v1h-1zM5 55h1v1h-1zM4 52h1v1h-1zM2 41h1v1h-1zM1 23h1v1h-1zM1 22h1v1h-1z"/>
<path fill="#fefc23" d="M40 69h2v1h-2zM28 68h2v1h-2zM21 67h1v1h-1zM16 66h1v1h-1zM13 65h1v1h-1zM10 63h1v1h-1zM9 62h1v1h-1zM8 61h1v1h-1zM7 60h1v1h-1zM6 58h1v1h-1zM3 48h1v1h-1zM2 42h1v1h-1zM1 25h1v1h-1zM1 24h1v1h-1z"/>
<path fill="#ffff20" d="M0 71h64v1h-64zM0 70h64v1h-64zM0 69h40v1h-40zM0 68h28v1h-28zM0 67h21v1h-21zM0 66h16v1h-16zM0 65h13v1h-13zM0 64h12v1h-12zM0 63h10v1h-10zM0 62h9v1h-9zM0 61h8v1h-8zM0 60h7v1h-7zM0 59h7v1h-7zM0 58h6v1h-6zM0 57h6v1h-6zM0 56h6v1h-6zM0 55h5v1h-5zM0 54h5v1h-5zM0 53h5v1h-5zM0 52h4v1h-4zM0 51h4v1h-4zM0 50h4v1h-4zM0 49h4v1h-4zM0 48h3v1h-3zM0 47h3v1h-3zM0 46h3v1h-3zM0 45h3v1h-3zM0 44h3v1h-3zM0 43h3v1h-3zM0 42h2v1h-2zM0 41h2v1h-2zM0 40h2v1h-2zM0 39h2v1h-2zM0 38h2v1h-2zM0 37h2v1h-2zM0 36h2v1h-2zM0 35h2v1h-2zM0 34h2v1h-2zM0 33h2v1h-2zM0 32h2v1h-2zM0 31h2v1h-2zM0 30h2v1h-2zM0 29h2v1h-2zM0 28h2v1h-2zM0 27h2v1h-2zM0 26h2v1h-2zM0 25h1v1h-1zM0 24h1v1h-1zM0 23h1v1h-1zM0 22h1v1h-1zM0 21h1v1h-1zM0 20h1v1h-1zM0 19h1v1h-1zM0 18h1v1h-1zM0 17h1v1h-1zM0 16h1v1h-1zM0 15h1v1h-1zM0 14h1v1h-1zM0 13h1v1h-1zM0 12h1v1h-1zM0 11h1v1h-1zM0 10h1v1h-1zM0 9h1v1h-1zM0 8h1v1h-1zM0 7h1v1h-1zM0 6h1v1h-1zM0 5h1v1h-1zM0 4h1v1h-1zM0 3h1v1h-1zM0 2h1v1h-1zM0 1h1v1h-1zM0 0h1v1h-1z"/>
</g>
<rect x="984" y="123.7" width="628.5" height="709.7" fill="none" stroke="#222" stroke-width="1"/>
<line x1="988.91" y1="833.4" x2="988.91" y2="838.4" stroke="#222" stroke-width="1"/>
<text x="988.91" y="868.9" font-size="33.3" text-anchor="middle">1</text>
<line x1="1136.21" y1="833.4" x2="1136.21" y2="838.4" stroke="#222" stroke-width="1"/>
<text x="1136.21" y="868.9" font-size="33.3" text-anchor="middle">15</text>
<line x1="1283.52" y1="833.4" x2="1283.52" y2="838.4" stroke="#222" stroke-width="1"/>
<text x="1283.52" y="868.9" font-size="33.3" text-anchor="middle">30</text>
<line x1="1430.82" y1="833.4" x2="1430.82" y2="838.4" stroke="#222" stroke-width="1"/>
<text x="1430.82" y="868.9" font-size="33.3" text-anchor="middle">45</text>
<line x1="1578.13" y1="833.4" x2="1578.13" y2="838.4" stroke="#222" stroke-width="1"/>
<text x="1578.13" y="868.9" font-size="33.3" text-anchor="middle">60</text>
<line x1="979" y1="818.81" x2="984" y2="818.81" stroke="#222" stroke-width="1"/>
<text x="974.5" y="832.41" font-size="33.3" text-anchor="end">1</text>
<line x1="979" y1="730.1" x2="984" y2="730.1" stroke="#222" stroke-width="1"/>
<text x="974.5" y="743.7" font-size="33.3" text-anchor="end">10</text>
<line x1="979" y1="513.25" x2="984" y2="513.25" stroke="#222" stroke-width="1"/>
<text x="974.5" y="526.85" font-size="33.3" text-anchor="end">100</text>
<line x1="979" y1="276.68" x2="984" y2="276.68" stroke="#222" stroke-width="1"/>
<text x="974.5" y="290.28" font-size="33.3" text-anchor="end">1k</text>
<text x="1026.6" y="911.7" font-size="39.5" text-anchor="start">ResNet18 Width Parameter</text>
<text x="1175.6" y="117.3" font-size="46" text-anchor="start">Train Error</text>
<linearGradient id="gB" x1="0" y1="1" x2="0" y2="0">
<stop offset="0" stop-color="#0a0056"/>
<stop offset="0.25" stop-color="#5038c8"/>
<stop offset="0.5" stop-color="#c87890"/>
<stop offset="0.75" stop-color="#eabc62"/>
<stop offset="1" stop-color="#ffff20"/>
</linearGradient>
<rect x="1630.3" y="123.7" width="44.7" height="709.7" fill="url(#gB)" stroke="#222" stroke-width="1"/>
<line x1="1675" y1="827.34" x2="1679.5" y2="827.34" stroke="#222" stroke-width="1"/>
<text x="1683.2" y="841.54" font-size="33.3" text-anchor="start">0.01</text>
<line x1="1675" y1="658.11" x2="1679.5" y2="658.11" stroke="#222" stroke-width="1"/>
<text x="1683.2" y="672.31" font-size="33.3" text-anchor="start">0.20</text>
<line x1="1675" y1="479.98" x2="1679.5" y2="479.98" stroke="#222" stroke-width="1"/>
<text x="1683.2" y="494.18" font-size="33.3" text-anchor="start">0.40</text>
<line x1="1675" y1="301.84" x2="1679.5" y2="301.84" stroke="#222" stroke-width="1"/>
<text x="1683.2" y="316.04" font-size="33.3" text-anchor="start">0.60</text>
<line x1="1675" y1="123.7" x2="1679.5" y2="123.7" stroke="#222" stroke-width="1"/>
<text x="1683.2" y="137.9" font-size="33.3" text-anchor="start">0.80</text>
<text transform="translate(900,483.9) rotate(-90)" font-size="39.5" text-anchor="middle">Epochs</text>
<rect x="201.5" y="1017.4" width="1267.9" height="635.2" fill="#fff"/>
<g fill="none" stroke-width="1.5" stroke-opacity="0.33" stroke-linejoin="round">
<polyline stroke="#fde725" points="258.7,1051.6 277.0,1054.0 295.3,1055.8 313.6,1065.8 331.9,1066.5 350.2,1080.2 368.5,1081.7 386.8,1081.1 405.1,1085.8 423.4,1095.2 441.7,1103.1 460.0,1114.5 478.3,1114.3 496.6,1113.9 514.9,1123.9 533.2,1118.5 551.5,1120.6 569.8,1123.0 588.1,1129.8 606.4,1128.1 624.7,1130.3 643.0,1140.9 661.3,1134.6 679.6,1144.9 697.8,1142.5 716.1,1152.2 734.4,1141.4 752.7,1142.0 771.0,1153.1 789.3,1158.6 807.6,1143.8 825.9,1153.8 844.2,1166.7 862.5,1152.0 880.8,1171.9 899.1,1172.2 917.4,1162.1 935.7,1154.9 954.0,1168.2 972.3,1177.9 990.6,1175.0 1008.9,1176.3 1027.2,1176.6 1045.5,1172.8 1063.8,1176.0 1082.1,1175.4 1100.4,1181.4 1118.7,1179.6 1137.0,1172.6 1155.3,1181.7 1173.6,1193.1 1191.9,1189.0 1210.2,1185.5 1228.5,1198.5 1246.8,1202.5 1265.1,1186.6 1283.4,1195.1 1301.7,1201.5 1320.0,1193.9 1338.3,1201.0 1356.6,1206.5 1374.9,1216.9 1393.2,1200.4 1411.5,1202.3"/>
<polyline stroke="#e5e419" points="258.7,1052.2 277.0,1054.8 295.3,1062.7 313.6,1072.2 331.9,1076.3 350.2,1090.2 368.5,1091.7 386.8,1090.3 405.1,1100.6 423.4,1112.4 441.7,1124.3 460.0,1129.0 478.3,1135.9 496.6,1138.7 514.9,1149.9 533.2,1154.9 551.5,1148.3 569.8,1148.0 588.1,1154.2 606.4,1154.6 624.7,1159.2 643.0,1166.1 661.3,1166.3 679.6,1179.4 697.8,1174.8 716.1,1183.9 734.4,1177.2 752.7,1176.0 771.0,1181.0 789.3,1183.5 807.6,1183.3 825.9,1192.2 844.2,1196.9 862.5,1183.3 880.8,1204.5 899.1,1203.3 917.4,1198.2 935.7,1193.1 954.0,1200.4 972.3,1212.5 990.6,1210.2 1008.9,1207.1 1027.2,1210.3 1045.5,1206.0 1063.8,1207.5 1082.1,1208.1 1100.4,1214.5 1118.7,1209.0 1137.0,1205.9 1155.3,1217.3 1173.6,1222.5 1191.9,1222.8 1210.2,1219.2 1228.5,1228.4 1246.8,1227.9 1265.1,1209.7 1283.4,1238.0 1301.7,1240.7 1320.0,1234.6 1338.3,1240.1 1356.6,1242.2 1374.9,1253.9 1393.2,1243.7 1411.5,1243.3"/>
<polyline stroke="#d0e11c" points="258.7,1054.5 277.0,1057.8 295.3,1067.2 313.6,1078.5 331.9,1081.8 350.2,1094.1 368.5,1095.6 386.8,1098.3 405.1,1112.5 423.4,1133.1 441.7,1140.9 460.0,1141.3 478.3,1150.9 496.6,1156.1 514.9,1165.2 533.2,1167.7 551.5,1166.7 569.8,1169.8 588.1,1177.1 606.4,1176.1 624.7,1176.5 643.0,1193.5 661.3,1191.0 679.6,1198.0 697.8,1192.9 716.1,1205.9 734.4,1203.6 752.7,1202.0 771.0,1204.9 789.3,1207.2 807.6,1205.3 825.9,1214.0 844.2,1222.5 862.5,1209.8 880.8,1227.5 899.1,1224.2 917.4,1220.0 935.7,1218.1 954.0,1226.2 972.3,1236.3 990.6,1233.3 1008.9,1233.3 1027.2,1236.5 1045.5,1236.8 1063.8,1236.4 1082.1,1240.1 1100.4,1242.6 1118.7,1237.8 1137.0,1232.5 1155.3,1240.6 1173.6,1252.4 1191.9,1249.0 1210.2,1248.1 1228.5,1257.5 1246.8,1255.7 1265.1,1241.9 1283.4,1263.5 1301.7,1268.2 1320.0,1265.9 1338.3,1270.8 1356.6,1269.2 1374.9,1282.5 1393.2,1273.8 1411.5,1275.6"/>
<polyline stroke="#c0df25" points="258.7,1056.8 277.0,1060.4 295.3,1071.7 313.6,1081.8 331.9,1086.2 350.2,1098.8 368.5,1104.9 386.8,1108.8 405.1,1122.2 423.4,1142.7 441.7,1153.6 460.0,1156.4 478.3,1165.3 496.6,1172.3 514.9,1178.6 533.2,1182.4 551.5,1183.1 569.8,1181.7 588.1,1190.0 606.4,1187.6 624.7,1196.4 643.0,1210.7 661.3,1213.5 679.6,1217.5 697.8,1215.9 716.1,1219.2 734.4,1216.9 752.7,1225.7 771.0,1226.5 789.3,1225.9 807.6,1227.2 825.9,1235.4 844.2,1242.7 862.5,1229.2 880.8,1248.0 899.1,1247.7 917.4,1243.9 935.7,1239.4 954.0,1246.3 972.3,1259.9 990.6,1255.7 1008.9,1260.2 1027.2,1264.4 1045.5,1260.1 1063.8,1263.7 1082.1,1259.6 1100.4,1267.8 1118.7,1261.5 1137.0,1261.6 1155.3,1269.0 1173.6,1277.1 1191.9,1277.0 1210.2,1278.0 1228.5,1284.2 1246.8,1286.2 1265.1,1273.8 1283.4,1284.6 1301.7,1294.3 1320.0,1290.6 1338.3,1290.7 1356.6,1291.8 1374.9,1303.8 1393.2,1292.3 1411.5,1297.6"/>
<polyline stroke="#b0dd2f" points="258.7,1058.7 277.0,1063.4 295.3,1075.0 313.6,1084.7 331.9,1091.5 350.2,1104.8 368.5,1114.2 386.8,1117.7 405.1,1132.2 423.4,1152.9 441.7,1162.7 460.0,1165.7 478.3,1174.5 496.6,1185.1 514.9,1184.5 533.2,1193.8 551.5,1189.3 569.8,1196.5 588.1,1208.9 606.4,1204.9 624.7,1212.6 643.0,1222.6 661.3,1227.4 679.6,1232.4 697.8,1236.5 716.1,1237.0 734.4,1237.7 752.7,1245.4 771.0,1242.0 789.3,1245.0 807.6,1242.8 825.9,1256.9 844.2,1258.3 862.5,1248.9 880.8,1263.0 899.1,1266.0 917.4,1258.9 935.7,1255.0 954.0,1270.8 972.3,1280.3 990.6,1272.1 1008.9,1283.1 1027.2,1281.2 1045.5,1278.7 1063.8,1283.4 1082.1,1284.9 1100.4,1286.3 1118.7,1285.6 1137.0,1279.8 1155.3,1291.9 1173.6,1299.1 1191.9,1295.4 1210.2,1299.6 1228.5,1305.9 1246.8,1308.4 1265.1,1302.6 1283.4,1304.6 1301.7,1313.5 1320.0,1309.4 1338.3,1308.9 1356.6,1310.7 1374.9,1318.3 1393.2,1308.6 1411.5,1311.9"/>
<polyline stroke="#a5db36" points="258.7,1059.9 277.0,1066.1 295.3,1078.5 313.6,1087.2 331.9,1095.9 350.2,1112.0 368.5,1118.0 386.8,1127.6 405.1,1141.2 423.4,1155.4 441.7,1169.5 460.0,1171.2 478.3,1181.5 496.6,1191.0 514.9,1198.8 533.2,1206.7 551.5,1202.9 569.8,1210.4 588.1,1218.7 606.4,1222.6 624.7,1228.3 643.0,1240.0 661.3,1244.9 679.6,1243.7 697.8,1253.4 716.1,1252.4 734.4,1251.8 752.7,1258.9 771.0,1259.9 789.3,1256.2 807.6,1257.7 825.9,1267.8 844.2,1275.4 862.5,1265.9 880.8,1281.0 899.1,1279.9 917.4,1277.5 935.7,1272.1 954.0,1284.4 972.3,1296.5 990.6,1286.6 1008.9,1294.6 1027.2,1297.7 1045.5,1298.4 1063.8,1300.9 1082.1,1305.3 1100.4,1303.0 1118.7,1301.1 1137.0,1299.6 1155.3,1311.7 1173.6,1312.6 1191.9,1313.1 1210.2,1317.4 1228.5,1320.1 1246.8,1322.6 1265.1,1316.9 1283.4,1320.7 1301.7,1332.2 1320.0,1324.8 1338.3,1329.4 1356.6,1324.4 1374.9,1334.4 1393.2,1326.2 1411.5,1330.1"/>
<polyline stroke="#98d83e" points="258.7,1063.0 277.0,1068.9 295.3,1083.4 313.6,1090.4 331.9,1102.7 350.2,1116.3 368.5,1124.5 386.8,1136.2 405.1,1147.5 423.4,1164.1 441.7,1176.6 460.0,1180.2 478.3,1191.3 496.6,1198.9 514.9,1211.6 533.2,1219.2 551.5,1215.5 569.8,1227.0 588.1,1233.9 606.4,1237.4 624.7,1240.4 643.0,1257.4 661.3,1258.1 679.6,1261.7 697.8,1267.2 716.1,1263.6 734.4,1264.2 752.7,1273.8 771.0,1272.5 789.3,1269.4 807.6,1272.4 825.9,1281.6 844.2,1289.6 862.5,1280.7 880.8,1294.2 899.1,1296.2 917.4,1290.4 935.7,1288.6 954.0,1301.8 972.3,1313.9 990.6,1305.3 1008.9,1307.2 1027.2,1314.9 1045.5,1316.5 1063.8,1314.2 1082.1,1319.5 1100.4,1318.7 1118.7,1318.8 1137.0,1315.4 1155.3,1324.6 1173.6,1326.3 1191.9,1326.9 1210.2,1331.6 1228.5,1333.8 1246.8,1337.1 1265.1,1328.2 1283.4,1335.0 1301.7,1337.9 1320.0,1339.1 1338.3,1340.5 1356.6,1338.1 1374.9,1346.6 1393.2,1339.8 1411.5,1341.6"/>
<polyline stroke="#90d743" points="258.7,1065.3 277.0,1071.2 295.3,1084.9 313.6,1094.1 331.9,1107.9 350.2,1124.9 368.5,1130.0 386.8,1142.6 405.1,1155.4 423.4,1173.0 441.7,1182.4 460.0,1185.3 478.3,1203.9 496.6,1216.2 514.9,1223.9 533.2,1235.5 551.5,1230.6 569.8,1238.0 588.1,1248.8 606.4,1247.7 624.7,1252.5 643.0,1271.3 661.3,1271.4 679.6,1272.3 697.8,1277.7 716.1,1279.8 734.4,1275.1 752.7,1288.0 771.0,1278.9 789.3,1283.2 807.6,1282.8 825.9,1298.0 844.2,1299.7 862.5,1291.2 880.8,1306.1 899.1,1307.7 917.4,1304.0 935.7,1303.4 954.0,1318.1 972.3,1326.4 990.6,1318.0 1008.9,1321.7 1027.2,1327.5 1045.5,1326.5 1063.8,1330.1 1082.1,1330.9 1100.4,1330.1 1118.7,1329.7 1137.0,1327.6 1155.3,1337.4 1173.6,1340.5 1191.9,1339.5 1210.2,1340.8 1228.5,1344.7 1246.8,1347.7 1265.1,1340.1 1283.4,1345.8 1301.7,1347.1 1320.0,1346.3 1338.3,1346.6 1356.6,1349.7 1374.9,1356.6 1393.2,1347.2 1411.5,1351.3"/>
<polyline stroke="#86d549" points="258.7,1068.3 277.0,1074.6 295.3,1087.7 313.6,1101.5 331.9,1114.9 350.2,1129.8 368.5,1138.2 386.8,1149.7 405.1,1163.0 423.4,1180.1 441.7,1189.6 460.0,1196.6 478.3,1216.3 496.6,1229.5 514.9,1240.0 533.2,1246.0 551.5,1240.1 569.8,1249.5 588.1,1258.4 606.4,1257.9 624.7,1263.6 643.0,1280.2 661.3,1280.6 679.6,1286.1 697.8,1287.6 716.1,1291.8 734.4,1288.2 752.7,1296.8 771.0,1297.4 789.3,1300.4 807.6,1299.5 825.9,1307.5 844.2,1314.7 862.5,1308.9 880.8,1319.3 899.1,1322.5 917.4,1318.5 935.7,1320.1 954.0,1326.9 972.3,1336.6 990.6,1328.3 1008.9,1333.3 1027.2,1338.4 1045.5,1335.0 1063.8,1338.3 1082.1,1344.1 1100.4,1341.0 1118.7,1338.2 1137.0,1337.6 1155.3,1342.8 1173.6,1349.5 1191.9,1347.3 1210.2,1347.1 1228.5,1354.1 1246.8,1355.2 1265.1,1348.6 1283.4,1352.0 1301.7,1353.2 1320.0,1352.0 1338.3,1356.4 1356.6,1357.2 1374.9,1362.2 1393.2,1354.8 1411.5,1357.0"/>
<polyline stroke="#7fd34e" points="258.7,1070.8 277.0,1079.5 295.3,1090.3 313.6,1107.0 331.9,1121.0 350.2,1136.1 368.5,1142.9 386.8,1157.0 405.1,1168.0 423.4,1186.1 441.7,1195.0 460.0,1207.5 478.3,1225.4 496.6,1239.5 514.9,1244.7 533.2,1255.4 551.5,1256.4 569.8,1260.5 588.1,1270.8 606.4,1270.6 624.7,1276.2 643.0,1290.4 661.3,1294.3 679.6,1299.0 697.8,1299.0 716.1,1304.6 734.4,1299.1 752.7,1309.8 771.0,1307.8 789.3,1310.7 807.6,1306.3 825.9,1317.5 844.2,1322.8 862.5,1318.7 880.8,1328.3 899.1,1332.7 917.4,1332.5 935.7,1328.9 954.0,1342.0 972.3,1344.3 990.6,1339.2 1008.9,1339.6 1027.2,1347.7 1045.5,1342.7 1063.8,1347.5 1082.1,1349.5 1100.4,1350.8 1118.7,1347.3 1137.0,1343.8 1155.3,1350.1 1173.6,1354.6 1191.9,1354.9 1210.2,1354.5 1228.5,1357.9 1246.8,1363.2 1265.1,1356.8 1283.4,1362.4 1301.7,1361.1 1320.0,1359.8 1338.3,1358.4 1356.6,1360.3 1374.9,1368.2 1393.2,1358.5 1411.5,1359.2"/>
<polyline stroke="#77d153" points="258.7,1072.8 277.0,1081.1 295.3,1091.3 313.6,1111.4 331.9,1125.9 350.2,1141.4 368.5,1150.0 386.8,1166.2 405.1,1175.1 423.4,1192.5 441.7,1207.5 460.0,1217.5 478.3,1236.9 496.6,1250.0 514.9,1256.6 533.2,1268.1 551.5,1267.7 569.8,1271.5 588.1,1281.8 606.4,1279.5 624.7,1286.6 643.0,1299.0 661.3,1305.2 679.6,1308.2 697.8,1313.3 716.1,1315.3 734.4,1310.5 752.7,1320.0 771.0,1318.9 789.3,1320.9 807.6,1322.1 825.9,1326.9 844.2,1331.3 862.5,1328.6 880.8,1341.5 899.1,1346.1 917.4,1343.4 935.7,1335.7 954.0,1349.7 972.3,1350.9 990.6,1348.9 1008.9,1352.7 1027.2,1355.2 1045.5,1352.8 1063.8,1354.9 1082.1,1357.7 1100.4,1357.6 1118.7,1356.1 1137.0,1351.3 1155.3,1356.4 1173.6,1363.3 1191.9,1359.8 1210.2,1359.0 1228.5,1364.3 1246.8,1367.9 1265.1,1362.6 1283.4,1365.6 1301.7,1365.4 1320.0,1365.2 1338.3,1366.4 1356.6,1368.5 1374.9,1374.9 1393.2,1365.9 1411.5,1365.1"/>
<polyline stroke="#70cf57" points="258.7,1076.3 277.0,1083.9 295.3,1096.9 313.6,1118.3 331.9,1130.8 350.2,1149.8 368.5,1156.0 386.8,1173.7 405.1,1184.8 423.4,1204.1 441.7,1218.9 460.0,1232.3 478.3,1247.7 496.6,1255.7 514.9,1271.2 533.2,1274.7 551.5,1280.6 569.8,1285.1 588.1,1289.9 606.4,1294.2 624.7,1294.1 643.0,1306.8 661.3,1314.6 679.6,1315.7 697.8,1320.4 716.1,1326.1 734.4,1324.4 752.7,1332.3 771.0,1331.3 789.3,1334.0 807.6,1327.3 825.9,1337.3 844.2,1341.8 862.5,1338.4 880.8,1347.5 899.1,1352.0 917.4,1353.5 935.7,1345.9 954.0,1355.6 972.3,1359.0 990.6,1355.6 1008.9,1361.0 1027.2,1362.4 1045.5,1357.8 1063.8,1361.8 1082.1,1364.1 1100.4,1360.5 1118.7,1360.2 1137.0,1358.8 1155.3,1361.7 1173.6,1367.8 1191.9,1364.4 1210.2,1363.8 1228.5,1367.4 1246.8,1374.9 1265.1,1365.9 1283.4,1372.3 1301.7,1369.5 1320.0,1369.3 1338.3,1370.8 1356.6,1372.6 1374.9,1379.3 1393.2,1367.3 1411.5,1369.1"/>
<polyline stroke="#69cd5b" points="258.7,1078.4 277.0,1086.8 295.3,1100.7 313.6,1123.8 331.9,1137.9 350.2,1155.2 368.5,1164.3 386.8,1181.0 405.1,1194.0 423.4,1212.3 441.7,1228.5 460.0,1243.3 478.3,1257.5 496.6,1264.7 514.9,1277.0 533.2,1281.1 551.5,1286.4 569.8,1290.4 588.1,1300.4 606.4,1300.6 624.7,1301.3 643.0,1313.4 661.3,1321.3 679.6,1327.0 697.8,1325.7 716.1,1333.2 734.4,1330.9 752.7,1336.4 771.0,1338.3 789.3,1339.6 807.6,1336.4 825.9,1349.3 844.2,1350.6 862.5,1346.7 880.8,1355.6 899.1,1361.6 917.4,1357.9 935.7,1351.9 954.0,1364.2 972.3,1362.6 990.6,1361.3 1008.9,1366.0 1027.2,1369.4 1045.5,1365.4 1063.8,1365.1 1082.1,1367.3 1100.4,1365.0 1118.7,1365.8 1137.0,1361.3 1155.3,1366.8 1173.6,1371.0 1191.9,1366.8 1210.2,1366.9 1228.5,1372.5 1246.8,1376.3 1265.1,1372.0 1283.4,1377.0 1301.7,1372.8 1320.0,1375.1 1338.3,1377.2 1356.6,1377.5 1374.9,1381.0 1393.2,1371.4 1411.5,1375.8"/>
<polyline stroke="#60ca60" points="258.7,1081.0 277.0,1089.2 295.3,1105.7 313.6,1130.3 331.9,1143.9 350.2,1161.1 368.5,1174.1 386.8,1187.2 405.1,1204.6 423.4,1219.6 441.7,1237.7 460.0,1253.9 478.3,1266.7 496.6,1271.1 514.9,1289.7 533.2,1293.1 551.5,1293.5 569.8,1302.6 588.1,1305.5 606.4,1309.4 624.7,1313.3 643.0,1324.1 661.3,1328.8 679.6,1330.2 697.8,1338.4 716.1,1341.8 734.4,1339.0 752.7,1340.7 771.0,1345.4 789.3,1347.5 807.6,1346.5 825.9,1351.0 844.2,1355.7 862.5,1355.9 880.8,1360.8 899.1,1367.6 917.4,1363.0 935.7,1358.8 954.0,1367.7 972.3,1367.3 990.6,1369.9 1008.9,1370.4 1027.2,1373.9 1045.5,1368.8 1063.8,1370.7 1082.1,1370.0 1100.4,1369.7 1118.7,1372.3 1137.0,1367.5 1155.3,1370.8 1173.6,1375.4 1191.9,1371.5 1210.2,1375.3 1228.5,1377.1 1246.8,1381.1 1265.1,1374.9 1283.4,1380.7 1301.7,1375.9 1320.0,1377.7 1338.3,1380.2 1356.6,1379.7 1374.9,1381.7 1393.2,1377.8 1411.5,1378.7"/>
<polyline stroke="#5ac864" points="258.7,1083.7 277.0,1091.4 295.3,1110.9 313.6,1132.9 331.9,1148.8 350.2,1166.2 368.5,1179.0 386.8,1195.3 405.1,1212.7 423.4,1230.1 441.7,1248.0 460.0,1260.6 478.3,1278.4 496.6,1283.0 514.9,1298.3 533.2,1303.0 551.5,1301.7 569.8,1305.1 588.1,1313.7 606.4,1314.6 624.7,1321.3 643.0,1331.5 661.3,1335.8 679.6,1340.6 697.8,1344.6 716.1,1347.5 734.4,1342.5 752.7,1348.0 771.0,1354.1 789.3,1355.3 807.6,1352.3 825.9,1357.2 844.2,1364.6 862.5,1360.5 880.8,1365.6 899.1,1370.2 917.4,1365.8 935.7,1362.4 954.0,1368.2 972.3,1371.2 990.6,1370.6 1008.9,1372.8 1027.2,1377.1 1045.5,1371.9 1063.8,1372.3 1082.1,1373.8 1100.4,1375.7 1118.7,1375.5 1137.0,1370.5 1155.3,1374.6 1173.6,1377.3 1191.9,1375.0 1210.2,1379.1 1228.5,1381.3 1246.8,1382.8 1265.1,1378.4 1283.4,1381.2 1301.7,1380.3 1320.0,1380.2 1338.3,1381.9 1356.6,1384.6 1374.9,1391.1 1393.2,1381.4 1411.5,1384.9"/>
<polyline stroke="#54c568" points="258.7,1087.1 277.0,1095.7 295.3,1117.2 313.6,1137.0 331.9,1154.3 350.2,1172.4 368.5,1186.2 386.8,1203.1 405.1,1220.7 423.4,1238.1 441.7,1258.0 460.0,1272.2 478.3,1286.0 496.6,1289.5 514.9,1304.6 533.2,1309.2 551.5,1309.2 569.8,1315.9 588.1,1321.8 606.4,1320.2 624.7,1328.1 643.0,1336.9 661.3,1341.3 679.6,1345.4 697.8,1350.0 716.1,1353.1 734.4,1349.5 752.7,1358.3 771.0,1358.5 789.3,1361.5 807.6,1360.5 825.9,1363.9 844.2,1366.3 862.5,1364.2 880.8,1368.8 899.1,1375.2 917.4,1370.2 935.7,1367.7 954.0,1370.8 972.3,1377.6 990.6,1375.3 1008.9,1373.9 1027.2,1376.2 1045.5,1374.5 1063.8,1376.3 1082.1,1373.4 1100.4,1378.0 1118.7,1379.0 1137.0,1370.7 1155.3,1376.6 1173.6,1381.7 1191.9,1376.5 1210.2,1380.9 1228.5,1382.3 1246.8,1385.9 1265.1,1377.9 1283.4,1383.4 1301.7,1382.1 1320.0,1382.0 1338.3,1385.3 1356.6,1389.6 1374.9,1391.7 1393.2,1380.0 1411.5,1390.0"/>
<polyline stroke="#4cc26c" points="258.7,1088.7 277.0,1100.5 295.3,1122.8 313.6,1143.5 331.9,1161.4 350.2,1180.1 368.5,1193.3 386.8,1213.4 405.1,1230.4 423.4,1252.8 441.7,1267.9 460.0,1280.4 478.3,1294.2 496.6,1297.4 514.9,1309.2 533.2,1314.4 551.5,1316.8 569.8,1319.7 588.1,1329.3 606.4,1328.4 624.7,1338.6 643.0,1342.6 661.3,1347.3 679.6,1353.7 697.8,1356.1 716.1,1359.2 734.4,1355.9 752.7,1362.1 771.0,1363.5 789.3,1365.4 807.6,1363.9 825.9,1365.4 844.2,1370.4 862.5,1365.9 880.8,1371.6 899.1,1377.1 917.4,1372.3 935.7,1369.9 954.0,1374.4 972.3,1378.5 990.6,1378.3 1008.9,1379.1 1027.2,1379.5 1045.5,1380.2 1063.8,1381.0 1082.1,1378.5 1100.4,1381.6 1118.7,1380.1 1137.0,1375.7 1155.3,1379.6 1173.6,1383.7 1191.9,1380.3 1210.2,1384.4 1228.5,1387.5 1246.8,1388.6 1265.1,1381.6 1283.4,1384.6 1301.7,1386.9 1320.0,1387.4 1338.3,1385.0 1356.6,1389.8 1374.9,1395.3 1393.2,1384.8 1411.5,1391.2"/>
<polyline stroke="#46c06f" points="258.7,1091.3 277.0,1102.3 295.3,1127.7 313.6,1147.7 331.9,1167.1 350.2,1185.3 368.5,1200.2 386.8,1223.4 405.1,1237.9 423.4,1260.7 441.7,1280.0 460.0,1289.5 478.3,1301.2 496.6,1302.0 514.9,1312.2 533.2,1316.5 551.5,1318.9 569.8,1328.9 588.1,1336.7 606.4,1337.1 624.7,1339.9 643.0,1349.5 661.3,1349.1 679.6,1356.7 697.8,1358.4 716.1,1362.0 734.4,1361.5 752.7,1364.3 771.0,1368.5 789.3,1369.3 807.6,1370.0 825.9,1366.9 844.2,1372.8 862.5,1367.5 880.8,1374.4 899.1,1377.4 917.4,1377.8 935.7,1372.3 954.0,1377.0 972.3,1378.2 990.6,1377.2 1008.9,1382.0 1027.2,1382.4 1045.5,1382.2 1063.8,1382.2 1082.1,1380.4 1100.4,1386.0 1118.7,1384.0 1137.0,1381.3 1155.3,1383.0 1173.6,1385.1 1191.9,1384.0 1210.2,1387.0 1228.5,1387.3 1246.8,1388.5 1265.1,1385.5 1283.4,1388.7 1301.7,1387.3 1320.0,1388.5 1338.3,1391.8 1356.6,1391.3 1374.9,1395.1 1393.2,1387.6 1411.5,1392.9"/>
<polyline stroke="#3fbc73" points="258.7,1094.3 277.0,1108.0 295.3,1133.0 313.6,1154.7 331.9,1171.8 350.2,1193.0 368.5,1207.2 386.8,1231.1 405.1,1246.4 423.4,1269.3 441.7,1285.2 460.0,1296.8 478.3,1307.2 496.6,1309.2 514.9,1318.4 533.2,1324.0 551.5,1325.8 569.8,1334.8 588.1,1341.5 606.4,1341.0 624.7,1345.2 643.0,1352.1 661.3,1355.0 679.6,1360.4 697.8,1359.0 716.1,1362.3 734.4,1361.2 752.7,1367.0 771.0,1372.4 789.3,1369.0 807.6,1372.8 825.9,1370.8 844.2,1375.1 862.5,1371.5 880.8,1377.2 899.1,1381.0 917.4,1380.5 935.7,1375.6 954.0,1378.8 972.3,1382.1 990.6,1380.8 1008.9,1384.3 1027.2,1384.2 1045.5,1384.9 1063.8,1385.8 1082.1,1383.2 1100.4,1388.3 1118.7,1386.2 1137.0,1384.2 1155.3,1386.3 1173.6,1386.9 1191.9,1390.7 1210.2,1388.5 1228.5,1393.4 1246.8,1392.8 1265.1,1389.5 1283.4,1390.0 1301.7,1391.1 1320.0,1392.9 1338.3,1393.3 1356.6,1394.9 1374.9,1398.1 1393.2,1390.7 1411.5,1397.0"/>
<polyline stroke="#3aba76" points="258.7,1094.9 277.0,1113.5 295.3,1137.6 313.6,1159.2 331.9,1177.3 350.2,1196.4 368.5,1214.9 386.8,1237.5 405.1,1255.9 423.4,1277.6 441.7,1292.7 460.0,1303.6 478.3,1310.6 496.6,1309.0 514.9,1321.6 533.2,1326.6 551.5,1328.5 569.8,1336.6 588.1,1346.3 606.4,1344.5 624.7,1347.3 643.0,1354.2 661.3,1357.0 679.6,1365.6 697.8,1364.4 716.1,1365.1 734.4,1368.3 752.7,1368.6 771.0,1372.7 789.3,1372.0 807.6,1373.6 825.9,1371.1 844.2,1374.4 862.5,1372.8 880.8,1379.3 899.1,1378.6 917.4,1380.1 935.7,1372.7 954.0,1380.1 972.3,1383.4 990.6,1381.1 1008.9,1386.1 1027.2,1386.3 1045.5,1386.5 1063.8,1386.9 1082.1,1383.7 1100.4,1386.3 1118.7,1388.2 1137.0,1385.9 1155.3,1389.5 1173.6,1392.4 1191.9,1390.0 1210.2,1393.7 1228.5,1394.7 1246.8,1394.4 1265.1,1391.3 1283.4,1391.5 1301.7,1391.9 1320.0,1397.0 1338.3,1392.1 1356.6,1397.2 1374.9,1400.6 1393.2,1396.0 1411.5,1399.7"/>
<polyline stroke="#35b779" points="258.7,1096.5 277.0,1119.3 295.3,1143.2 313.6,1166.3 331.9,1183.1 350.2,1199.9 368.5,1222.7 386.8,1243.0 405.1,1262.8 423.4,1287.6 441.7,1299.0 460.0,1307.1 478.3,1312.1 496.6,1316.0 514.9,1325.8 533.2,1336.6 551.5,1333.9 569.8,1344.1 588.1,1347.3 606.4,1348.9 624.7,1353.4 643.0,1354.6 661.3,1361.2 679.6,1369.0 697.8,1364.3 716.1,1369.8 734.4,1370.7 752.7,1371.6 771.0,1371.6 789.3,1374.1 807.6,1378.2 825.9,1371.6 844.2,1375.2 862.5,1376.1 880.8,1380.6 899.1,1381.5 917.4,1381.5 935.7,1373.4 954.0,1380.9 972.3,1386.0 990.6,1383.3 1008.9,1386.4 1027.2,1388.0 1045.5,1388.1 1063.8,1386.7 1082.1,1388.6 1100.4,1390.7 1118.7,1392.9 1137.0,1388.1 1155.3,1393.0 1173.6,1395.3 1191.9,1395.3 1210.2,1396.0 1228.5,1398.3 1246.8,1397.9 1265.1,1393.1 1283.4,1394.2 1301.7,1392.5 1320.0,1400.8 1338.3,1394.6 1356.6,1400.2 1374.9,1401.7 1393.2,1398.1 1411.5,1400.6"/>
<polyline stroke="#2fb47c" points="258.7,1097.7 277.0,1122.0 295.3,1149.0 313.6,1171.9 331.9,1189.7 350.2,1209.5 368.5,1229.5 386.8,1251.5 405.1,1270.4 423.4,1295.7 441.7,1303.3 460.0,1309.4 478.3,1315.7 496.6,1321.8 514.9,1333.4 533.2,1337.2 551.5,1335.3 569.8,1345.7 588.1,1348.9 606.4,1353.3 624.7,1354.8 643.0,1358.2 661.3,1358.8 679.6,1373.1 697.8,1367.8 716.1,1368.1 734.4,1373.9 752.7,1373.6 771.0,1374.5 789.3,1374.5 807.6,1377.9 825.9,1375.1 844.2,1380.1 862.5,1379.2 880.8,1383.3 899.1,1383.9 917.4,1381.1 935.7,1375.2 954.0,1382.3 972.3,1387.2 990.6,1387.0 1008.9,1391.4 1027.2,1389.2 1045.5,1388.8 1063.8,1387.2 1082.1,1390.1 1100.4,1393.0 1118.7,1392.9 1137.0,1388.2 1155.3,1396.0 1173.6,1397.3 1191.9,1397.6 1210.2,1400.1 1228.5,1397.6 1246.8,1399.7 1265.1,1398.5 1283.4,1397.4 1301.7,1394.8 1320.0,1403.7 1338.3,1396.0 1356.6,1403.0 1374.9,1404.4 1393.2,1398.1 1411.5,1402.6"/>
<polyline stroke="#2ab07f" points="258.7,1098.2 277.0,1127.0 295.3,1153.8 313.6,1175.8 331.9,1194.4 350.2,1214.3 368.5,1234.8 386.8,1261.5 405.1,1277.4 423.4,1300.5 441.7,1307.3 460.0,1315.7 478.3,1318.0 496.6,1322.8 514.9,1337.5 533.2,1338.3 551.5,1340.5 569.8,1348.3 588.1,1352.0 606.4,1354.0 624.7,1357.4 643.0,1361.5 661.3,1362.3 679.6,1377.9 697.8,1366.3 716.1,1372.0 734.4,1372.5 752.7,1376.6 771.0,1375.6 789.3,1375.8 807.6,1382.9 825.9,1374.5 844.2,1378.8 862.5,1377.7 880.8,1381.6 899.1,1387.5 917.4,1382.1 935.7,1380.6 954.0,1386.5 972.3,1389.1 990.6,1390.1 1008.9,1393.8 1027.2,1392.4 1045.5,1392.0 1063.8,1388.9 1082.1,1393.8 1100.4,1393.6 1118.7,1395.6 1137.0,1392.9 1155.3,1397.8 1173.6,1400.5 1191.9,1398.5 1210.2,1400.4 1228.5,1397.5 1246.8,1403.2 1265.1,1402.2 1283.4,1399.0 1301.7,1398.6 1320.0,1404.3 1338.3,1403.0 1356.6,1407.9 1374.9,1404.9 1393.2,1402.3 1411.5,1407.3"/>
<polyline stroke="#27ad81" points="258.7,1099.1 277.0,1132.5 295.3,1159.7 313.6,1181.5 331.9,1199.7 350.2,1219.3 368.5,1243.5 386.8,1265.7 405.1,1285.5 423.4,1304.3 441.7,1310.7 460.0,1316.4 478.3,1322.5 496.6,1328.2 514.9,1337.5 533.2,1339.9 551.5,1342.7 569.8,1348.2 588.1,1356.3 606.4,1358.5 624.7,1357.3 643.0,1360.2 661.3,1365.8 679.6,1375.6 697.8,1368.0 716.1,1375.1 734.4,1374.4 752.7,1378.4 771.0,1377.1 789.3,1378.4 807.6,1383.1 825.9,1374.7 844.2,1379.5 862.5,1378.8 880.8,1385.2 899.1,1390.9 917.4,1384.6 935.7,1382.0 954.0,1387.1 972.3,1392.5 990.6,1390.8 1008.9,1394.3 1027.2,1394.7 1045.5,1393.6 1063.8,1389.7 1082.1,1394.6 1100.4,1396.5 1118.7,1400.1 1137.0,1394.0 1155.3,1399.7 1173.6,1402.8 1191.9,1400.2 1210.2,1403.1 1228.5,1403.1 1246.8,1404.3 1265.1,1402.5 1283.4,1400.6 1301.7,1402.9 1320.0,1406.1 1338.3,1402.4 1356.6,1408.6 1374.9,1409.1 1393.2,1404.9 1411.5,1409.7"/>
<polyline stroke="#24aa83" points="258.7,1101.0 277.0,1137.6 295.3,1163.2 313.6,1184.8 331.9,1205.4 350.2,1227.0 368.5,1248.8 386.8,1273.8 405.1,1291.4 423.4,1308.4 441.7,1313.8 460.0,1320.8 478.3,1325.2 496.6,1331.9 514.9,1338.2 533.2,1345.1 551.5,1345.4 569.8,1353.3 588.1,1359.9 606.4,1362.2 624.7,1359.3 643.0,1362.9 661.3,1366.5 679.6,1375.2 697.8,1372.7 716.1,1373.0 734.4,1377.6 752.7,1379.1 771.0,1377.0 789.3,1378.7 807.6,1385.6 825.9,1375.8 844.2,1379.8 862.5,1386.1 880.8,1387.8 899.1,1390.2 917.4,1384.1 935.7,1385.0 954.0,1386.8 972.3,1395.6 990.6,1392.1 1008.9,1394.4 1027.2,1396.4 1045.5,1396.2 1063.8,1394.9 1082.1,1397.8 1100.4,1398.5 1118.7,1401.1 1137.0,1396.3 1155.3,1399.2 1173.6,1403.3 1191.9,1402.1 1210.2,1402.9 1228.5,1403.7 1246.8,1405.9 1265.1,1405.0 1283.4,1402.4 1301.7,1403.9 1320.0,1406.4 1338.3,1407.5 1356.6,1408.5 1374.9,1410.4 1393.2,1405.5 1411.5,1411.7"/>
<polyline stroke="#22a785" points="258.7,1103.4 277.0,1142.7 295.3,1169.5 313.6,1190.6 331.9,1211.5 350.2,1232.4 368.5,1253.5 386.8,1279.1 405.1,1300.2 423.4,1309.4 441.7,1318.3 460.0,1322.3 478.3,1328.4 496.6,1331.3 514.9,1342.8 533.2,1344.9 551.5,1349.4 569.8,1352.1 588.1,1362.5 606.4,1368.6 624.7,1364.6 643.0,1365.2 661.3,1370.8 679.6,1376.1 697.8,1373.5 716.1,1375.0 734.4,1379.1 752.7,1380.5 771.0,1378.7 789.3,1378.3 807.6,1389.1 825.9,1377.6 844.2,1378.5 862.5,1384.8 880.8,1388.4 899.1,1390.6 917.4,1384.4 935.7,1388.4 954.0,1389.5 972.3,1397.0 990.6,1394.4 1008.9,1397.8 1027.2,1399.2 1045.5,1398.6 1063.8,1397.6 1082.1,1400.8 1100.4,1400.3 1118.7,1403.8 1137.0,1400.9 1155.3,1401.8 1173.6,1403.6 1191.9,1404.7 1210.2,1403.0 1228.5,1407.5 1246.8,1408.2 1265.1,1406.8 1283.4,1405.4 1301.7,1404.8 1320.0,1410.5 1338.3,1409.4 1356.6,1411.8 1374.9,1413.5 1393.2,1406.9 1411.5,1414.4"/>
<polyline stroke="#20a386" points="258.7,1104.1 277.0,1148.8 295.3,1174.3 313.6,1194.5 331.9,1218.4 350.2,1236.3 368.5,1261.3 386.8,1286.2 405.1,1302.6 423.4,1313.7 441.7,1320.0 460.0,1326.4 478.3,1331.1 496.6,1336.8 514.9,1343.8 533.2,1346.6 551.5,1352.9 569.8,1354.1 588.1,1361.6 606.4,1370.9 624.7,1365.0 643.0,1368.9 661.3,1369.5 679.6,1378.9 697.8,1373.0 716.1,1370.9 734.4,1383.2 752.7,1384.4 771.0,1380.0 789.3,1381.0 807.6,1388.4 825.9,1378.7 844.2,1381.3 862.5,1384.3 880.8,1386.6 899.1,1394.3 917.4,1385.9 935.7,1389.1 954.0,1391.0 972.3,1400.3 990.6,1398.5 1008.9,1398.8 1027.2,1398.8 1045.5,1400.0 1063.8,1399.1 1082.1,1399.3 1100.4,1402.0 1118.7,1405.4 1137.0,1404.0 1155.3,1405.0 1173.6,1405.0 1191.9,1403.9 1210.2,1405.6 1228.5,1407.2 1246.8,1407.8 1265.1,1407.7 1283.4,1407.3 1301.7,1405.2 1320.0,1413.2 1338.3,1409.6 1356.6,1413.3 1374.9,1411.7 1393.2,1409.6 1411.5,1417.3"/>
<polyline stroke="#1fa188" points="258.7,1106.2 277.0,1154.8 295.3,1180.9 313.6,1198.4 331.9,1224.4 350.2,1242.5 368.5,1266.5 386.8,1292.7 405.1,1304.9 423.4,1317.0 441.7,1322.4 460.0,1327.0 478.3,1333.3 496.6,1335.9 514.9,1347.8 533.2,1350.0 551.5,1355.8 569.8,1355.2 588.1,1364.6 606.4,1372.7 624.7,1364.7 643.0,1368.6 661.3,1373.6 679.6,1378.3 697.8,1377.0 716.1,1376.2 734.4,1379.9 752.7,1385.9 771.0,1380.8 789.3,1387.1 807.6,1388.4 825.9,1380.1 844.2,1383.8 862.5,1386.9 880.8,1391.3 899.1,1394.4 917.4,1390.0 935.7,1392.4 954.0,1392.1 972.3,1398.8 990.6,1399.9 1008.9,1400.6 1027.2,1401.9 1045.5,1401.9 1063.8,1401.3 1082.1,1404.5 1100.4,1403.4 1118.7,1409.4 1137.0,1405.8 1155.3,1405.0 1173.6,1406.1 1191.9,1406.8 1210.2,1408.0 1228.5,1407.5 1246.8,1410.8 1265.1,1411.1 1283.4,1407.2 1301.7,1408.9 1320.0,1414.2 1338.3,1412.6 1356.6,1414.3 1374.9,1411.1 1393.2,1411.9 1411.5,1419.5"/>
<polyline stroke="#1e9d89" points="258.7,1106.9 277.0,1159.5 295.3,1185.5 313.6,1203.5 331.9,1230.2 350.2,1250.1 368.5,1273.5 386.8,1299.0 405.1,1309.3 423.4,1317.7 441.7,1321.6 460.0,1330.8 478.3,1335.1 496.6,1336.3 514.9,1350.0 533.2,1354.1 551.5,1354.9 569.8,1357.1 588.1,1365.4 606.4,1373.2 624.7,1369.0 643.0,1371.0 661.3,1372.9 679.6,1382.9 697.8,1378.5 716.1,1379.9 734.4,1382.4 752.7,1384.1 771.0,1386.5 789.3,1389.3 807.6,1385.9 825.9,1380.5 844.2,1384.8 862.5,1387.5 880.8,1390.1 899.1,1397.3 917.4,1395.5 935.7,1395.0 954.0,1392.0 972.3,1398.1 990.6,1401.7 1008.9,1402.7 1027.2,1403.3 1045.5,1403.4 1063.8,1402.7 1082.1,1406.2 1100.4,1406.4 1118.7,1412.1 1137.0,1406.6 1155.3,1407.4 1173.6,1408.6 1191.9,1407.3 1210.2,1408.4 1228.5,1414.1 1246.8,1410.6 1265.1,1412.4 1283.4,1408.6 1301.7,1409.2 1320.0,1416.5 1338.3,1415.1 1356.6,1413.4 1374.9,1412.8 1393.2,1415.1 1411.5,1421.6"/>
<polyline stroke="#1f998a" points="258.7,1109.1 277.0,1164.2 295.3,1190.7 313.6,1210.6 331.9,1235.1 350.2,1255.4 368.5,1277.6 386.8,1302.0 405.1,1313.4 423.4,1320.0 441.7,1325.8 460.0,1333.8 478.3,1335.8 496.6,1342.1 514.9,1347.6 533.2,1356.6 551.5,1358.2 569.8,1359.5 588.1,1368.5 606.4,1375.7 624.7,1369.3 643.0,1373.6 661.3,1373.8 679.6,1383.1 697.8,1381.9 716.1,1377.5 734.4,1387.4 752.7,1386.7 771.0,1382.9 789.3,1388.8 807.6,1390.5 825.9,1381.0 844.2,1387.6 862.5,1389.5 880.8,1395.1 899.1,1399.4 917.4,1397.0 935.7,1394.5 954.0,1396.3 972.3,1401.4 990.6,1405.2 1008.9,1404.7 1027.2,1403.4 1045.5,1406.1 1063.8,1404.4 1082.1,1406.4 1100.4,1409.4 1118.7,1410.7 1137.0,1409.4 1155.3,1407.6 1173.6,1413.0 1191.9,1411.6 1210.2,1409.8 1228.5,1411.0 1246.8,1410.7 1265.1,1411.5 1283.4,1411.2 1301.7,1411.2 1320.0,1415.2 1338.3,1414.8 1356.6,1416.5 1374.9,1417.1 1393.2,1416.7 1411.5,1423.0"/>
<polyline stroke="#1f968b" points="258.7,1110.5 277.0,1169.2 295.3,1194.8 313.6,1216.5 331.9,1240.3 350.2,1259.1 368.5,1283.8 386.8,1306.3 405.1,1316.1 423.4,1323.7 441.7,1329.7 460.0,1333.8 478.3,1334.7 496.6,1341.8 514.9,1348.4 533.2,1357.3 551.5,1361.6 569.8,1362.5 588.1,1367.3 606.4,1375.7 624.7,1371.0 643.0,1376.1 661.3,1375.7 679.6,1383.3 697.8,1381.6 716.1,1381.3 734.4,1387.0 752.7,1388.6 771.0,1384.9 789.3,1387.8 807.6,1392.3 825.9,1381.0 844.2,1388.5 862.5,1394.0 880.8,1397.3 899.1,1401.4 917.4,1400.0 935.7,1399.1 954.0,1398.0 972.3,1401.1 990.6,1405.2 1008.9,1406.3 1027.2,1406.1 1045.5,1405.6 1063.8,1404.4 1082.1,1411.0 1100.4,1408.4 1118.7,1411.7 1137.0,1407.9 1155.3,1412.4 1173.6,1410.2 1191.9,1413.8 1210.2,1411.7 1228.5,1415.2 1246.8,1413.4 1265.1,1411.7 1283.4,1413.4 1301.7,1411.2 1320.0,1416.2 1338.3,1413.9 1356.6,1418.8 1374.9,1419.1 1393.2,1417.3 1411.5,1424.7"/>
<polyline stroke="#20928c" points="258.7,1111.5 277.0,1173.6 295.3,1198.0 313.6,1222.7 331.9,1245.0 350.2,1267.3 368.5,1289.3 386.8,1308.9 405.1,1319.5 423.4,1326.4 441.7,1333.6 460.0,1333.7 478.3,1338.5 496.6,1343.9 514.9,1349.5 533.2,1358.3 551.5,1359.9 569.8,1365.5 588.1,1367.9 606.4,1370.7 624.7,1373.2 643.0,1378.9 661.3,1374.3 679.6,1382.3 697.8,1383.9 716.1,1383.0 734.4,1388.6 752.7,1389.5 771.0,1386.5 789.3,1385.0 807.6,1391.9 825.9,1382.1 844.2,1390.7 862.5,1396.3 880.8,1396.6 899.1,1400.4 917.4,1402.5 935.7,1400.6 954.0,1402.4 972.3,1404.2 990.6,1407.2 1008.9,1408.2 1027.2,1405.4 1045.5,1409.0 1063.8,1405.1 1082.1,1409.9 1100.4,1410.8 1118.7,1412.7 1137.0,1408.9 1155.3,1414.6 1173.6,1415.0 1191.9,1411.8 1210.2,1412.8 1228.5,1417.0 1246.8,1414.5 1265.1,1412.7 1283.4,1413.3 1301.7,1414.5 1320.0,1416.9 1338.3,1416.9 1356.6,1420.9 1374.9,1420.7 1393.2,1421.5 1411.5,1425.0"/>
<polyline stroke="#21908d" points="258.7,1113.0 277.0,1178.6 295.3,1201.4 313.6,1229.0 331.9,1252.8 350.2,1271.5 368.5,1293.1 386.8,1311.1 405.1,1321.7 423.4,1328.8 441.7,1336.2 460.0,1335.2 478.3,1341.2 496.6,1346.8 514.9,1349.5 533.2,1358.1 551.5,1360.0 569.8,1365.2 588.1,1369.4 606.4,1371.8 624.7,1376.2 643.0,1377.3 661.3,1380.2 679.6,1384.1 697.8,1384.5 716.1,1384.5 734.4,1391.4 752.7,1389.7 771.0,1388.2 789.3,1386.3 807.6,1392.2 825.9,1386.1 844.2,1393.3 862.5,1398.6 880.8,1398.7 899.1,1401.8 917.4,1402.4 935.7,1400.4 954.0,1404.2 972.3,1405.8 990.6,1408.0 1008.9,1404.5 1027.2,1410.4 1045.5,1407.1 1063.8,1408.3 1082.1,1411.7 1100.4,1413.4 1118.7,1414.4 1137.0,1410.5 1155.3,1414.3 1173.6,1411.9 1191.9,1414.7 1210.2,1414.8 1228.5,1417.1 1246.8,1416.4 1265.1,1417.7 1283.4,1414.4 1301.7,1418.4 1320.0,1422.1 1338.3,1418.1 1356.6,1422.8 1374.9,1424.1 1393.2,1422.8 1411.5,1427.7"/>
<polyline stroke="#228c8d" points="258.7,1115.1 277.0,1183.1 295.3,1205.3 313.6,1232.9 331.9,1256.9 350.2,1277.8 368.5,1298.5 386.8,1315.0 405.1,1322.8 423.4,1329.9 441.7,1338.0 460.0,1337.2 478.3,1342.6 496.6,1346.5 514.9,1354.2 533.2,1362.3 551.5,1361.0 569.8,1368.2 588.1,1371.0 606.4,1372.7 624.7,1375.7 643.0,1378.6 661.3,1377.8 679.6,1385.7 697.8,1385.4 716.1,1385.9 734.4,1392.8 752.7,1392.4 771.0,1388.8 789.3,1387.9 807.6,1394.9 825.9,1388.0 844.2,1394.2 862.5,1400.4 880.8,1402.2 899.1,1406.8 917.4,1400.3 935.7,1404.4 954.0,1403.6 972.3,1408.3 990.6,1408.4 1008.9,1410.1 1027.2,1408.2 1045.5,1409.1 1063.8,1410.7 1082.1,1411.2 1100.4,1414.9 1118.7,1417.2 1137.0,1413.8 1155.3,1417.1 1173.6,1414.3 1191.9,1416.4 1210.2,1416.5 1228.5,1419.1 1246.8,1419.0 1265.1,1419.5 1283.4,1416.4 1301.7,1420.7 1320.0,1422.6 1338.3,1421.3 1356.6,1425.2 1374.9,1422.5 1393.2,1422.7 1411.5,1428.3"/>
<polyline stroke="#23898e" points="258.7,1115.9 277.0,1187.1 295.3,1208.8 313.6,1239.0 331.9,1261.4 350.2,1281.3 368.5,1301.1 386.8,1318.8 405.1,1326.9 423.4,1334.9 441.7,1339.2 460.0,1343.1 478.3,1345.8 496.6,1344.5 514.9,1357.1 533.2,1361.8 551.5,1362.7 569.8,1367.7 588.1,1371.5 606.4,1374.4 624.7,1378.7 643.0,1379.4 661.3,1376.8 679.6,1389.1 697.8,1385.1 716.1,1386.3 734.4,1390.4 752.7,1394.5 771.0,1389.6 789.3,1391.3 807.6,1396.4 825.9,1390.4 844.2,1393.5 862.5,1402.2 880.8,1402.4 899.1,1404.9 917.4,1404.4 935.7,1404.3 954.0,1406.5 972.3,1408.0 990.6,1410.1 1008.9,1410.8 1027.2,1410.5 1045.5,1407.9 1063.8,1410.0 1082.1,1412.9 1100.4,1416.4 1118.7,1416.3 1137.0,1413.9 1155.3,1417.8 1173.6,1415.1 1191.9,1415.3 1210.2,1418.5 1228.5,1419.3 1246.8,1422.9 1265.1,1422.2 1283.4,1418.0 1301.7,1420.4 1320.0,1423.3 1338.3,1423.9 1356.6,1426.7 1374.9,1425.7 1393.2,1423.0 1411.5,1427.5"/>
<polyline stroke="#24868e" points="258.7,1116.9 277.0,1190.3 295.3,1213.0 313.6,1245.1 331.9,1267.2 350.2,1286.8 368.5,1306.0 386.8,1320.2 405.1,1327.7 423.4,1334.0 441.7,1338.6 460.0,1341.3 478.3,1343.8 496.6,1342.4 514.9,1357.6 533.2,1362.9 551.5,1362.8 569.8,1366.7 588.1,1372.4 606.4,1375.3 624.7,1379.4 643.0,1383.3 661.3,1378.0 679.6,1390.3 697.8,1382.1 716.1,1385.8 734.4,1391.4 752.7,1394.0 771.0,1388.1 789.3,1393.1 807.6,1396.1 825.9,1392.7 844.2,1395.7 862.5,1399.0 880.8,1404.6 899.1,1406.9 917.4,1408.2 935.7,1407.2 954.0,1406.6 972.3,1410.3 990.6,1411.0 1008.9,1410.6 1027.2,1412.6 1045.5,1410.5 1063.8,1410.1 1082.1,1412.8 1100.4,1414.8 1118.7,1417.3 1137.0,1415.9 1155.3,1418.4 1173.6,1415.7 1191.9,1418.5 1210.2,1420.8 1228.5,1418.4 1246.8,1423.8 1265.1,1424.8 1283.4,1421.6 1301.7,1423.1 1320.0,1425.3 1338.3,1426.8 1356.6,1427.8 1374.9,1427.0 1393.2,1425.2 1411.5,1428.2"/>
<polyline stroke="#26828e" points="258.7,1117.9 277.0,1193.9 295.3,1215.4 313.6,1249.2 331.9,1273.6 350.2,1291.0 368.5,1307.9 386.8,1323.6 405.1,1329.2 423.4,1337.2 441.7,1337.9 460.0,1342.6 478.3,1348.7 496.6,1345.7 514.9,1358.9 533.2,1364.5 551.5,1366.8 569.8,1368.7 588.1,1369.7 606.4,1376.6 624.7,1382.5 643.0,1387.2 661.3,1383.0 679.6,1389.0 697.8,1386.0 716.1,1385.0 734.4,1388.7 752.7,1391.3 771.0,1390.8 789.3,1397.4 807.6,1397.7 825.9,1394.0 844.2,1397.5 862.5,1400.0 880.8,1406.7 899.1,1408.8 917.4,1408.5 935.7,1407.5 954.0,1408.5 972.3,1412.4 990.6,1409.8 1008.9,1411.7 1027.2,1413.0 1045.5,1412.7 1063.8,1412.0 1082.1,1413.6 1100.4,1418.8 1118.7,1421.3 1137.0,1416.9 1155.3,1419.0 1173.6,1419.3 1191.9,1415.6 1210.2,1420.8 1228.5,1419.4 1246.8,1422.6 1265.1,1425.3 1283.4,1422.5 1301.7,1423.9 1320.0,1426.8 1338.3,1425.2 1356.6,1431.1 1374.9,1426.1 1393.2,1426.3 1411.5,1430.0"/>
<polyline stroke="#27808e" points="258.7,1119.5 277.0,1197.0 295.3,1219.1 313.6,1254.1 331.9,1277.4 350.2,1295.3 368.5,1310.9 386.8,1327.4 405.1,1333.6 423.4,1338.7 441.7,1340.3 460.0,1342.8 478.3,1352.1 496.6,1351.2 514.9,1358.9 533.2,1362.6 551.5,1365.2 569.8,1368.9 588.1,1372.0 606.4,1376.0 624.7,1381.8 643.0,1388.6 661.3,1383.2 679.6,1391.1 697.8,1384.0 716.1,1385.4 734.4,1389.6 752.7,1392.9 771.0,1393.1 789.3,1395.8 807.6,1401.2 825.9,1392.4 844.2,1399.2 862.5,1405.8 880.8,1406.7 899.1,1412.8 917.4,1409.7 935.7,1405.8 954.0,1405.3 972.3,1411.0 990.6,1409.9 1008.9,1415.3 1027.2,1413.7 1045.5,1413.1 1063.8,1412.5 1082.1,1418.2 1100.4,1417.5 1118.7,1423.5 1137.0,1419.4 1155.3,1420.8 1173.6,1421.8 1191.9,1418.5 1210.2,1423.2 1228.5,1421.2 1246.8,1426.3 1265.1,1426.2 1283.4,1425.0 1301.7,1423.7 1320.0,1428.7 1338.3,1424.4 1356.6,1430.1 1374.9,1429.0 1393.2,1426.2 1411.5,1431.1"/>
<polyline stroke="#287c8e" points="258.7,1120.1 277.0,1198.9 295.3,1221.5 313.6,1259.8 331.9,1281.5 350.2,1298.7 368.5,1316.3 386.8,1330.8 405.1,1336.3 423.4,1338.8 441.7,1345.3 460.0,1342.9 478.3,1351.8 496.6,1352.1 514.9,1363.5 533.2,1364.9 551.5,1368.1 569.8,1370.3 588.1,1375.3 606.4,1378.0 624.7,1385.0 643.0,1390.1 661.3,1382.8 679.6,1392.2 697.8,1386.6 716.1,1388.1 734.4,1390.1 752.7,1395.2 771.0,1396.0 789.3,1396.9 807.6,1399.2 825.9,1391.0 844.2,1402.6 862.5,1406.7 880.8,1407.7 899.1,1411.5 917.4,1411.1 935.7,1407.1 954.0,1406.8 972.3,1412.5 990.6,1412.1 1008.9,1415.6 1027.2,1417.2 1045.5,1415.0 1063.8,1409.5 1082.1,1415.8 1100.4,1420.4 1118.7,1422.2 1137.0,1421.5 1155.3,1421.2 1173.6,1424.5 1191.9,1419.7 1210.2,1423.1 1228.5,1422.8 1246.8,1430.2 1265.1,1426.0 1283.4,1425.1 1301.7,1425.9 1320.0,1428.9 1338.3,1428.4 1356.6,1430.7 1374.9,1430.5 1393.2,1426.7 1411.5,1432.5"/>
<polyline stroke="#29798e" points="258.7,1121.4 277.0,1201.1 295.3,1225.7 313.6,1264.0 331.9,1287.6 350.2,1302.7 368.5,1317.6 386.8,1331.6 405.1,1339.1 423.4,1339.5 441.7,1343.6 460.0,1345.8 478.3,1355.6 496.6,1352.0 514.9,1364.4 533.2,1366.4 551.5,1369.1 569.8,1369.2 588.1,1377.8 606.4,1379.0 624.7,1387.7 643.0,1388.4 661.3,1386.0 679.6,1392.5 697.8,1384.8 716.1,1386.3 734.4,1389.5 752.7,1394.4 771.0,1397.2 789.3,1398.1 807.6,1398.4 825.9,1395.8 844.2,1403.1 862.5,1409.7 880.8,1409.1 899.1,1411.4 917.4,1412.0 935.7,1406.1 954.0,1409.3 972.3,1413.9 990.6,1411.4 1008.9,1416.8 1027.2,1417.0 1045.5,1418.7 1063.8,1411.9 1082.1,1416.0 1100.4,1418.6 1118.7,1421.3 1137.0,1419.8 1155.3,1423.4 1173.6,1424.5 1191.9,1422.4 1210.2,1423.5 1228.5,1426.4 1246.8,1430.7 1265.1,1429.8 1283.4,1426.3 1301.7,1427.8 1320.0,1428.5 1338.3,1430.4 1356.6,1430.8 1374.9,1429.4 1393.2,1429.9 1411.5,1434.3"/>
<polyline stroke="#2a768e" points="258.7,1122.8 277.0,1202.3 295.3,1229.4 313.6,1269.4 331.9,1289.8 350.2,1306.0 368.5,1322.9 386.8,1330.8 405.1,1339.8 423.4,1340.4 441.7,1346.0 460.0,1344.6 478.3,1356.0 496.6,1353.8 514.9,1363.4 533.2,1363.8 551.5,1365.2 569.8,1368.4 588.1,1377.0 606.4,1379.8 624.7,1387.3 643.0,1390.9 661.3,1385.8 679.6,1392.4 697.8,1387.7 716.1,1388.0 734.4,1393.1 752.7,1398.6 771.0,1401.2 789.3,1396.8 807.6,1403.6 825.9,1396.5 844.2,1403.9 862.5,1408.6 880.8,1411.7 899.1,1414.4 917.4,1412.3 935.7,1407.6 954.0,1409.2 972.3,1413.7 990.6,1414.8 1008.9,1417.0 1027.2,1419.4 1045.5,1418.5 1063.8,1414.1 1082.1,1415.5 1100.4,1422.0 1118.7,1424.9 1137.0,1420.8 1155.3,1423.3 1173.6,1422.7 1191.9,1420.7 1210.2,1424.3 1228.5,1427.2 1246.8,1434.2 1265.1,1430.0 1283.4,1427.4 1301.7,1428.1 1320.0,1432.2 1338.3,1432.9 1356.6,1433.5 1374.9,1430.1 1393.2,1425.8 1411.5,1436.6"/>
<polyline stroke="#2c728e" points="258.7,1123.9 277.0,1205.0 295.3,1230.3 313.6,1275.0 331.9,1292.6 350.2,1307.3 368.5,1324.4 386.8,1333.3 405.1,1342.0 423.4,1340.0 441.7,1343.7 460.0,1348.1 478.3,1356.0 496.6,1356.4 514.9,1361.6 533.2,1365.0 551.5,1370.2 569.8,1371.1 588.1,1379.0 606.4,1381.0 624.7,1383.2 643.0,1388.2 661.3,1385.5 679.6,1392.7 697.8,1391.9 716.1,1386.5 734.4,1394.8 752.7,1399.7 771.0,1402.4 789.3,1400.8 807.6,1406.6 825.9,1395.8 844.2,1402.1 862.5,1412.3 880.8,1411.3 899.1,1414.4 917.4,1412.3 935.7,1410.2 954.0,1410.5 972.3,1415.6 990.6,1415.2 1008.9,1418.7 1027.2,1421.0 1045.5,1420.1 1063.8,1418.1 1082.1,1419.3 1100.4,1422.3 1118.7,1425.3 1137.0,1424.6 1155.3,1424.6 1173.6,1425.2 1191.9,1420.8 1210.2,1427.1 1228.5,1427.1 1246.8,1435.2 1265.1,1430.6 1283.4,1426.2 1301.7,1429.5 1320.0,1432.5 1338.3,1434.3 1356.6,1434.0 1374.9,1432.1 1393.2,1429.0 1411.5,1435.7"/>
<polyline stroke="#2d708e" points="258.7,1124.6 277.0,1207.2 295.3,1235.2 313.6,1277.7 331.9,1297.2 350.2,1309.1 368.5,1325.4 386.8,1338.3 405.1,1342.7 423.4,1340.8 441.7,1343.6 460.0,1347.6 478.3,1357.2 496.6,1354.0 514.9,1363.8 533.2,1364.9 551.5,1372.7 569.8,1371.9 588.1,1379.1 606.4,1381.6 624.7,1387.2 643.0,1391.2 661.3,1385.8 679.6,1390.9 697.8,1390.2 716.1,1388.3 734.4,1394.8 752.7,1398.7 771.0,1405.6 789.3,1401.8 807.6,1407.8 825.9,1399.8 844.2,1402.9 862.5,1412.6 880.8,1411.2 899.1,1412.2 917.4,1410.5 935.7,1410.9 954.0,1409.8 972.3,1417.9 990.6,1416.6 1008.9,1420.8 1027.2,1420.0 1045.5,1418.1 1063.8,1418.2 1082.1,1424.8 1100.4,1426.3 1118.7,1426.8 1137.0,1422.1 1155.3,1424.5 1173.6,1425.8 1191.9,1423.0 1210.2,1428.1 1228.5,1427.8 1246.8,1434.9 1265.1,1433.3 1283.4,1428.9 1301.7,1431.0 1320.0,1433.0 1338.3,1433.1 1356.6,1434.1 1374.9,1433.5 1393.2,1431.6 1411.5,1437.2"/>
<polyline stroke="#2e6d8e" points="258.7,1126.0 277.0,1208.9 295.3,1237.5 313.6,1281.5 331.9,1301.4 350.2,1313.2 368.5,1327.6 386.8,1339.1 405.1,1345.3 423.4,1340.4 441.7,1348.2 460.0,1349.4 478.3,1357.2 496.6,1357.4 514.9,1363.5 533.2,1364.1 551.5,1368.0 569.8,1374.8 588.1,1377.6 606.4,1381.4 624.7,1386.5 643.0,1393.9 661.3,1387.2 679.6,1389.3 697.8,1391.7 716.1,1386.7 734.4,1398.1 752.7,1396.2 771.0,1405.4 789.3,1404.3 807.6,1406.0 825.9,1399.2 844.2,1408.4 862.5,1410.1 880.8,1410.8 899.1,1415.9 917.4,1411.5 935.7,1412.7 954.0,1413.7 972.3,1421.0 990.6,1418.4 1008.9,1417.7 1027.2,1420.5 1045.5,1421.2 1063.8,1419.1 1082.1,1425.1 1100.4,1426.3 1118.7,1428.5 1137.0,1425.9 1155.3,1425.8 1173.6,1427.9 1191.9,1426.7 1210.2,1425.8 1228.5,1431.3 1246.8,1435.8 1265.1,1431.5 1283.4,1428.0 1301.7,1429.8 1320.0,1435.1 1338.3,1437.0 1356.6,1437.0 1374.9,1436.1 1393.2,1432.2 1411.5,1436.0"/>
<polyline stroke="#30698e" points="258.7,1127.9 277.0,1212.5 295.3,1242.1 313.6,1286.3 331.9,1305.2 350.2,1315.8 368.5,1329.4 386.8,1339.9 405.1,1345.9 423.4,1341.8 441.7,1346.8 460.0,1355.2 478.3,1358.5 496.6,1359.0 514.9,1364.5 533.2,1367.9 551.5,1369.0 569.8,1373.5 588.1,1377.4 606.4,1381.7 624.7,1387.0 643.0,1388.9 661.3,1387.3 679.6,1388.5 697.8,1391.5 716.1,1389.7 734.4,1397.1 752.7,1398.1 771.0,1407.0 789.3,1403.0 807.6,1406.7 825.9,1402.9 844.2,1409.1 862.5,1413.9 880.8,1411.0 899.1,1414.7 917.4,1412.1 935.7,1410.4 954.0,1415.0 972.3,1417.7 990.6,1418.9 1008.9,1418.1 1027.2,1420.0 1045.5,1421.2 1063.8,1420.8 1082.1,1429.3 1100.4,1427.2 1118.7,1430.2 1137.0,1426.3 1155.3,1425.7 1173.6,1427.5 1191.9,1429.5 1210.2,1426.5 1228.5,1434.2 1246.8,1434.9 1265.1,1431.9 1283.4,1426.7 1301.7,1429.1 1320.0,1435.4 1338.3,1437.0 1356.6,1436.3 1374.9,1436.5 1393.2,1431.4 1411.5,1438.5"/>
<polyline stroke="#31668e" points="258.7,1129.8 277.0,1212.4 295.3,1243.4 313.6,1288.5 331.9,1306.7 350.2,1319.1 368.5,1332.7 386.8,1341.0 405.1,1345.9 423.4,1343.5 441.7,1345.5 460.0,1357.3 478.3,1358.3 496.6,1360.9 514.9,1363.1 533.2,1366.5 551.5,1367.7 569.8,1376.9 588.1,1378.2 606.4,1380.6 624.7,1387.6 643.0,1388.9 661.3,1388.1 679.6,1389.6 697.8,1394.0 716.1,1389.7 734.4,1396.5 752.7,1398.5 771.0,1407.9 789.3,1407.9 807.6,1408.8 825.9,1402.5 844.2,1407.9 862.5,1413.7 880.8,1411.3 899.1,1415.7 917.4,1412.3 935.7,1409.2 954.0,1414.9 972.3,1420.8 990.6,1419.4 1008.9,1417.6 1027.2,1419.0 1045.5,1421.7 1063.8,1421.4 1082.1,1426.8 1100.4,1426.3 1118.7,1428.2 1137.0,1425.2 1155.3,1429.8 1173.6,1427.8 1191.9,1426.9 1210.2,1426.7 1228.5,1435.9 1246.8,1435.2 1265.1,1429.7 1283.4,1429.4 1301.7,1429.2 1320.0,1435.1 1338.3,1436.0 1356.6,1438.3 1374.9,1437.9 1393.2,1432.1 1411.5,1441.0"/>
<polyline stroke="#33628d" points="258.7,1131.6 277.0,1215.0 295.3,1244.9 313.6,1292.1 331.9,1308.6 350.2,1321.5 368.5,1333.7 386.8,1343.6 405.1,1345.3 423.4,1347.3 441.7,1350.4 460.0,1355.0 478.3,1355.6 496.6,1362.9 514.9,1363.9 533.2,1363.4 551.5,1371.4 569.8,1382.1 588.1,1380.7 606.4,1382.2 624.7,1390.2 643.0,1386.7 661.3,1385.9 679.6,1392.5 697.8,1392.4 716.1,1393.4 734.4,1396.9 752.7,1396.7 771.0,1408.0 789.3,1406.4 807.6,1409.2 825.9,1402.2 844.2,1409.4 862.5,1413.9 880.8,1411.4 899.1,1415.4 917.4,1412.8 935.7,1413.1 954.0,1411.5 972.3,1415.9 990.6,1421.1 1008.9,1418.6 1027.2,1419.4 1045.5,1420.6 1063.8,1422.7 1082.1,1425.5 1100.4,1426.3 1118.7,1431.1 1137.0,1425.5 1155.3,1424.6 1173.6,1428.0 1191.9,1431.0 1210.2,1429.4 1228.5,1435.4 1246.8,1437.0 1265.1,1430.6 1283.4,1428.4 1301.7,1432.0 1320.0,1434.3 1338.3,1439.5 1356.6,1440.7 1374.9,1439.4 1393.2,1430.9 1411.5,1443.4"/>
<polyline stroke="#355f8d" points="258.7,1133.3 277.0,1217.5 295.3,1248.5 313.6,1295.3 331.9,1312.4 350.2,1324.7 368.5,1336.1 386.8,1344.1 405.1,1344.3 423.4,1345.1 441.7,1351.8 460.0,1354.5 478.3,1357.5 496.6,1358.2 514.9,1361.2 533.2,1365.5 551.5,1375.6 569.8,1380.8 588.1,1382.3 606.4,1383.5 624.7,1390.9 643.0,1392.3 661.3,1390.0 679.6,1395.8 697.8,1395.9 716.1,1391.4 734.4,1397.8 752.7,1399.9 771.0,1407.3 789.3,1405.6 807.6,1408.9 825.9,1402.0 844.2,1409.5 862.5,1412.9 880.8,1411.0 899.1,1420.1 917.4,1418.6 935.7,1414.3 954.0,1414.5 972.3,1423.0 990.6,1421.5 1008.9,1417.0 1027.2,1422.2 1045.5,1421.0 1063.8,1425.7 1082.1,1422.5 1100.4,1427.6 1118.7,1431.6 1137.0,1423.9 1155.3,1427.5 1173.6,1427.5 1191.9,1432.7 1210.2,1429.7 1228.5,1433.4 1246.8,1437.1 1265.1,1429.6 1283.4,1431.8 1301.7,1435.2 1320.0,1436.7 1338.3,1438.7 1356.6,1439.8 1374.9,1439.9 1393.2,1434.8 1411.5,1445.3"/>
<polyline stroke="#365c8d" points="258.7,1134.0 277.0,1218.2 295.3,1251.7 313.6,1297.2 331.9,1313.8 350.2,1325.7 368.5,1339.9 386.8,1344.3 405.1,1345.5 423.4,1347.3 441.7,1352.8 460.0,1354.9 478.3,1360.5 496.6,1359.2 514.9,1361.8 533.2,1366.6 551.5,1373.7 569.8,1379.8 588.1,1382.0 606.4,1387.1 624.7,1391.5 643.0,1393.1 661.3,1391.4 679.6,1399.9 697.8,1397.3 716.1,1390.9 734.4,1400.4 752.7,1402.5 771.0,1406.5 789.3,1405.2 807.6,1409.2 825.9,1402.1 844.2,1409.7 862.5,1412.3 880.8,1412.8 899.1,1415.0 917.4,1419.9 935.7,1413.5 954.0,1416.8 972.3,1423.5 990.6,1422.2 1008.9,1415.0 1027.2,1420.0 1045.5,1424.3 1063.8,1426.8 1082.1,1422.0 1100.4,1425.3 1118.7,1432.1 1137.0,1422.5 1155.3,1428.8 1173.6,1427.9 1191.9,1430.8 1210.2,1429.5 1228.5,1432.0 1246.8,1437.1 1265.1,1431.2 1283.4,1431.0 1301.7,1436.6 1320.0,1438.3 1338.3,1439.8 1356.6,1440.6 1374.9,1440.7 1393.2,1436.1 1411.5,1443.0"/>
<polyline stroke="#38588c" points="258.7,1135.6 277.0,1220.2 295.3,1253.3 313.6,1299.6 331.9,1317.3 350.2,1328.8 368.5,1339.5 386.8,1345.9 405.1,1345.8 423.4,1347.8 441.7,1354.4 460.0,1355.4 478.3,1359.7 496.6,1359.3 514.9,1360.3 533.2,1369.5 551.5,1369.7 569.8,1379.7 588.1,1383.8 606.4,1385.0 624.7,1386.6 643.0,1393.9 661.3,1394.4 679.6,1401.4 697.8,1399.1 716.1,1390.4 734.4,1403.6 752.7,1403.9 771.0,1405.5 789.3,1406.0 807.6,1415.5 825.9,1403.4 844.2,1409.6 862.5,1413.3 880.8,1418.2 899.1,1416.5 917.4,1418.2 935.7,1413.9 954.0,1417.5 972.3,1425.8 990.6,1420.9 1008.9,1420.4 1027.2,1423.7 1045.5,1425.9 1063.8,1428.8 1082.1,1420.4 1100.4,1428.2 1118.7,1432.3 1137.0,1427.1 1155.3,1429.9 1173.6,1426.2 1191.9,1429.8 1210.2,1434.0 1228.5,1430.9 1246.8,1438.8 1265.1,1432.8 1283.4,1430.3 1301.7,1437.2 1320.0,1437.0 1338.3,1440.0 1356.6,1444.2 1374.9,1441.0 1393.2,1438.9 1411.5,1445.9"/>
<polyline stroke="#3a548c" points="258.7,1135.4 277.0,1221.8 295.3,1255.9 313.6,1302.4 331.9,1322.0 350.2,1331.8 368.5,1344.1 386.8,1346.4 405.1,1345.3 423.4,1347.8 441.7,1355.6 460.0,1357.5 478.3,1360.8 496.6,1360.1 514.9,1360.1 533.2,1367.5 551.5,1371.7 569.8,1376.1 588.1,1387.8 606.4,1385.6 624.7,1386.5 643.0,1394.1 661.3,1394.2 679.6,1402.0 697.8,1399.0 716.1,1392.0 734.4,1403.4 752.7,1402.4 771.0,1402.3 789.3,1407.0 807.6,1416.7 825.9,1405.8 844.2,1408.8 862.5,1414.1 880.8,1418.3 899.1,1414.2 917.4,1419.5 935.7,1414.4 954.0,1418.6 972.3,1425.4 990.6,1418.6 1008.9,1422.5 1027.2,1424.7 1045.5,1427.2 1063.8,1429.9 1082.1,1426.8 1100.4,1426.8 1118.7,1432.1 1137.0,1430.0 1155.3,1427.1 1173.6,1430.5 1191.9,1433.8 1210.2,1431.2 1228.5,1430.7 1246.8,1439.2 1265.1,1433.1 1283.4,1426.9 1301.7,1436.2 1320.0,1437.7 1338.3,1440.2 1356.6,1439.8 1374.9,1442.3 1393.2,1440.9 1411.5,1445.4"/>
<polyline stroke="#3c508b" points="258.7,1136.0 277.0,1222.9 295.3,1257.0 313.6,1306.9 331.9,1325.8 350.2,1333.9 368.5,1344.9 386.8,1346.2 405.1,1347.6 423.4,1346.7 441.7,1352.3 460.0,1358.9 478.3,1361.5 496.6,1359.4 514.9,1361.8 533.2,1369.5 551.5,1377.7 569.8,1379.9 588.1,1386.5 606.4,1387.7 624.7,1391.9 643.0,1394.1 661.3,1390.4 679.6,1401.6 697.8,1398.9 716.1,1393.2 734.4,1405.3 752.7,1402.2 771.0,1407.5 789.3,1409.2 807.6,1414.5 825.9,1409.0 844.2,1410.5 862.5,1416.5 880.8,1418.3 899.1,1419.4 917.4,1421.2 935.7,1417.3 954.0,1420.3 972.3,1425.1 990.6,1421.4 1008.9,1422.2 1027.2,1424.4 1045.5,1431.9 1063.8,1432.8 1082.1,1425.2 1100.4,1424.7 1118.7,1431.1 1137.0,1429.3 1155.3,1427.0 1173.6,1430.2 1191.9,1429.7 1210.2,1433.1 1228.5,1431.1 1246.8,1438.8 1265.1,1431.3 1283.4,1430.8 1301.7,1439.7 1320.0,1436.3 1338.3,1442.3 1356.6,1437.3 1374.9,1440.9 1393.2,1442.1 1411.5,1444.1"/>
<polyline stroke="#3d4d8a" points="258.7,1137.1 277.0,1226.5 295.3,1260.7 313.6,1308.6 331.9,1325.8 350.2,1334.6 368.5,1345.3 386.8,1346.6 405.1,1344.5 423.4,1344.0 441.7,1352.7 460.0,1360.2 478.3,1366.4 496.6,1359.9 514.9,1362.3 533.2,1371.7 551.5,1376.6 569.8,1380.4 588.1,1386.8 606.4,1384.2 624.7,1390.4 643.0,1390.9 661.3,1396.0 679.6,1398.7 697.8,1399.3 716.1,1399.3 734.4,1403.8 752.7,1404.8 771.0,1408.2 789.3,1405.8 807.6,1410.0 825.9,1407.6 844.2,1411.2 862.5,1413.3 880.8,1416.3 899.1,1418.7 917.4,1420.8 935.7,1421.1 954.0,1417.8 972.3,1425.7 990.6,1424.3 1008.9,1423.0 1027.2,1422.4 1045.5,1433.1 1063.8,1433.7 1082.1,1425.9 1100.4,1426.6 1118.7,1432.2 1137.0,1429.8 1155.3,1430.2 1173.6,1434.9 1191.9,1428.0 1210.2,1432.0 1228.5,1432.6 1246.8,1440.4 1265.1,1436.4 1283.4,1429.7 1301.7,1439.3 1320.0,1438.9 1338.3,1443.5 1356.6,1439.4 1374.9,1443.0 1393.2,1442.3 1411.5,1448.1"/>
<polyline stroke="#3e4989" points="258.7,1138.5 277.0,1226.9 295.3,1261.5 313.6,1309.9 331.9,1328.7 350.2,1337.8 368.5,1348.8 386.8,1349.5 405.1,1348.9 423.4,1342.8 441.7,1351.3 460.0,1362.0 478.3,1365.9 496.6,1363.3 514.9,1365.5 533.2,1375.6 551.5,1376.6 569.8,1378.8 588.1,1385.5 606.4,1385.6 624.7,1386.8 643.0,1396.8 661.3,1395.0 679.6,1402.2 697.8,1402.1 716.1,1397.8 734.4,1404.9 752.7,1407.3 771.0,1411.0 789.3,1404.0 807.6,1411.4 825.9,1409.0 844.2,1411.6 862.5,1414.0 880.8,1417.6 899.1,1418.0 917.4,1422.7 935.7,1420.0 954.0,1414.7 972.3,1425.7 990.6,1422.9 1008.9,1427.1 1027.2,1424.6 1045.5,1433.1 1063.8,1432.0 1082.1,1424.6 1100.4,1430.1 1118.7,1433.8 1137.0,1431.5 1155.3,1431.1 1173.6,1438.0 1191.9,1431.5 1210.2,1435.4 1228.5,1434.8 1246.8,1436.9 1265.1,1435.4 1283.4,1431.1 1301.7,1440.1 1320.0,1436.0 1338.3,1441.6 1356.6,1439.9 1374.9,1446.4 1393.2,1441.0 1411.5,1449.0"/>
<polyline stroke="#404588" points="258.7,1139.9 277.0,1228.3 295.3,1266.1 313.6,1312.1 331.9,1330.5 350.2,1339.3 368.5,1352.0 386.8,1351.1 405.1,1352.2 423.4,1346.1 441.7,1350.5 460.0,1363.1 478.3,1365.8 496.6,1366.3 514.9,1367.4 533.2,1375.8 551.5,1375.4 569.8,1377.7 588.1,1389.8 606.4,1384.3 624.7,1389.1 643.0,1398.1 661.3,1390.8 679.6,1402.7 697.8,1401.4 716.1,1397.6 734.4,1406.7 752.7,1409.7 771.0,1410.2 789.3,1411.6 807.6,1413.7 825.9,1408.4 844.2,1413.6 862.5,1419.6 880.8,1422.2 899.1,1415.0 917.4,1417.7 935.7,1420.4 954.0,1416.3 972.3,1429.8 990.6,1421.4 1008.9,1428.1 1027.2,1428.5 1045.5,1431.6 1063.8,1432.4 1082.1,1426.4 1100.4,1431.9 1118.7,1438.5 1137.0,1428.3 1155.3,1426.9 1173.6,1434.0 1191.9,1429.3 1210.2,1434.5 1228.5,1433.3 1246.8,1440.2 1265.1,1436.5 1283.4,1432.7 1301.7,1441.1 1320.0,1438.6 1338.3,1438.6 1356.6,1439.5 1374.9,1445.6 1393.2,1443.9 1411.5,1450.0"/>
<polyline stroke="#424186" points="258.7,1139.6 277.0,1230.5 295.3,1270.6 313.6,1315.1 331.9,1335.0 350.2,1341.3 368.5,1354.1 386.8,1355.2 405.1,1352.2 423.4,1344.7 441.7,1354.3 460.0,1363.1 478.3,1365.2 496.6,1367.6 514.9,1370.3 533.2,1372.7 551.5,1377.0 569.8,1383.5 588.1,1389.8 606.4,1384.1 624.7,1390.8 643.0,1395.3 661.3,1394.6 679.6,1403.9 697.8,1400.9 716.1,1397.8 734.4,1403.7 752.7,1406.9 771.0,1407.4 789.3,1409.6 807.6,1413.0 825.9,1406.8 844.2,1415.3 862.5,1417.4 880.8,1424.5 899.1,1414.4 917.4,1420.2 935.7,1421.4 954.0,1420.0 972.3,1430.8 990.6,1423.2 1008.9,1429.7 1027.2,1427.9 1045.5,1426.9 1063.8,1433.9 1082.1,1425.0 1100.4,1430.9 1118.7,1433.1 1137.0,1430.2 1155.3,1429.6 1173.6,1433.1 1191.9,1429.6 1210.2,1434.3 1228.5,1437.2 1246.8,1439.7 1265.1,1441.1 1283.4,1431.8 1301.7,1444.3 1320.0,1439.8 1338.3,1437.8 1356.6,1440.5 1374.9,1444.0 1393.2,1444.4 1411.5,1450.0"/>
<polyline stroke="#433d84" points="258.7,1141.7 277.0,1231.4 295.3,1274.3 313.6,1315.7 331.9,1337.3 350.2,1342.6 368.5,1354.3 386.8,1352.0 405.1,1350.5 423.4,1349.3 441.7,1355.8 460.0,1361.7 478.3,1365.0 496.6,1367.9 514.9,1369.2 533.2,1373.3 551.5,1377.3 569.8,1380.1 588.1,1389.8 606.4,1382.4 624.7,1389.7 643.0,1394.6 661.3,1398.3 679.6,1402.0 697.8,1402.2 716.1,1400.1 734.4,1401.0 752.7,1406.4 771.0,1407.5 789.3,1409.2 807.6,1415.6 825.9,1408.2 844.2,1414.7 862.5,1421.1 880.8,1425.5 899.1,1422.0 917.4,1419.9 935.7,1421.7 954.0,1423.7 972.3,1427.1 990.6,1424.1 1008.9,1432.3 1027.2,1426.4 1045.5,1429.8 1063.8,1430.6 1082.1,1424.0 1100.4,1429.2 1118.7,1435.8 1137.0,1432.2 1155.3,1427.6 1173.6,1430.8 1191.9,1435.3 1210.2,1434.6 1228.5,1434.5 1246.8,1441.8 1265.1,1440.7 1283.4,1434.7 1301.7,1443.1 1320.0,1439.7 1338.3,1438.0 1356.6,1438.6 1374.9,1445.3 1393.2,1444.6 1411.5,1450.0"/>
<polyline stroke="#443983" points="258.7,1143.8 277.0,1232.4 295.3,1273.9 313.6,1316.4 331.9,1338.2 350.2,1341.0 368.5,1353.5 386.8,1352.6 405.1,1347.6 423.4,1345.9 441.7,1358.7 460.0,1362.0 478.3,1370.1 496.6,1366.2 514.9,1370.3 533.2,1376.1 551.5,1375.7 569.8,1382.2 588.1,1387.1 606.4,1384.2 624.7,1390.6 643.0,1392.0 661.3,1393.4 679.6,1406.3 697.8,1400.6 716.1,1403.1 734.4,1404.5 752.7,1403.5 771.0,1407.7 789.3,1413.5 807.6,1418.1 825.9,1411.1 844.2,1419.6 862.5,1418.2 880.8,1421.4 899.1,1421.5 917.4,1421.0 935.7,1424.1 954.0,1423.7 972.3,1424.7 990.6,1422.6 1008.9,1428.7 1027.2,1426.4 1045.5,1429.1 1063.8,1431.0 1082.1,1429.9 1100.4,1429.9 1118.7,1439.0 1137.0,1431.6 1155.3,1426.5 1173.6,1433.9 1191.9,1436.1 1210.2,1433.1 1228.5,1438.0 1246.8,1445.2 1265.1,1436.3 1283.4,1436.6 1301.7,1443.5 1320.0,1440.2 1338.3,1439.9 1356.6,1438.2 1374.9,1445.8 1393.2,1443.0 1411.5,1449.0"/>
<polyline stroke="#453581" points="258.7,1144.0 277.0,1235.2 295.3,1275.8 313.6,1318.6 331.9,1337.7 350.2,1343.3 368.5,1351.8 386.8,1351.4 405.1,1350.5 423.4,1351.1 441.7,1359.1 460.0,1361.8 478.3,1368.1 496.6,1368.0 514.9,1370.1 533.2,1375.3 551.5,1373.9 569.8,1378.3 588.1,1381.4 606.4,1388.8 624.7,1391.6 643.0,1395.3 661.3,1394.9 679.6,1404.5 697.8,1401.3 716.1,1403.0 734.4,1405.7 752.7,1406.8 771.0,1414.0 789.3,1414.1 807.6,1420.4 825.9,1408.5 844.2,1417.7 862.5,1422.6 880.8,1425.5 899.1,1423.6 917.4,1419.2 935.7,1422.7 954.0,1427.5 972.3,1424.8 990.6,1428.1 1008.9,1429.3 1027.2,1428.8 1045.5,1429.2 1063.8,1434.5 1082.1,1434.6 1100.4,1432.7 1118.7,1437.7 1137.0,1429.6 1155.3,1426.1 1173.6,1433.1 1191.9,1439.0 1210.2,1433.4 1228.5,1438.2 1246.8,1445.2 1265.1,1438.5 1283.4,1437.5 1301.7,1442.4 1320.0,1443.9 1338.3,1442.0 1356.6,1440.4 1374.9,1446.1 1393.2,1445.4 1411.5,1450.0"/>
<polyline stroke="#46327e" points="258.7,1143.3 277.0,1236.6 295.3,1277.9 313.6,1319.9 331.9,1339.3 350.2,1345.0 368.5,1354.2 386.8,1353.6 405.1,1349.8 423.4,1354.2 441.7,1357.0 460.0,1364.4 478.3,1367.6 496.6,1369.1 514.9,1369.8 533.2,1375.8 551.5,1376.4 569.8,1379.3 588.1,1382.9 606.4,1387.0 624.7,1385.7 643.0,1393.2 661.3,1393.4 679.6,1404.3 697.8,1396.2 716.1,1401.5 734.4,1402.5 752.7,1410.7 771.0,1410.0 789.3,1411.3 807.6,1419.2 825.9,1411.2 844.2,1417.2 862.5,1417.8 880.8,1422.8 899.1,1424.7 917.4,1421.8 935.7,1421.0 954.0,1427.4 972.3,1425.3 990.6,1426.3 1008.9,1426.3 1027.2,1428.0 1045.5,1426.4 1063.8,1434.5 1082.1,1431.7 1100.4,1434.3 1118.7,1439.9 1137.0,1432.0 1155.3,1426.7 1173.6,1432.6 1191.9,1435.8 1210.2,1437.0 1228.5,1440.7 1246.8,1443.8 1265.1,1439.3 1283.4,1436.3 1301.7,1441.3 1320.0,1443.3 1338.3,1439.7 1356.6,1441.9 1374.9,1445.4 1393.2,1442.0 1411.5,1449.7"/>
<polyline stroke="#472d7b" points="258.7,1144.9 277.0,1235.7 295.3,1278.8 313.6,1322.3 331.9,1340.0 350.2,1347.4 368.5,1353.9 386.8,1354.6 405.1,1349.3 423.4,1351.2 441.7,1353.0 460.0,1360.6 478.3,1366.4 496.6,1369.1 514.9,1369.9 533.2,1377.3 551.5,1376.7 569.8,1375.5 588.1,1382.6 606.4,1388.1 624.7,1387.7 643.0,1395.2 661.3,1395.5 679.6,1407.4 697.8,1398.8 716.1,1405.4 734.4,1405.0 752.7,1406.6 771.0,1408.0 789.3,1409.4 807.6,1414.7 825.9,1413.3 844.2,1415.9 862.5,1420.3 880.8,1419.2 899.1,1423.4 917.4,1420.2 935.7,1420.6 954.0,1424.2 972.3,1425.9 990.6,1426.9 1008.9,1428.4 1027.2,1428.8 1045.5,1427.9 1063.8,1432.6 1082.1,1433.5 1100.4,1435.1 1118.7,1437.1 1137.0,1431.1 1155.3,1426.0 1173.6,1431.4 1191.9,1434.2 1210.2,1436.3 1228.5,1439.9 1246.8,1442.8 1265.1,1441.8 1283.4,1440.2 1301.7,1439.0 1320.0,1444.3 1338.3,1441.2 1356.6,1442.0 1374.9,1446.2 1393.2,1443.0 1411.5,1448.2"/>
<polyline stroke="#482979" points="258.7,1146.0 277.0,1237.6 295.3,1281.8 313.6,1326.1 331.9,1340.0 350.2,1348.9 368.5,1352.5 386.8,1357.1 405.1,1347.5 423.4,1348.1 441.7,1356.0 460.0,1362.1 478.3,1370.0 496.6,1363.3 514.9,1370.0 533.2,1376.9 551.5,1377.5 569.8,1377.9 588.1,1378.1 606.4,1389.2 624.7,1388.3 643.0,1392.4 661.3,1393.0 679.6,1407.4 697.8,1401.2 716.1,1402.6 734.4,1406.7 752.7,1406.9 771.0,1407.3 789.3,1409.3 807.6,1418.8 825.9,1415.3 844.2,1416.6 862.5,1416.8 880.8,1422.4 899.1,1422.1 917.4,1419.4 935.7,1417.2 954.0,1427.5 972.3,1426.0 990.6,1426.5 1008.9,1430.6 1027.2,1432.5 1045.5,1426.7 1063.8,1433.1 1082.1,1432.4 1100.4,1433.5 1118.7,1435.8 1137.0,1432.0 1155.3,1428.0 1173.6,1431.8 1191.9,1435.0 1210.2,1440.3 1228.5,1436.0 1246.8,1441.2 1265.1,1440.4 1283.4,1439.5 1301.7,1440.6 1320.0,1444.1 1338.3,1442.1 1356.6,1443.2 1374.9,1448.0 1393.2,1443.7 1411.5,1447.9"/>
<polyline stroke="#482576" points="258.7,1147.4 277.0,1238.5 295.3,1283.3 313.6,1326.3 331.9,1344.3 350.2,1347.4 368.5,1357.5 386.8,1357.5 405.1,1351.0 423.4,1345.3 441.7,1356.0 460.0,1359.9 478.3,1370.1 496.6,1364.8 514.9,1375.2 533.2,1374.8 551.5,1375.3 569.8,1378.2 588.1,1382.4 606.4,1385.2 624.7,1386.9 643.0,1393.8 661.3,1392.5 679.6,1407.4 697.8,1399.7 716.1,1399.9 734.4,1409.2 752.7,1409.0 771.0,1411.5 789.3,1412.0 807.6,1417.9 825.9,1415.4 844.2,1416.2 862.5,1419.7 880.8,1421.8 899.1,1420.0 917.4,1420.9 935.7,1420.3 954.0,1427.5 972.3,1424.4 990.6,1430.2 1008.9,1431.4 1027.2,1429.3 1045.5,1428.6 1063.8,1432.8 1082.1,1431.8 1100.4,1435.1 1118.7,1434.6 1137.0,1436.5 1155.3,1425.6 1173.6,1434.2 1191.9,1435.7 1210.2,1439.9 1228.5,1440.2 1246.8,1440.8 1265.1,1440.2 1283.4,1439.4 1301.7,1443.8 1320.0,1445.3 1338.3,1438.3 1356.6,1445.4 1374.9,1448.0 1393.2,1443.7 1411.5,1448.5"/>
<polyline stroke="#482071" points="258.7,1147.3 277.0,1239.6 295.3,1285.6 313.6,1325.6 331.9,1344.4 350.2,1351.0 368.5,1354.7 386.8,1356.6 405.1,1349.2 423.4,1344.9 441.7,1357.9 460.0,1367.3 478.3,1368.1 496.6,1363.2 514.9,1372.8 533.2,1376.8 551.5,1375.8 569.8,1376.3 588.1,1383.4 606.4,1390.7 624.7,1389.7 643.0,1389.6 661.3,1392.1 679.6,1407.4 697.8,1396.8 716.1,1401.5 734.4,1411.3 752.7,1406.6 771.0,1407.9 789.3,1413.9 807.6,1418.3 825.9,1415.1 844.2,1419.3 862.5,1420.4 880.8,1421.6 899.1,1417.6 917.4,1420.5 935.7,1422.0 954.0,1427.5 972.3,1427.1 990.6,1426.3 1008.9,1429.0 1027.2,1428.9 1045.5,1430.2 1063.8,1432.1 1082.1,1432.2 1100.4,1433.8 1118.7,1439.4 1137.0,1434.8 1155.3,1432.8 1173.6,1436.4 1191.9,1439.0 1210.2,1440.4 1228.5,1438.9 1246.8,1441.7 1265.1,1440.6 1283.4,1439.6 1301.7,1442.5 1320.0,1446.4 1338.3,1438.6 1356.6,1446.1 1374.9,1444.8 1393.2,1442.2 1411.5,1449.3"/>
<polyline stroke="#481c6e" points="258.7,1148.8 277.0,1240.8 295.3,1287.6 313.6,1327.4 331.9,1343.8 350.2,1352.9 368.5,1354.8 386.8,1361.0 405.1,1348.6 423.4,1342.3 441.7,1362.6 460.0,1363.5 478.3,1370.1 496.6,1364.7 514.9,1371.2 533.2,1375.8 551.5,1376.3 569.8,1381.5 588.1,1381.6 606.4,1390.9 624.7,1391.6 643.0,1390.8 661.3,1395.1 679.6,1407.4 697.8,1397.9 716.1,1402.3 734.4,1411.6 752.7,1405.6 771.0,1412.5 789.3,1416.8 807.6,1419.5 825.9,1414.0 844.2,1418.8 862.5,1419.6 880.8,1422.4 899.1,1421.4 917.4,1423.5 935.7,1420.6 954.0,1427.5 972.3,1429.8 990.6,1423.6 1008.9,1429.3 1027.2,1429.8 1045.5,1428.2 1063.8,1431.1 1082.1,1429.8 1100.4,1433.5 1118.7,1439.5 1137.0,1433.9 1155.3,1432.6 1173.6,1437.3 1191.9,1438.2 1210.2,1440.5 1228.5,1441.3 1246.8,1441.6 1265.1,1440.2 1283.4,1438.8 1301.7,1442.6 1320.0,1446.6 1338.3,1443.8 1356.6,1447.1 1374.9,1445.7 1393.2,1445.7 1411.5,1447.9"/>
<polyline stroke="#48186a" points="258.7,1148.6 277.0,1241.9 295.3,1288.9 313.6,1327.3 331.9,1345.3 350.2,1354.9 368.5,1353.6 386.8,1361.1 405.1,1349.0 423.4,1346.4 441.7,1359.1 460.0,1363.8 478.3,1366.7 496.6,1363.5 514.9,1369.8 533.2,1377.0 551.5,1377.7 569.8,1382.1 588.1,1384.1 606.4,1387.8 624.7,1392.0 643.0,1391.8 661.3,1396.4 679.6,1407.4 697.8,1398.8 716.1,1401.2 734.4,1410.7 752.7,1403.7 771.0,1413.3 789.3,1412.0 807.6,1420.5 825.9,1415.4 844.2,1419.5 862.5,1420.4 880.8,1422.4 899.1,1425.0 917.4,1424.7 935.7,1419.1 954.0,1427.5 972.3,1428.9 990.6,1430.3 1008.9,1427.4 1027.2,1427.7 1045.5,1429.2 1063.8,1431.9 1082.1,1431.1 1100.4,1428.9 1118.7,1437.3 1137.0,1434.2 1155.3,1432.5 1173.6,1440.1 1191.9,1438.6 1210.2,1441.5 1228.5,1443.5 1246.8,1439.4 1265.1,1438.5 1283.4,1441.6 1301.7,1442.8 1320.0,1444.5 1338.3,1441.7 1356.6,1444.1 1374.9,1442.3 1393.2,1445.7 1411.5,1447.7"/>
<polyline stroke="#481467" points="258.7,1149.2 277.0,1242.9 295.3,1291.7 313.6,1326.4 331.9,1346.8 350.2,1357.0 368.5,1357.7 386.8,1362.0 405.1,1351.2 423.4,1349.2 441.7,1356.4 460.0,1365.0 478.3,1368.8 496.6,1364.6 514.9,1371.5 533.2,1378.8 551.5,1378.1 569.8,1382.0 588.1,1387.0 606.4,1389.8 624.7,1393.1 643.0,1392.6 661.3,1400.1 679.6,1407.4 697.8,1402.0 716.1,1399.9 734.4,1410.1 752.7,1408.8 771.0,1414.5 789.3,1414.7 807.6,1418.1 825.9,1415.4 844.2,1420.1 862.5,1420.7 880.8,1419.9 899.1,1425.4 917.4,1422.7 935.7,1422.5 954.0,1427.5 972.3,1427.6 990.6,1430.7 1008.9,1430.9 1027.2,1429.1 1045.5,1433.1 1063.8,1429.9 1082.1,1431.6 1100.4,1430.1 1118.7,1438.0 1137.0,1434.0 1155.3,1429.7 1173.6,1437.4 1191.9,1438.7 1210.2,1439.1 1228.5,1443.5 1246.8,1437.2 1265.1,1442.2 1283.4,1442.2 1301.7,1443.1 1320.0,1444.4 1338.3,1444.2 1356.6,1444.3 1374.9,1441.6 1393.2,1445.7 1411.5,1448.6"/>
<polyline stroke="#470e61" points="258.7,1149.4 277.0,1243.8 295.3,1292.7 313.6,1327.9 331.9,1346.8 350.2,1358.3 368.5,1359.9 386.8,1362.6 405.1,1351.3 423.4,1348.6 441.7,1356.8 460.0,1368.0 478.3,1367.9 496.6,1365.9 514.9,1368.9 533.2,1378.5 551.5,1378.1 569.8,1378.0 588.1,1389.4 606.4,1394.6 624.7,1391.8 643.0,1390.5 661.3,1399.8 679.6,1407.4 697.8,1396.0 716.1,1402.2 734.4,1409.4 752.7,1409.9 771.0,1413.0 789.3,1410.8 807.6,1418.6 825.9,1415.4 844.2,1414.5 862.5,1419.2 880.8,1422.9 899.1,1425.1 917.4,1422.9 935.7,1422.9 954.0,1427.5 972.3,1427.9 990.6,1431.7 1008.9,1431.8 1027.2,1429.3 1045.5,1432.1 1063.8,1431.9 1082.1,1429.7 1100.4,1434.3 1118.7,1441.0 1137.0,1434.8 1155.3,1431.1 1173.6,1435.6 1191.9,1438.6 1210.2,1439.2 1228.5,1443.5 1246.8,1442.8 1265.1,1442.9 1283.4,1438.4 1301.7,1441.0 1320.0,1443.9 1338.3,1441.2 1356.6,1444.7 1374.9,1442.3 1393.2,1445.7 1411.5,1450.0"/>
<polyline stroke="#460a5d" points="258.7,1149.6 277.0,1244.1 295.3,1293.1 313.6,1327.6 331.9,1347.3 350.2,1359.9 368.5,1358.6 386.8,1359.8 405.1,1348.1 423.4,1353.3 441.7,1358.0 460.0,1366.7 478.3,1366.6 496.6,1370.8 514.9,1371.4 533.2,1376.5 551.5,1379.2 569.8,1379.8 588.1,1388.3 606.4,1394.4 624.7,1393.9 643.0,1391.6 661.3,1397.8 679.6,1407.4 697.8,1398.2 716.1,1401.8 734.4,1411.1 752.7,1411.4 771.0,1410.6 789.3,1412.2 807.6,1420.3 825.9,1415.4 844.2,1414.2 862.5,1420.8 880.8,1419.8 899.1,1426.4 917.4,1422.1 935.7,1422.7 954.0,1427.5 972.3,1429.9 990.6,1428.9 1008.9,1430.2 1027.2,1431.3 1045.5,1432.8 1063.8,1429.8 1082.1,1430.3 1100.4,1435.1 1118.7,1441.0 1137.0,1436.4 1155.3,1435.7 1173.6,1435.1 1191.9,1439.4 1210.2,1440.6 1228.5,1440.9 1246.8,1445.2 1265.1,1440.8 1283.4,1434.4 1301.7,1440.0 1320.0,1442.2 1338.3,1444.4 1356.6,1443.4 1374.9,1445.6 1393.2,1445.7 1411.5,1450.0"/>
<polyline stroke="#450559" points="258.7,1149.8 277.0,1243.5 295.3,1296.3 313.6,1329.4 331.9,1349.2 350.2,1357.4 368.5,1358.0 386.8,1359.5 405.1,1349.0 423.4,1350.6 441.7,1356.7 460.0,1365.1 478.3,1369.1 496.6,1364.5 514.9,1372.8 533.2,1382.1 551.5,1379.4 569.8,1377.8 588.1,1386.7 606.4,1394.8 624.7,1395.2 643.0,1395.9 661.3,1395.0 679.6,1407.4 697.8,1400.4 716.1,1399.6 734.4,1412.1 752.7,1414.3 771.0,1414.9 789.3,1416.7 807.6,1418.6 825.9,1415.4 844.2,1418.3 862.5,1419.2 880.8,1420.4 899.1,1424.7 917.4,1422.7 935.7,1425.7 954.0,1426.6 972.3,1428.0 990.6,1426.6 1008.9,1432.6 1027.2,1432.5 1045.5,1433.0 1063.8,1432.4 1082.1,1434.9 1100.4,1434.1 1118.7,1441.0 1137.0,1436.5 1155.3,1433.8 1173.6,1432.0 1191.9,1440.1 1210.2,1441.5 1228.5,1440.5 1246.8,1445.2 1265.1,1443.2 1283.4,1434.7 1301.7,1439.8 1320.0,1441.9 1338.3,1443.3 1356.6,1444.3 1374.9,1440.7 1393.2,1445.7 1411.5,1450.0"/>
<polyline stroke="#440154" points="258.7,1149.5 277.0,1242.2 295.3,1298.2 313.6,1331.0 331.9,1346.9 350.2,1357.0 368.5,1357.1 386.8,1360.2 405.1,1348.2 423.4,1350.6 441.7,1357.0 460.0,1365.5 478.3,1366.5 496.6,1369.1 514.9,1372.7 533.2,1381.4 551.5,1378.3 569.8,1382.9 588.1,1389.8 606.4,1394.8 624.7,1395.2 643.0,1394.7 661.3,1397.0 679.6,1407.4 697.8,1397.9 716.1,1399.9 734.4,1410.5 752.7,1414.3 771.0,1412.4 789.3,1417.1 807.6,1415.7 825.9,1414.8 844.2,1417.6 862.5,1420.9 880.8,1420.0 899.1,1425.1 917.4,1418.8 935.7,1425.1 954.0,1426.6 972.3,1429.2 990.6,1428.0 1008.9,1432.6 1027.2,1433.5 1045.5,1433.1 1063.8,1433.2 1082.1,1434.4 1100.4,1431.8 1118.7,1441.0 1137.0,1434.0 1155.3,1434.8 1173.6,1434.8 1191.9,1439.5 1210.2,1438.8 1228.5,1441.0 1246.8,1445.2 1265.1,1441.2 1283.4,1434.6 1301.7,1441.0 1320.0,1440.3 1338.3,1440.8 1356.6,1447.1 1374.9,1441.0 1393.2,1445.7 1411.5,1449.4"/>
</g>
<polyline fill="none" stroke="#ff0000" stroke-width="2.5" stroke-dasharray="10.4 4.5" stroke-linejoin="round" points="258.7,1153.3 277.0,1247.9 295.3,1302.0 313.6,1335.4 331.9,1350.6 350.2,1361.8 368.5,1364.4 386.8,1363.7 405.1,1354.5 423.4,1355.4 441.7,1364.8 460.0,1370.5 478.3,1371.1 496.6,1371.9 514.9,1380.4 533.2,1383.3 551.5,1384.7 569.8,1389.5 588.1,1391.0 606.4,1396.1 624.7,1396.6 643.0,1399.5 661.3,1401.5 679.6,1408.9 697.8,1407.4 716.1,1407.4 734.4,1413.7 752.7,1416.0 771.0,1416.5 789.3,1418.8 807.6,1422.2 825.9,1417.1 844.2,1422.2 862.5,1425.6 880.8,1427.3 899.1,1430.2 917.4,1430.2 935.7,1429.3 954.0,1429.3 972.3,1433.6 990.6,1433.6 1008.9,1434.5 1027.2,1435.6 1045.5,1435.0 1063.8,1436.5 1082.1,1437.9 1100.4,1439.3 1118.7,1443.0 1137.0,1440.2 1155.3,1439.3 1173.6,1443.0 1191.9,1442.2 1210.2,1443.6 1228.5,1445.6 1246.8,1447.2 1265.1,1445.8 1283.4,1445.0 1301.7,1446.4 1320.0,1448.7 1338.3,1447.8 1356.6,1449.2 1374.9,1450.1 1393.2,1447.8 1411.5,1452.1"/>
<polyline fill="none" stroke="#ee82ee" stroke-width="2.5" stroke-dasharray="10.4 4.5" stroke-linejoin="round" points="258.7,1143.6 277.0,1241.1 295.3,1306.1 313.6,1364.7 331.9,1410.4 350.2,1449.0 368.5,1483.6 386.8,1521.6 405.1,1553.2 423.4,1577.3 441.7,1597.7 460.0,1608.3 478.3,1615.3 496.6,1618.2 514.9,1620.1 533.2,1621.2 551.5,1621.6 569.8,1622.0 588.1,1622.2 606.4,1622.3 624.7,1622.4 643.0,1622.5 661.3,1622.6 679.6,1622.7 697.8,1622.7 716.1,1622.8 734.4,1622.8 752.7,1622.9 771.0,1622.9 789.3,1622.9 807.6,1623.0 825.9,1623.0 844.2,1623.0 862.5,1623.0 880.8,1623.1 899.1,1623.1 917.4,1623.1 935.7,1623.1 954.0,1623.2 972.3,1623.2 990.6,1623.2 1008.9,1623.2 1027.2,1623.3 1045.5,1623.3 1063.8,1623.3 1082.1,1623.3 1100.4,1623.3 1118.7,1623.4 1137.0,1623.4 1155.3,1623.4 1173.6,1623.4 1191.9,1623.4 1210.2,1623.4 1228.5,1623.5 1246.8,1623.5 1265.1,1623.5 1283.4,1623.5 1301.7,1623.5 1320.0,1623.5 1338.3,1623.5 1356.6,1623.5 1374.9,1623.5 1393.2,1623.5 1411.5,1623.5"/>
<rect x="201.5" y="1017.4" width="1267.9" height="635.2" fill="none" stroke="#444" stroke-width="1.2"/>
<line x1="240.4" y1="1652.6" x2="240.4" y2="1657.1" stroke="#222" stroke-width="1"/>
<text x="240.4" y="1683.6" font-size="28.4" text-anchor="middle">0</text>
<line x1="423.38" y1="1652.6" x2="423.38" y2="1657.1" stroke="#222" stroke-width="1"/>
<text x="423.38" y="1683.6" font-size="28.4" text-anchor="middle">10</text>
<line x1="606.36" y1="1652.6" x2="606.36" y2="1657.1" stroke="#222" stroke-width="1"/>
<text x="606.36" y="1683.6" font-size="28.4" text-anchor="middle">20</text>
<line x1="789.34" y1="1652.6" x2="789.34" y2="1657.1" stroke="#222" stroke-width="1"/>
<text x="789.34" y="1683.6" font-size="28.4" text-anchor="middle">30</text>
<line x1="972.32" y1="1652.6" x2="972.32" y2="1657.1" stroke="#222" stroke-width="1"/>
<text x="972.32" y="1683.6" font-size="28.4" text-anchor="middle">40</text>
<line x1="1155.3" y1="1652.6" x2="1155.3" y2="1657.1" stroke="#222" stroke-width="1"/>
<text x="1155.3" y="1683.6" font-size="28.4" text-anchor="middle">50</text>
<line x1="1338.28" y1="1652.6" x2="1338.28" y2="1657.1" stroke="#222" stroke-width="1"/>
<text x="1338.28" y="1683.6" font-size="28.4" text-anchor="middle">60</text>
<line x1="197" y1="1624.1" x2="201.5" y2="1624.1" stroke="#222" stroke-width="1"/>
<text x="193.5" y="1636.1" font-size="28.4" text-anchor="end">0.0</text>
<line x1="197" y1="1506.98" x2="201.5" y2="1506.98" stroke="#222" stroke-width="1"/>
<text x="193.5" y="1518.98" font-size="28.4" text-anchor="end">0.2</text>
<line x1="197" y1="1389.86" x2="201.5" y2="1389.86" stroke="#222" stroke-width="1"/>
<text x="193.5" y="1401.86" font-size="28.4" text-anchor="end">0.4</text>
<line x1="197" y1="1272.74" x2="201.5" y2="1272.74" stroke="#222" stroke-width="1"/>
<text x="193.5" y="1284.74" font-size="28.4" text-anchor="end">0.6</text>
<line x1="197" y1="1155.62" x2="201.5" y2="1155.62" stroke="#222" stroke-width="1"/>
<text x="193.5" y="1167.62" font-size="28.4" text-anchor="end">0.8</text>
<line x1="197" y1="1038.5" x2="201.5" y2="1038.5" stroke="#222" stroke-width="1"/>
<text x="193.5" y="1050.5" font-size="28.4" text-anchor="end">1.0</text>
<text x="233.2" y="1011.2" font-size="39.41" text-anchor="start">Test Time Dynamics for ResNet18 on Cifar100 With No Noise</text>
<text x="602.7" y="1724.2" font-size="33.86" text-anchor="start">ResNet18 Width Parameter</text>
<text transform="translate(134.4,1335.6) rotate(-90)" font-size="33.66" text-anchor="middle">Test Error</text>
<line x1="1051.2" y1="1053.5" x2="1105.8" y2="1053.5" stroke="#ff0000" stroke-width="2.5" stroke-dasharray="10.4 4.5"/>
<line x1="1051.2" y1="1094.4" x2="1105.8" y2="1094.4" stroke="#ee82ee" stroke-width="2.5" stroke-dasharray="10.4 4.5"/>
<text x="1126.45" y="1063.8" font-size="27.52" text-anchor="start">Optimal Early Stopping</text>
<text x="1126.45" y="1104" font-size="27.52" text-anchor="start">Final Train Loss</text>
<linearGradient id="gC" x1="0" y1="1" x2="0" y2="0">
<stop offset="0" stop-color="#440154"/>
<stop offset="0.04" stop-color="#471365"/>
<stop offset="0.08" stop-color="#482374"/>
<stop offset="0.12" stop-color="#46327e"/>
<stop offset="0.17" stop-color="#424186"/>
<stop offset="0.21" stop-color="#3c4f8a"/>
<stop offset="0.25" stop-color="#365c8d"/>
<stop offset="0.29" stop-color="#31688e"/>
<stop offset="0.33" stop-color="#2b748e"/>
<stop offset="0.38" stop-color="#27808e"/>
<stop offset="0.42" stop-color="#228b8d"/>
<stop offset="0.46" stop-color="#1f968b"/>
<stop offset="0.5" stop-color="#1fa187"/>
<stop offset="0.54" stop-color="#26ad81"/>
<stop offset="0.58" stop-color="#34b679"/>
<stop offset="0.62" stop-color="#48c16e"/>
<stop offset="0.67" stop-color="#5ec962"/>
<stop offset="0.71" stop-color="#77d153"/>
<stop offset="0.75" stop-color="#90d743"/>
<stop offset="0.79" stop-color="#a8db34"/>
<stop offset="0.83" stop-color="#c0df25"/>
<stop offset="0.88" stop-color="#d5e21a"/>
<stop offset="0.92" stop-color="#e5e419"/>
<stop offset="0.96" stop-color="#f4e61e"/>
<stop offset="1" stop-color="#fde725"/>
</linearGradient>
<rect x="1484.6" y="1017.4" width="44.7" height="635.2" fill="url(#gC)" stroke="#222" stroke-width="1"/>
<line x1="1529.3" y1="1017.4" x2="1533.5" y2="1017.4" stroke="#222" stroke-width="1"/>
<text x="1536.7" y="1028.8" font-size="28.4" text-anchor="start">1</text>
<line x1="1529.3" y1="1194.1" x2="1533.5" y2="1194.1" stroke="#222" stroke-width="1"/>
<text x="1536.7" y="1205.5" font-size="28.4" text-anchor="start">10</text>
<line x1="1529.3" y1="1370.8" x2="1533.5" y2="1370.8" stroke="#222" stroke-width="1"/>
<text x="1536.7" y="1382.2" font-size="28.4" text-anchor="start">100</text>
<line x1="1529.3" y1="1547.5" x2="1533.5" y2="1547.5" stroke="#222" stroke-width="1"/>
<text x="1536.7" y="1558.9" font-size="28.4" text-anchor="start">1000</text>
<text transform="translate(1642,1335) rotate(-90)" font-size="33.86" text-anchor="middle">Epochs</text>
</svg>
</body></html>
